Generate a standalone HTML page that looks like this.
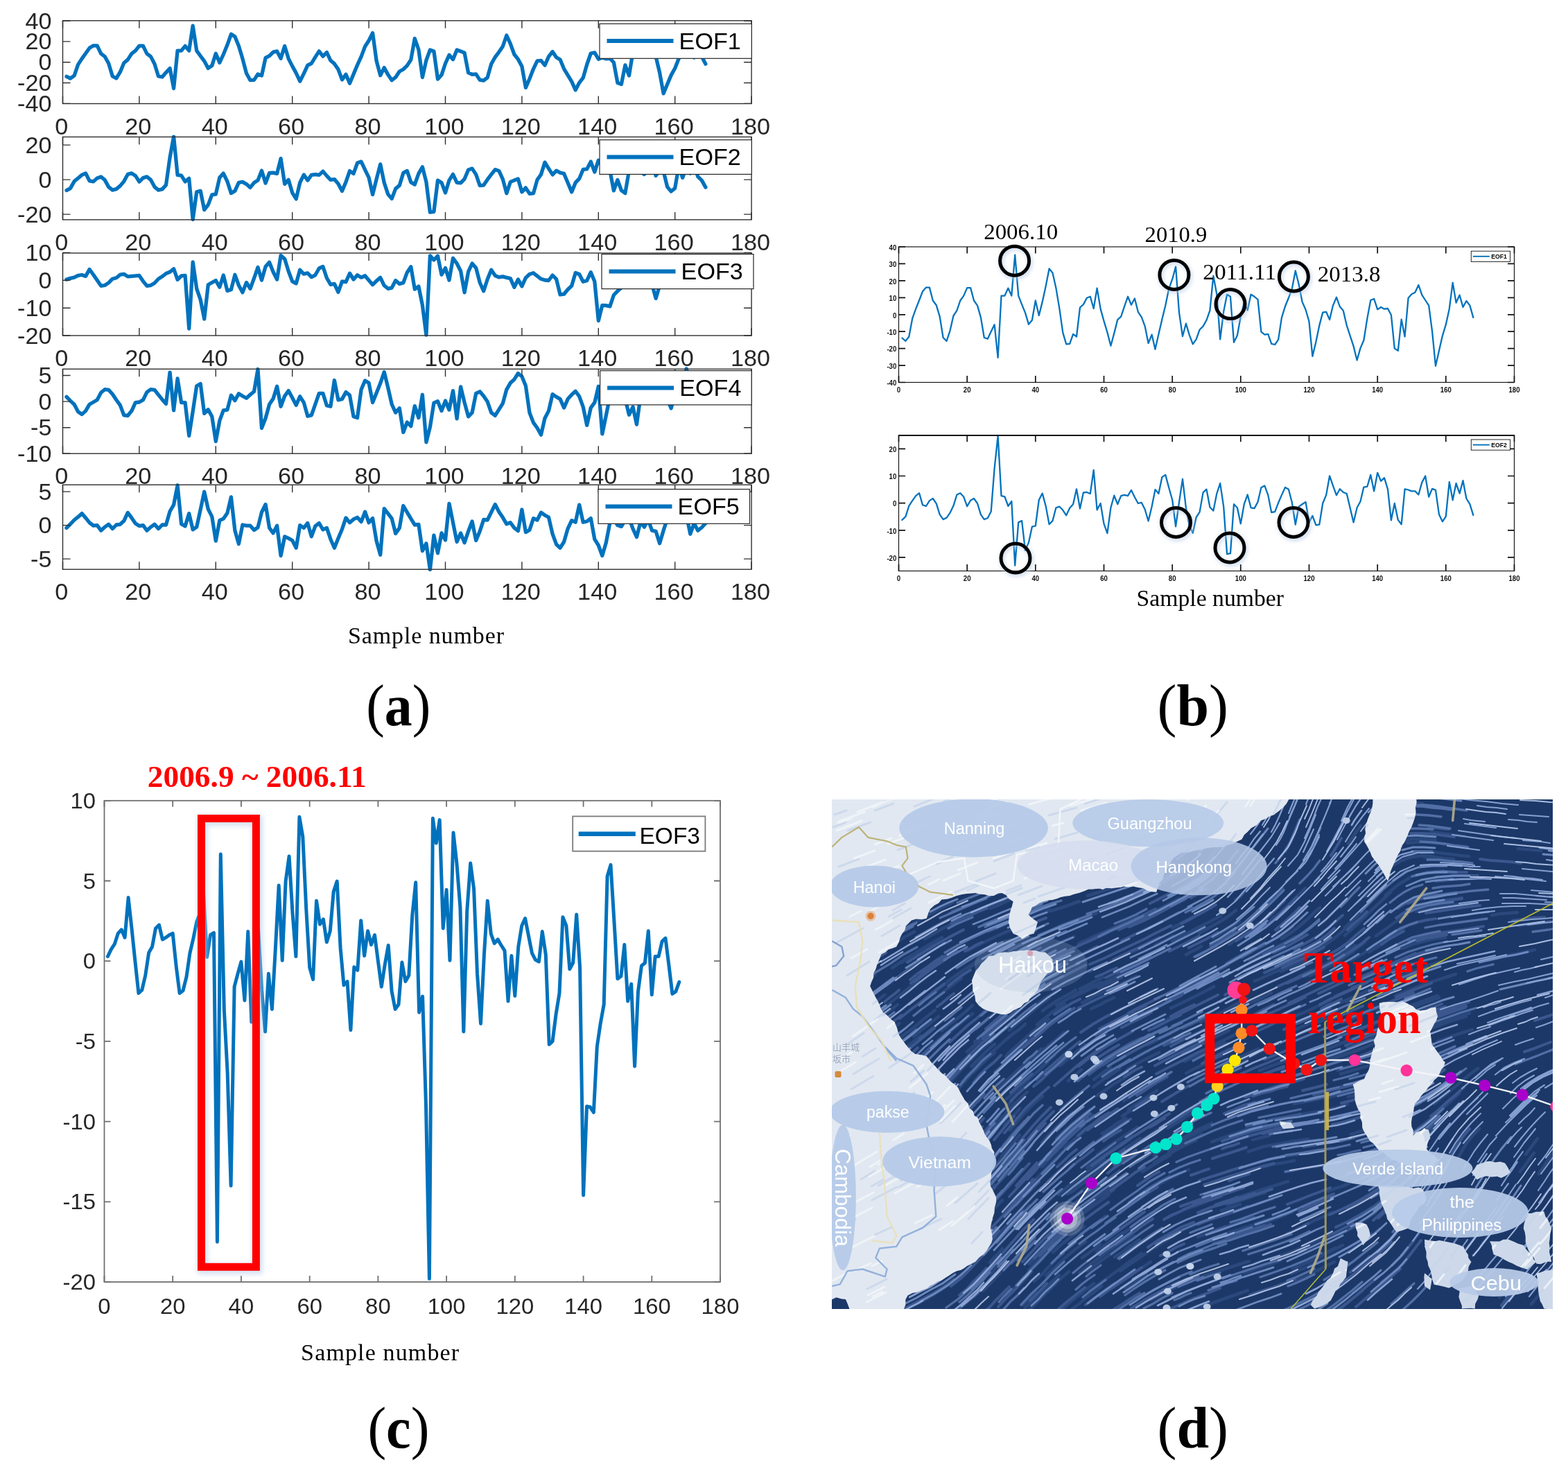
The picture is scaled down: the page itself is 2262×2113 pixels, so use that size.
<!DOCTYPE html><html><head><meta charset="utf-8"><title>EOF time series and typhoon track</title>
<style>html,body{margin:0;padding:0;background:#fff;width:2262px;height:2113px}svg{display:block}</style></head><body>
<svg width="2262" height="2113" viewBox="0 0 2262 2113">
<rect width="2262" height="2113" fill="#fff"/>
<g id="panel-a"><clipPath id="c1"><rect x="90.5" y="26.8" width="993.6" height="125.7"/></clipPath><polyline points="96,110.3 101.5,113 107.1,109.1 112.6,93.1 118.1,84.6 123.6,77 129.1,69.3 134.7,65.8 140.2,65.8 145.7,77.3 151.2,81.5 156.7,91.5 162.3,110 167.8,113 173.3,103.9 178.8,90.7 184.3,86.1 189.9,77.3 195.4,73.1 200.9,66.1 206.4,66.1 211.9,77.3 217.5,81.6 223,92.2 228.5,110 234,111 239.5,104.6 245.1,98.5 250.6,127.6 256.1,73.1 261.6,73.1 267.1,66.4 272.7,73.1 278.2,37.2 283.7,73.1 289.2,80.7 294.7,88.1 300.3,98.4 305.8,94.6 311.3,77.3 316.8,90.4 322.3,78.5 327.9,64.8 333.4,49.3 338.9,52.8 344.4,66.3 349.9,84.6 355.5,105.7 361,115.7 366.5,115.4 372,106.9 377.5,109.1 383.1,83.4 388.6,80.7 394.1,75.1 399.6,73.9 405.1,84.3 410.7,66.4 416.2,84.6 421.7,95.4 427.2,105.4 432.7,117.2 438.3,106.1 443.8,94.2 449.3,91.5 454.8,82.4 460.3,73.9 465.9,81.2 471.4,75.5 476.9,87.3 482.4,91.9 487.9,100 493.5,114.9 499,107.3 504.5,120.3 510,106.9 515.5,93.9 521.1,81.6 526.6,67 532.1,58.5 537.6,47.5 543.1,87.8 548.7,108.8 554.2,97.6 559.7,107.6 565.2,115.7 570.7,111.5 576.3,103 581.8,100 587.3,94.6 592.8,86.1 598.3,55.5 603.9,71.6 609.4,111.5 614.9,87 620.4,71.9 625.9,73.9 631.5,114.2 637,108.1 642.5,91.5 648,79.3 653.5,85.8 659.1,71.9 664.6,73.9 670.1,76.3 675.6,104.9 681.1,107.3 686.7,106.9 692.2,115.4 697.7,116.1 703.2,111.8 708.7,92.2 714.3,82.4 719.8,75.1 725.3,67 730.8,51 736.3,63.1 741.9,78.5 747.4,85.4 752.9,95.8 758.4,126.4 763.9,113.7 769.5,99.3 775,87.8 780.5,87.3 786,94.2 791.5,81.6 797.1,74.5 802.6,82.7 808.1,86.1 813.6,99.3 819.1,108.4 824.7,117.6 830.2,129.8 835.7,119.3 841.2,112.2 846.7,93 852.3,77 857.8,75.8 863.3,85.2 868.8,83.1 874.3,84.8 879.9,84.3 885.4,90 890.9,119.5 896.4,121.5 901.9,93.9 907.5,109.1 913,75.1 918.5,71.6 924,70.1 929.5,63.6 935.1,72.4 940.6,77 946.1,81.6 951.6,104.6 957.1,134.9 962.7,121.5 968.2,108.4 973.7,98.5 979.2,84.6 984.7,61.5 990.3,79.3 995.8,72.5 1001.3,83.1 1006.8,77.6 1012.3,81.6 1017.9,92.2" fill="none" stroke="#0072BD" stroke-width="5.3" stroke-linejoin="round" stroke-linecap="round" clip-path="url(#c1)"/><path d="M90.5 149.5v-11 M90.5 29.8v11 M200.9 149.5v-11 M200.9 29.8v11 M311.3 149.5v-11 M311.3 29.8v11 M421.7 149.5v-11 M421.7 29.8v11 M532.1 149.5v-11 M532.1 29.8v11 M642.5 149.5v-11 M642.5 29.8v11 M752.9 149.5v-11 M752.9 29.8v11 M863.3 149.5v-11 M863.3 29.8v11 M973.7 149.5v-11 M973.7 29.8v11 M1084.1 149.5v-11 M1084.1 29.8v11 M90.5 149.4h11 M1084.1 149.4h-11 M90.5 119.5h11 M1084.1 119.5h-11 M90.5 89.7h11 M1084.1 89.7h-11 M90.5 59.9h11 M1084.1 59.9h-11 M90.5 30h11 M1084.1 30h-11 " stroke="#303030" stroke-width="1.4" fill="none"/><rect x="90.5" y="29.8" width="993.6" height="119.7" fill="none" stroke="#303030" stroke-width="1.4"/><text transform="translate(88.9 193.7) scale(1.045 1)" font-family="'Liberation Sans', Arial, sans-serif" font-size="32.8" text-anchor="middle" fill="#262626" font-weight="normal" >0</text><text transform="translate(199.3 193.7) scale(1.045 1)" font-family="'Liberation Sans', Arial, sans-serif" font-size="32.8" text-anchor="middle" fill="#262626" font-weight="normal" >20</text><text transform="translate(309.7 193.7) scale(1.045 1)" font-family="'Liberation Sans', Arial, sans-serif" font-size="32.8" text-anchor="middle" fill="#262626" font-weight="normal" >40</text><text transform="translate(420.1 193.7) scale(1.045 1)" font-family="'Liberation Sans', Arial, sans-serif" font-size="32.8" text-anchor="middle" fill="#262626" font-weight="normal" >60</text><text transform="translate(530.5 193.7) scale(1.045 1)" font-family="'Liberation Sans', Arial, sans-serif" font-size="32.8" text-anchor="middle" fill="#262626" font-weight="normal" >80</text><text transform="translate(640.9 193.7) scale(1.045 1)" font-family="'Liberation Sans', Arial, sans-serif" font-size="32.8" text-anchor="middle" fill="#262626" font-weight="normal" >100</text><text transform="translate(751.3 193.7) scale(1.045 1)" font-family="'Liberation Sans', Arial, sans-serif" font-size="32.8" text-anchor="middle" fill="#262626" font-weight="normal" >120</text><text transform="translate(861.7 193.7) scale(1.045 1)" font-family="'Liberation Sans', Arial, sans-serif" font-size="32.8" text-anchor="middle" fill="#262626" font-weight="normal" >140</text><text transform="translate(972.1 193.7) scale(1.045 1)" font-family="'Liberation Sans', Arial, sans-serif" font-size="32.8" text-anchor="middle" fill="#262626" font-weight="normal" >160</text><text transform="translate(1082.5 193.7) scale(1.045 1)" font-family="'Liberation Sans', Arial, sans-serif" font-size="32.8" text-anchor="middle" fill="#262626" font-weight="normal" >180</text><text transform="translate(74.5 160.9) scale(1.045 1)" font-family="'Liberation Sans', Arial, sans-serif" font-size="32.8" text-anchor="end" fill="#262626" font-weight="normal" >-40</text><text transform="translate(74.5 131.1) scale(1.045 1)" font-family="'Liberation Sans', Arial, sans-serif" font-size="32.8" text-anchor="end" fill="#262626" font-weight="normal" >-20</text><text transform="translate(74.5 101.2) scale(1.045 1)" font-family="'Liberation Sans', Arial, sans-serif" font-size="32.8" text-anchor="end" fill="#262626" font-weight="normal" >0</text><text transform="translate(74.5 71.4) scale(1.045 1)" font-family="'Liberation Sans', Arial, sans-serif" font-size="32.8" text-anchor="end" fill="#262626" font-weight="normal" >20</text><text transform="translate(74.5 41.5) scale(1.045 1)" font-family="'Liberation Sans', Arial, sans-serif" font-size="32.8" text-anchor="end" fill="#262626" font-weight="normal" >40</text><rect x="865" y="34.3" width="219.3" height="50" fill="#fff" stroke="#262626" stroke-width="1.2"/><line x1="875.5" y1="59.1" x2="971.5" y2="59.1" stroke="#0072BD" stroke-width="6"/><text transform="translate(979.6 70.7) scale(1.02 1)" font-family="'Liberation Sans', Arial, sans-serif" font-size="33.5" text-anchor="start" fill="#000" font-weight="normal" >EOF1</text><clipPath id="c2"><rect x="90.5" y="194.5" width="993.6" height="125.4"/></clipPath><polyline points="96,274.6 101.5,271.6 107.1,261.6 112.6,256.9 118.1,252.4 123.6,249.9 129.1,260.9 134.7,261.9 140.2,256.9 145.7,254.9 151.2,259.6 156.7,269.6 162.3,274.1 167.8,272.6 173.3,268.1 178.8,261.6 184.3,251.4 189.9,249.9 195.4,253.4 200.9,262.1 206.4,256.6 211.9,254.9 217.5,259.4 223,269.6 228.5,274.1 234,272.9 239.5,266.9 245.1,227.1 250.6,197.1 256.1,252.4 261.6,253.1 267.1,261.9 272.7,257.4 278.2,316.6 283.7,276.9 289.2,275.4 294.7,302.6 300.3,295.4 305.8,280.9 311.3,280.1 316.8,256.1 322.3,250.1 327.9,261.6 333.4,278.6 338.9,275.4 344.4,263.4 349.9,262.4 355.5,265.6 361,270.4 366.5,263.6 372,260.1 377.5,246.1 383.1,264.1 388.6,249.4 394.1,249.1 399.6,250.4 405.1,228.6 410.7,265.4 416.2,259.4 421.7,278.1 427.2,286.9 432.7,263.4 438.3,252.1 443.8,260.1 449.3,252.4 454.8,251.6 460.3,252.4 465.9,247.1 471.4,253.6 476.9,259.4 482.4,258.6 487.9,264.9 493.5,275.6 499,262.4 504.5,246.6 510,250.4 515.5,235.1 521.1,233.1 526.6,244.9 532.1,256.1 537.6,280.6 543.1,258.4 548.7,236.9 554.2,263.4 559.7,280.1 565.2,286.6 570.7,272.1 576.3,267.4 581.8,249.4 587.3,246.4 592.8,262.9 598.3,266.1 603.9,250.4 609.4,240.9 614.9,262.4 620.4,306.1 625.9,305.4 631.5,260.1 637,263.4 642.5,278.1 648,260.1 653.5,251.4 659.1,263.4 664.6,263.9 670.1,258.1 675.6,244.9 681.1,243.1 686.7,251.6 692.2,267.6 697.7,267.1 703.2,258.9 708.7,251.6 714.3,244.6 719.8,246.4 725.3,258.4 730.8,278.9 736.3,262.4 741.9,260.1 747.4,258.1 752.9,276.9 758.4,270.9 763.9,279.4 769.5,278.9 775,259.4 780.5,251.6 786,234.1 791.5,243.1 797.1,251.9 802.6,246.1 808.1,249.1 813.6,250.4 819.1,263.6 824.7,276.9 830.2,263.4 835.7,257.6 841.2,244.4 846.7,243.9 852.3,233.1 857.8,248.1 863.3,231.1 868.8,238.9 874.3,235.9 879.9,246.4 885.4,274.9 890.9,259.4 896.4,274.6 901.9,278.6 907.5,246.1 913,246.9 918.5,248.1 924,248.1 929.5,251.4 935.1,240.1 940.6,234.1 946.1,253.4 951.6,245.9 957.1,247.1 962.7,269.6 968.2,276.1 973.7,271.4 979.2,239.6 984.7,256.4 990.3,240.9 995.8,250.1 1001.3,238.4 1006.8,254.9 1012.3,260.1 1017.9,270.1" fill="none" stroke="#0072BD" stroke-width="5.3" stroke-linejoin="round" stroke-linecap="round" clip-path="url(#c2)"/><path d="M90.5 316.9v-11 M90.5 197.5v11 M200.9 316.9v-11 M200.9 197.5v11 M311.3 316.9v-11 M311.3 197.5v11 M421.7 316.9v-11 M421.7 197.5v11 M532.1 316.9v-11 M532.1 197.5v11 M642.5 316.9v-11 M642.5 197.5v11 M752.9 316.9v-11 M752.9 197.5v11 M863.3 316.9v-11 M863.3 197.5v11 M973.7 316.9v-11 M973.7 197.5v11 M1084.1 316.9v-11 M1084.1 197.5v11 M90.5 309.1h11 M1084.1 309.1h-11 M90.5 259.1h11 M1084.1 259.1h-11 M90.5 209.1h11 M1084.1 209.1h-11 " stroke="#303030" stroke-width="1.4" fill="none"/><rect x="90.5" y="197.5" width="993.6" height="119.4" fill="none" stroke="#303030" stroke-width="1.4"/><text transform="translate(88.9 361.1) scale(1.045 1)" font-family="'Liberation Sans', Arial, sans-serif" font-size="32.8" text-anchor="middle" fill="#262626" font-weight="normal" >0</text><text transform="translate(199.3 361.1) scale(1.045 1)" font-family="'Liberation Sans', Arial, sans-serif" font-size="32.8" text-anchor="middle" fill="#262626" font-weight="normal" >20</text><text transform="translate(309.7 361.1) scale(1.045 1)" font-family="'Liberation Sans', Arial, sans-serif" font-size="32.8" text-anchor="middle" fill="#262626" font-weight="normal" >40</text><text transform="translate(420.1 361.1) scale(1.045 1)" font-family="'Liberation Sans', Arial, sans-serif" font-size="32.8" text-anchor="middle" fill="#262626" font-weight="normal" >60</text><text transform="translate(530.5 361.1) scale(1.045 1)" font-family="'Liberation Sans', Arial, sans-serif" font-size="32.8" text-anchor="middle" fill="#262626" font-weight="normal" >80</text><text transform="translate(640.9 361.1) scale(1.045 1)" font-family="'Liberation Sans', Arial, sans-serif" font-size="32.8" text-anchor="middle" fill="#262626" font-weight="normal" >100</text><text transform="translate(751.3 361.1) scale(1.045 1)" font-family="'Liberation Sans', Arial, sans-serif" font-size="32.8" text-anchor="middle" fill="#262626" font-weight="normal" >120</text><text transform="translate(861.7 361.1) scale(1.045 1)" font-family="'Liberation Sans', Arial, sans-serif" font-size="32.8" text-anchor="middle" fill="#262626" font-weight="normal" >140</text><text transform="translate(972.1 361.1) scale(1.045 1)" font-family="'Liberation Sans', Arial, sans-serif" font-size="32.8" text-anchor="middle" fill="#262626" font-weight="normal" >160</text><text transform="translate(1082.5 361.1) scale(1.045 1)" font-family="'Liberation Sans', Arial, sans-serif" font-size="32.8" text-anchor="middle" fill="#262626" font-weight="normal" >180</text><text transform="translate(74.5 320.6) scale(1.045 1)" font-family="'Liberation Sans', Arial, sans-serif" font-size="32.8" text-anchor="end" fill="#262626" font-weight="normal" >-20</text><text transform="translate(74.5 270.6) scale(1.045 1)" font-family="'Liberation Sans', Arial, sans-serif" font-size="32.8" text-anchor="end" fill="#262626" font-weight="normal" >0</text><text transform="translate(74.5 220.6) scale(1.045 1)" font-family="'Liberation Sans', Arial, sans-serif" font-size="32.8" text-anchor="end" fill="#262626" font-weight="normal" >20</text><rect x="865" y="201.7" width="219.3" height="49.7" fill="#fff" stroke="#262626" stroke-width="1.2"/><line x1="875.5" y1="226.5" x2="971.5" y2="226.5" stroke="#0072BD" stroke-width="6"/><text transform="translate(979.6 238.1) scale(1.02 1)" font-family="'Liberation Sans', Arial, sans-serif" font-size="33.5" text-anchor="start" fill="#000" font-weight="normal" >EOF2</text><clipPath id="c3"><rect x="90.5" y="362" width="993.6" height="125"/></clipPath><polyline points="96,403.1 101.5,401.4 107.1,400.1 112.6,397.4 118.1,396.5 123.6,398.4 129.1,388.5 134.7,396.2 140.2,404.3 145.7,412.3 151.2,411.5 156.7,407.9 162.3,402.2 167.8,400.7 173.3,396.2 178.8,395.3 184.3,398.9 189.9,398.4 195.4,397.8 200.9,397.4 206.4,405.6 211.9,412.3 217.5,411.6 223,408.2 228.5,402.3 234,398.8 239.5,394.5 245.1,392.3 250.6,387.7 256.1,403.3 261.6,397.8 267.1,397.3 272.7,474 278.2,377.8 283.7,416.3 289.2,432.2 294.7,460.1 300.3,410.7 305.8,407.5 311.3,404.5 316.8,414.1 322.3,397 327.9,419.4 333.4,417.8 338.9,396.3 344.4,411.5 349.9,421.8 355.5,407.4 361,416.3 366.5,401.4 372,385.5 377.5,404.1 383.1,384.5 388.6,378.2 394.1,392.3 399.6,403.1 405.1,368.5 410.7,373.4 416.2,391.3 421.7,405.9 427.2,408.8 432.7,389.3 438.3,395.2 443.8,393.9 449.3,399.6 454.8,396.8 460.3,387 465.9,384.5 471.4,401 476.9,410.3 482.4,409.4 487.9,421.4 493.5,405.8 499,406.6 504.5,394.2 510,403 515.5,396.8 521.1,400.2 526.6,397.8 532.1,404.3 537.6,410.7 543.1,405.1 548.7,400.4 554.2,411.8 559.7,416.3 565.2,415.1 570.7,404.6 576.3,409.4 581.8,407.9 587.3,392.9 592.8,384.8 598.3,417.1 603.9,413.1 609.4,440.2 614.9,483.2 620.4,368.8 625.9,375 631.5,369.2 637,396.2 642.5,386.6 648,404.1 653.5,372.4 659.1,380 664.6,391 670.1,421.8 675.6,391.9 681.1,380 686.7,386.4 692.2,407.5 697.7,419.8 703.2,402.7 708.7,389.3 714.3,397.5 719.8,399.9 725.3,398.9 730.8,400.4 736.3,401.7 741.9,414.3 747.4,403 752.9,412.9 758.4,400.7 763.9,395.5 769.5,393.7 775,398.1 780.5,402.3 786,404 791.5,404.5 797.1,397 802.6,402.7 808.1,425 813.6,424.2 819.1,417.5 824.7,412.3 830.2,393.4 835.7,395.5 841.2,406.3 846.7,404.7 852.3,392.7 857.8,405.9 863.3,462.5 868.8,440.4 874.3,440.6 879.9,441.9 885.4,425.5 890.9,419.8 896.4,415.1 901.9,383.2 907.5,380.4 913,394.5 918.5,408.7 924,408 929.5,400.2 935.1,414.3 940.6,410 946.1,430.4 951.6,411.9 957.1,405.5 962.7,404.8 968.2,396.8 973.7,412.7 979.2,403.1 984.7,403.1 990.3,399.4 995.8,398.6 1001.3,405.5 1006.8,412.4 1012.3,411.9 1017.9,409.5" fill="none" stroke="#0072BD" stroke-width="5.3" stroke-linejoin="round" stroke-linecap="round" clip-path="url(#c3)"/><path d="M90.5 484v-11 M90.5 365v11 M200.9 484v-11 M200.9 365v11 M311.3 484v-11 M311.3 365v11 M421.7 484v-11 M421.7 365v11 M532.1 484v-11 M532.1 365v11 M642.5 484v-11 M642.5 365v11 M752.9 484v-11 M752.9 365v11 M863.3 484v-11 M863.3 365v11 M973.7 484v-11 M973.7 365v11 M1084.1 484v-11 M1084.1 365v11 M90.5 484h11 M1084.1 484h-11 M90.5 444.2h11 M1084.1 444.2h-11 M90.5 404.3h11 M1084.1 404.3h-11 M90.5 364.4h11 M1084.1 364.4h-11 " stroke="#303030" stroke-width="1.4" fill="none"/><rect x="90.5" y="365" width="993.6" height="119" fill="none" stroke="#303030" stroke-width="1.4"/><text transform="translate(88.9 528.2) scale(1.045 1)" font-family="'Liberation Sans', Arial, sans-serif" font-size="32.8" text-anchor="middle" fill="#262626" font-weight="normal" >0</text><text transform="translate(199.3 528.2) scale(1.045 1)" font-family="'Liberation Sans', Arial, sans-serif" font-size="32.8" text-anchor="middle" fill="#262626" font-weight="normal" >20</text><text transform="translate(309.7 528.2) scale(1.045 1)" font-family="'Liberation Sans', Arial, sans-serif" font-size="32.8" text-anchor="middle" fill="#262626" font-weight="normal" >40</text><text transform="translate(420.1 528.2) scale(1.045 1)" font-family="'Liberation Sans', Arial, sans-serif" font-size="32.8" text-anchor="middle" fill="#262626" font-weight="normal" >60</text><text transform="translate(530.5 528.2) scale(1.045 1)" font-family="'Liberation Sans', Arial, sans-serif" font-size="32.8" text-anchor="middle" fill="#262626" font-weight="normal" >80</text><text transform="translate(640.9 528.2) scale(1.045 1)" font-family="'Liberation Sans', Arial, sans-serif" font-size="32.8" text-anchor="middle" fill="#262626" font-weight="normal" >100</text><text transform="translate(751.3 528.2) scale(1.045 1)" font-family="'Liberation Sans', Arial, sans-serif" font-size="32.8" text-anchor="middle" fill="#262626" font-weight="normal" >120</text><text transform="translate(861.7 528.2) scale(1.045 1)" font-family="'Liberation Sans', Arial, sans-serif" font-size="32.8" text-anchor="middle" fill="#262626" font-weight="normal" >140</text><text transform="translate(972.1 528.2) scale(1.045 1)" font-family="'Liberation Sans', Arial, sans-serif" font-size="32.8" text-anchor="middle" fill="#262626" font-weight="normal" >160</text><text transform="translate(1082.5 528.2) scale(1.045 1)" font-family="'Liberation Sans', Arial, sans-serif" font-size="32.8" text-anchor="middle" fill="#262626" font-weight="normal" >180</text><text transform="translate(74.5 495.5) scale(1.045 1)" font-family="'Liberation Sans', Arial, sans-serif" font-size="32.8" text-anchor="end" fill="#262626" font-weight="normal" >-20</text><text transform="translate(74.5 455.7) scale(1.045 1)" font-family="'Liberation Sans', Arial, sans-serif" font-size="32.8" text-anchor="end" fill="#262626" font-weight="normal" >-10</text><text transform="translate(74.5 415.8) scale(1.045 1)" font-family="'Liberation Sans', Arial, sans-serif" font-size="32.8" text-anchor="end" fill="#262626" font-weight="normal" >0</text><text transform="translate(74.5 375.9) scale(1.045 1)" font-family="'Liberation Sans', Arial, sans-serif" font-size="32.8" text-anchor="end" fill="#262626" font-weight="normal" >10</text><rect x="868" y="366.6" width="219" height="50" fill="#fff" stroke="#262626" stroke-width="1.2"/><line x1="878.5" y1="391.4" x2="974.5" y2="391.4" stroke="#0072BD" stroke-width="6"/><text transform="translate(982.6 403) scale(1.02 1)" font-family="'Liberation Sans', Arial, sans-serif" font-size="33.5" text-anchor="start" fill="#000" font-weight="normal" >EOF3</text><clipPath id="c4"><rect x="90.5" y="529.3" width="993.6" height="127.9"/></clipPath><polyline points="96,572.4 101.5,578.1 107.1,583.2 112.6,593.8 118.1,597.6 123.6,592.6 129.1,583.2 134.7,580 140.2,576.8 145.7,566.2 151.2,561.7 156.7,562.3 162.3,568.6 167.8,576.8 173.3,584.4 178.8,598.9 184.3,599.5 189.9,592.6 195.4,580.6 200.9,580 206.4,576.8 211.9,565.6 217.5,561.7 223,562.3 228.5,569.3 234,576.2 239.5,582.5 245.1,537.1 250.6,591.9 256.1,546 261.6,580.6 267.1,580.6 272.7,628.5 278.2,593.4 283.7,556.7 289.2,553.5 294.7,596.4 300.3,590.7 305.8,600.8 311.3,636.6 316.8,606.9 322.3,591.9 327.9,591.1 333.4,570.1 338.9,577.6 344.4,567.8 349.9,571.2 355.5,574.3 361,569.3 366.5,564.8 372,532.5 377.5,617.5 383.1,603.2 388.6,583.2 394.1,575 399.6,557.3 405.1,586.2 410.7,571.2 416.2,563.6 421.7,573.7 427.2,584.4 432.7,571.8 438.3,580.6 443.8,600.2 449.3,598.9 454.8,583.2 460.3,567.4 465.9,567.4 471.4,585 476.9,586.2 482.4,548.5 487.9,576.8 493.5,575.6 499,565.6 504.5,570.1 510,600.8 515.5,602.6 521.1,561.8 526.6,549 532.1,552.3 537.6,580.6 543.1,566.8 548.7,552.8 554.2,536.5 559.7,558.8 565.2,583.2 570.7,595.1 576.3,588.8 581.8,623.5 587.3,609 592.8,614.6 598.3,585.6 603.9,602.6 609.4,569.3 614.9,637.8 620.4,615.9 625.9,581.2 631.5,578.7 637,592.6 642.5,578.1 648,591.1 653.5,563.6 659.1,603.9 664.6,558 670.1,580.6 675.6,600.8 681.1,595.1 686.7,567.4 692.2,564.8 697.7,571.2 703.2,579.3 708.7,595.1 714.3,599.4 719.8,590.7 725.3,581.9 730.8,561.8 736.3,552.3 741.9,547.2 747.4,538.5 752.9,543 758.4,556.5 763.9,595.1 769.5,609.6 775,617.2 780.5,627.2 786,603.2 791.5,592.6 797.1,568.6 802.6,572.4 808.1,575.6 813.6,588.1 819.1,575.6 824.7,569.3 830.2,564.2 835.7,571.8 841.2,586.9 846.7,613.4 852.3,588.1 857.8,580.6 863.3,557.3 868.8,625.9 874.3,599.4 879.9,571.6 885.4,560.3 890.9,552.8 896.4,560.3 901.9,575.3 907.5,598.3 913,586.9 918.5,612.2 924,571.6 929.5,560.3 935.1,556.5 940.6,564.1 946.1,556.5 951.6,560.3 957.1,567.8 962.7,575.3 968.2,588.9 973.7,567.8 979.2,560.3 984.7,552.8 990.3,531.7 995.8,556.5 1001.3,567.8 1006.8,560.3 1012.3,567.8 1017.9,573.1" fill="none" stroke="#0072BD" stroke-width="5.3" stroke-linejoin="round" stroke-linecap="round" clip-path="url(#c4)"/><path d="M90.5 654.2v-11 M90.5 532.3v11 M200.9 654.2v-11 M200.9 532.3v11 M311.3 654.2v-11 M311.3 532.3v11 M421.7 654.2v-11 M421.7 532.3v11 M532.1 654.2v-11 M532.1 532.3v11 M642.5 654.2v-11 M642.5 532.3v11 M752.9 654.2v-11 M752.9 532.3v11 M863.3 654.2v-11 M863.3 532.3v11 M973.7 654.2v-11 M973.7 532.3v11 M1084.1 654.2v-11 M1084.1 532.3v11 M90.5 654.3h11 M1084.1 654.3h-11 M90.5 616.7h11 M1084.1 616.7h-11 M90.5 579.1h11 M1084.1 579.1h-11 M90.5 541.5h11 M1084.1 541.5h-11 " stroke="#303030" stroke-width="1.4" fill="none"/><rect x="90.5" y="532.3" width="993.6" height="121.9" fill="none" stroke="#303030" stroke-width="1.4"/><text transform="translate(88.9 698.4) scale(1.045 1)" font-family="'Liberation Sans', Arial, sans-serif" font-size="32.8" text-anchor="middle" fill="#262626" font-weight="normal" >0</text><text transform="translate(199.3 698.4) scale(1.045 1)" font-family="'Liberation Sans', Arial, sans-serif" font-size="32.8" text-anchor="middle" fill="#262626" font-weight="normal" >20</text><text transform="translate(309.7 698.4) scale(1.045 1)" font-family="'Liberation Sans', Arial, sans-serif" font-size="32.8" text-anchor="middle" fill="#262626" font-weight="normal" >40</text><text transform="translate(420.1 698.4) scale(1.045 1)" font-family="'Liberation Sans', Arial, sans-serif" font-size="32.8" text-anchor="middle" fill="#262626" font-weight="normal" >60</text><text transform="translate(530.5 698.4) scale(1.045 1)" font-family="'Liberation Sans', Arial, sans-serif" font-size="32.8" text-anchor="middle" fill="#262626" font-weight="normal" >80</text><text transform="translate(640.9 698.4) scale(1.045 1)" font-family="'Liberation Sans', Arial, sans-serif" font-size="32.8" text-anchor="middle" fill="#262626" font-weight="normal" >100</text><text transform="translate(751.3 698.4) scale(1.045 1)" font-family="'Liberation Sans', Arial, sans-serif" font-size="32.8" text-anchor="middle" fill="#262626" font-weight="normal" >120</text><text transform="translate(861.7 698.4) scale(1.045 1)" font-family="'Liberation Sans', Arial, sans-serif" font-size="32.8" text-anchor="middle" fill="#262626" font-weight="normal" >140</text><text transform="translate(972.1 698.4) scale(1.045 1)" font-family="'Liberation Sans', Arial, sans-serif" font-size="32.8" text-anchor="middle" fill="#262626" font-weight="normal" >160</text><text transform="translate(1082.5 698.4) scale(1.045 1)" font-family="'Liberation Sans', Arial, sans-serif" font-size="32.8" text-anchor="middle" fill="#262626" font-weight="normal" >180</text><text transform="translate(74.5 665.8) scale(1.045 1)" font-family="'Liberation Sans', Arial, sans-serif" font-size="32.8" text-anchor="end" fill="#262626" font-weight="normal" >-10</text><text transform="translate(74.5 628.2) scale(1.045 1)" font-family="'Liberation Sans', Arial, sans-serif" font-size="32.8" text-anchor="end" fill="#262626" font-weight="normal" >-5</text><text transform="translate(74.5 590.6) scale(1.045 1)" font-family="'Liberation Sans', Arial, sans-serif" font-size="32.8" text-anchor="end" fill="#262626" font-weight="normal" >0</text><text transform="translate(74.5 553) scale(1.045 1)" font-family="'Liberation Sans', Arial, sans-serif" font-size="32.8" text-anchor="end" fill="#262626" font-weight="normal" >5</text><rect x="865.6" y="534.6" width="218.6" height="49.3" fill="#fff" stroke="#262626" stroke-width="1.2"/><line x1="876.1" y1="559.4" x2="972.1" y2="559.4" stroke="#0072BD" stroke-width="6"/><text transform="translate(980.2 571) scale(1.02 1)" font-family="'Liberation Sans', Arial, sans-serif" font-size="33.5" text-anchor="start" fill="#000" font-weight="normal" >EOF4</text><clipPath id="c5"><rect x="90.5" y="696.3" width="993.6" height="127.9"/></clipPath><polyline points="96,761.4 101.5,755.8 107.1,750 112.6,745.7 118.1,740.6 123.6,746.9 129.1,753.8 134.7,758.2 140.2,757.6 145.7,765.2 151.2,760.1 156.7,756.3 162.3,762.6 167.8,757 173.3,756.3 178.8,751.3 184.3,739.4 189.9,746.9 195.4,755.1 200.9,758.6 206.4,757.6 211.9,765.2 217.5,760.1 223,756.3 228.5,762.6 234,757 239.5,757 245.1,737.5 250.6,728.1 256.1,699.9 261.6,755.8 267.1,758.9 272.7,740.6 278.2,763.9 283.7,760.1 289.2,735 294.7,709.3 300.3,734.4 305.8,745.1 311.3,780.2 316.8,750.7 322.3,748.2 327.9,740 333.4,716.9 338.9,765.2 344.4,784.6 349.9,757 355.5,758.2 361,758.2 366.5,764.5 372,760.7 377.5,738.8 383.1,727.5 388.6,761.4 394.1,768.9 399.6,758.2 405.1,801.5 410.7,773.9 416.2,776.4 421.7,779.5 427.2,790.2 432.7,757.6 438.3,761.4 443.8,754.5 449.3,773.9 454.8,758.9 460.3,754.5 465.9,763.9 471.4,761.4 476.9,777.7 482.4,790.2 487.9,776.4 493.5,763.2 499,746.9 504.5,753.8 510,748.9 515.5,746.3 521.1,752.6 526.6,738.2 532.1,753.8 537.6,747.6 543.1,780.2 548.7,800.3 554.2,733.7 559.7,740.7 565.2,747.9 570.7,769.5 576.3,761.4 581.8,729.5 587.3,738.8 592.8,748.2 598.3,757 603.9,756.3 609.4,794.5 614.9,783.8 620.4,821.6 625.9,772.1 631.5,797.8 637,768.9 642.5,778.9 648,726.3 653.5,753.8 659.1,781.5 664.6,768.9 670.1,782.7 675.6,766.3 681.1,752 686.7,779.5 692.2,766.3 697.7,749.5 703.2,750 708.7,738.8 714.3,727.5 719.8,738.2 725.3,746.3 730.8,755.8 736.3,753.8 741.9,761.4 747.4,765.7 752.9,735 758.4,767.6 763.9,764.5 769.5,747.6 775,750 780.5,739.2 786,743.1 791.5,746 797.1,770.2 802.6,785.2 808.1,790.2 813.6,781.5 819.1,762.6 824.7,750.7 830.2,753.2 835.7,728.1 841.2,753.2 846.7,752 852.3,747.6 857.8,777.7 863.3,786.5 868.8,801.5 874.3,782.7 879.9,753.8 885.4,747.9 890.9,757.6 896.4,759.4 901.9,749.8 907.5,747.9 913,762.5 918.5,774.6 924,752.8 929.5,760.1 935.1,749.8 940.6,765.2 946.1,766.3 951.6,783.8 957.1,765.2 962.7,747.9 968.2,743.1 973.7,738.2 979.2,743.1 984.7,747.9 990.3,743.1 995.8,770.2 1001.3,754.7 1006.8,765.2 1012.3,760.7 1017.9,754.7" fill="none" stroke="#0072BD" stroke-width="5.3" stroke-linejoin="round" stroke-linecap="round" clip-path="url(#c5)"/><path d="M90.5 821.2v-11 M90.5 699.3v11 M200.9 821.2v-11 M200.9 699.3v11 M311.3 821.2v-11 M311.3 699.3v11 M421.7 821.2v-11 M421.7 699.3v11 M532.1 821.2v-11 M532.1 699.3v11 M642.5 821.2v-11 M642.5 699.3v11 M752.9 821.2v-11 M752.9 699.3v11 M863.3 821.2v-11 M863.3 699.3v11 M973.7 821.2v-11 M973.7 699.3v11 M1084.1 821.2v-11 M1084.1 699.3v11 M90.5 806.1h11 M1084.1 806.1h-11 M90.5 757.6h11 M1084.1 757.6h-11 M90.5 709.1h11 M1084.1 709.1h-11 " stroke="#303030" stroke-width="1.4" fill="none"/><rect x="90.5" y="699.3" width="993.6" height="121.9" fill="none" stroke="#303030" stroke-width="1.4"/><text transform="translate(88.9 865.4) scale(1.045 1)" font-family="'Liberation Sans', Arial, sans-serif" font-size="32.8" text-anchor="middle" fill="#262626" font-weight="normal" >0</text><text transform="translate(199.3 865.4) scale(1.045 1)" font-family="'Liberation Sans', Arial, sans-serif" font-size="32.8" text-anchor="middle" fill="#262626" font-weight="normal" >20</text><text transform="translate(309.7 865.4) scale(1.045 1)" font-family="'Liberation Sans', Arial, sans-serif" font-size="32.8" text-anchor="middle" fill="#262626" font-weight="normal" >40</text><text transform="translate(420.1 865.4) scale(1.045 1)" font-family="'Liberation Sans', Arial, sans-serif" font-size="32.8" text-anchor="middle" fill="#262626" font-weight="normal" >60</text><text transform="translate(530.5 865.4) scale(1.045 1)" font-family="'Liberation Sans', Arial, sans-serif" font-size="32.8" text-anchor="middle" fill="#262626" font-weight="normal" >80</text><text transform="translate(640.9 865.4) scale(1.045 1)" font-family="'Liberation Sans', Arial, sans-serif" font-size="32.8" text-anchor="middle" fill="#262626" font-weight="normal" >100</text><text transform="translate(751.3 865.4) scale(1.045 1)" font-family="'Liberation Sans', Arial, sans-serif" font-size="32.8" text-anchor="middle" fill="#262626" font-weight="normal" >120</text><text transform="translate(861.7 865.4) scale(1.045 1)" font-family="'Liberation Sans', Arial, sans-serif" font-size="32.8" text-anchor="middle" fill="#262626" font-weight="normal" >140</text><text transform="translate(972.1 865.4) scale(1.045 1)" font-family="'Liberation Sans', Arial, sans-serif" font-size="32.8" text-anchor="middle" fill="#262626" font-weight="normal" >160</text><text transform="translate(1082.5 865.4) scale(1.045 1)" font-family="'Liberation Sans', Arial, sans-serif" font-size="32.8" text-anchor="middle" fill="#262626" font-weight="normal" >180</text><text transform="translate(74.5 817.6) scale(1.045 1)" font-family="'Liberation Sans', Arial, sans-serif" font-size="32.8" text-anchor="end" fill="#262626" font-weight="normal" >-5</text><text transform="translate(74.5 769.1) scale(1.045 1)" font-family="'Liberation Sans', Arial, sans-serif" font-size="32.8" text-anchor="end" fill="#262626" font-weight="normal" >0</text><text transform="translate(74.5 720.6) scale(1.045 1)" font-family="'Liberation Sans', Arial, sans-serif" font-size="32.8" text-anchor="end" fill="#262626" font-weight="normal" >5</text><rect x="863" y="705.6" width="218.5" height="49.7" fill="#fff" stroke="#262626" stroke-width="1.2"/><line x1="873.5" y1="730.4" x2="969.5" y2="730.4" stroke="#0072BD" stroke-width="6"/><text transform="translate(977.6 742) scale(1.02 1)" font-family="'Liberation Sans', Arial, sans-serif" font-size="33.5" text-anchor="start" fill="#000" font-weight="normal" >EOF5</text><text x="614.5" y="927.8" font-family="'Liberation Serif', 'Times New Roman', serif" font-size="34" text-anchor="middle" fill="#000" font-weight="normal" textLength="225" lengthAdjust="spacing">Sample number</text></g>
<g id="panel-b"><clipPath id="c6"><rect x="1296.5" y="355" width="888" height="197.5"/></clipPath><polyline points="1301.4,487.5 1306.4,491.9 1311.3,485.5 1316.2,459.4 1321.2,445.4 1326.1,433 1331,420.3 1336,414.6 1340.9,414.6 1345.8,433.5 1350.8,440.3 1355.7,456.7 1360.6,487 1365.6,491.9 1370.5,477 1375.4,455.5 1380.4,447.9 1385.3,433.5 1390.2,426.6 1395.2,415.1 1400.1,415.1 1405,433.5 1410,440.6 1414.9,457.9 1419.8,487 1424.8,488.7 1429.7,478.2 1434.6,468.2 1439.6,515.8 1444.5,426.6 1449.4,426.6 1454.4,415.6 1459.3,426.6 1464.2,367.7 1469.2,426.6 1474.1,439.1 1479,451.1 1484,467.9 1488.9,461.8 1493.8,433.5 1498.8,455 1503.7,435.4 1508.6,412.9 1513.6,387.5 1518.5,393.4 1523.4,415.4 1528.4,445.4 1533.3,479.9 1538.2,496.3 1543.2,495.8 1548.1,481.9 1553,485.5 1558,443.5 1562.9,439.1 1567.8,429.8 1572.8,427.8 1577.7,445 1582.6,415.6 1587.6,445.4 1592.5,463 1597.4,479.4 1602.4,498.7 1607.3,480.6 1612.2,461.1 1617.2,456.7 1622.1,441.8 1627,427.8 1632,439.8 1636.9,430.5 1641.8,449.8 1646.8,457.4 1651.7,470.6 1656.6,495 1661.6,482.6 1666.5,503.8 1671.4,481.9 1676.4,460.6 1681.3,440.6 1686.2,416.6 1691.2,402.7 1696.1,384.6 1701,450.6 1706,485 1710.9,466.7 1715.8,483.1 1720.8,496.3 1725.7,489.4 1730.6,475.5 1735.6,470.6 1740.5,461.8 1745.4,447.9 1750.4,397.8 1755.3,424.2 1760.2,489.4 1765.2,449.4 1770.1,424.7 1775,427.8 1780,493.8 1784.9,483.8 1789.8,456.7 1794.8,436.6 1799.7,447.4 1804.6,424.7 1809.6,427.8 1814.5,431.8 1819.4,478.7 1824.4,482.6 1829.3,481.9 1834.2,495.8 1839.2,497 1844.1,489.9 1849,457.9 1854,441.8 1858.9,429.8 1863.8,416.6 1868.8,390.5 1873.7,410.3 1878.6,435.4 1883.6,446.7 1888.5,463.8 1893.4,513.9 1898.4,493.1 1903.3,469.4 1908.2,450.6 1913.2,449.8 1918.1,461.1 1923,440.6 1928,428.8 1932.9,442.3 1937.8,447.9 1942.8,469.4 1947.7,484.3 1952.6,499.4 1957.6,519.5 1962.5,502.1 1967.4,490.7 1972.4,459.1 1977.3,433 1982.2,431 1987.2,446.4 1992.1,443 1997,445.7 2002,445 2006.9,454.2 2011.8,502.6 2016.8,505.8 2021.7,460.6 2026.6,485.5 2031.6,429.8 2036.5,424.2 2041.4,421.7 2046.4,411 2051.3,425.4 2056.2,433 2061.2,440.6 2066.1,478.2 2071,527.8 2076,505.8 2080.9,484.3 2085.8,468.2 2090.8,445.4 2095.7,407.6 2100.6,436.6 2105.6,425.6 2110.5,443 2115.4,434 2120.4,440.6 2125.3,457.9" fill="none" stroke="#0072BD" stroke-width="2.3" stroke-linejoin="round" stroke-linecap="round" clip-path="url(#c6)"/><path d="M1296.5 551.5v-9.5 M1296.5 356v9.5 M1395.2 551.5v-9.5 M1395.2 356v9.5 M1493.8 551.5v-9.5 M1493.8 356v9.5 M1592.5 551.5v-9.5 M1592.5 356v9.5 M1691.2 551.5v-9.5 M1691.2 356v9.5 M1789.8 551.5v-9.5 M1789.8 356v9.5 M1888.5 551.5v-9.5 M1888.5 356v9.5 M1987.2 551.5v-9.5 M1987.2 356v9.5 M2085.8 551.5v-9.5 M2085.8 356v9.5 M2184.5 551.5v-9.5 M2184.5 356v9.5 M1296.5 551.5h9.5 M2184.5 551.5h-9.5 M1296.5 527.1h9.5 M2184.5 527.1h-9.5 M1296.5 502.6h9.5 M2184.5 502.6h-9.5 M1296.5 478.2h9.5 M2184.5 478.2h-9.5 M1296.5 453.8h9.5 M2184.5 453.8h-9.5 M1296.5 429.3h9.5 M2184.5 429.3h-9.5 M1296.5 404.9h9.5 M2184.5 404.9h-9.5 M1296.5 380.4h9.5 M2184.5 380.4h-9.5 M1296.5 356h9.5 M2184.5 356h-9.5 " stroke="#111" stroke-width="1.7" fill="none"/><rect x="1296.5" y="356" width="888" height="195.5" fill="none" stroke="#111" stroke-width="1.15"/><text transform="translate(1296.5 566.1) scale(0.96 1)" font-family="'Liberation Sans', Arial, sans-serif" font-size="10" text-anchor="middle" fill="#111" font-weight="bold" >0</text><text transform="translate(1395.2 566.1) scale(0.96 1)" font-family="'Liberation Sans', Arial, sans-serif" font-size="10" text-anchor="middle" fill="#111" font-weight="bold" >20</text><text transform="translate(1493.8 566.1) scale(0.96 1)" font-family="'Liberation Sans', Arial, sans-serif" font-size="10" text-anchor="middle" fill="#111" font-weight="bold" >40</text><text transform="translate(1592.5 566.1) scale(0.96 1)" font-family="'Liberation Sans', Arial, sans-serif" font-size="10" text-anchor="middle" fill="#111" font-weight="bold" >60</text><text transform="translate(1691.2 566.1) scale(0.96 1)" font-family="'Liberation Sans', Arial, sans-serif" font-size="10" text-anchor="middle" fill="#111" font-weight="bold" >80</text><text transform="translate(1789.8 566.1) scale(0.96 1)" font-family="'Liberation Sans', Arial, sans-serif" font-size="10" text-anchor="middle" fill="#111" font-weight="bold" >100</text><text transform="translate(1888.5 566.1) scale(0.96 1)" font-family="'Liberation Sans', Arial, sans-serif" font-size="10" text-anchor="middle" fill="#111" font-weight="bold" >120</text><text transform="translate(1987.2 566.1) scale(0.96 1)" font-family="'Liberation Sans', Arial, sans-serif" font-size="10" text-anchor="middle" fill="#111" font-weight="bold" >140</text><text transform="translate(2085.8 566.1) scale(0.96 1)" font-family="'Liberation Sans', Arial, sans-serif" font-size="10" text-anchor="middle" fill="#111" font-weight="bold" >160</text><text transform="translate(2184.5 566.1) scale(0.96 1)" font-family="'Liberation Sans', Arial, sans-serif" font-size="10" text-anchor="middle" fill="#111" font-weight="bold" >180</text><text transform="translate(1293.3 556.3) scale(0.96 1)" font-family="'Liberation Sans', Arial, sans-serif" font-size="10" text-anchor="end" fill="#111" font-weight="bold" >-40</text><text transform="translate(1293.3 531.9) scale(0.96 1)" font-family="'Liberation Sans', Arial, sans-serif" font-size="10" text-anchor="end" fill="#111" font-weight="bold" >-30</text><text transform="translate(1293.3 507.4) scale(0.96 1)" font-family="'Liberation Sans', Arial, sans-serif" font-size="10" text-anchor="end" fill="#111" font-weight="bold" >-20</text><text transform="translate(1293.3 483) scale(0.96 1)" font-family="'Liberation Sans', Arial, sans-serif" font-size="10" text-anchor="end" fill="#111" font-weight="bold" >-10</text><text transform="translate(1293.3 458.6) scale(0.96 1)" font-family="'Liberation Sans', Arial, sans-serif" font-size="10" text-anchor="end" fill="#111" font-weight="bold" >0</text><text transform="translate(1293.3 434.1) scale(0.96 1)" font-family="'Liberation Sans', Arial, sans-serif" font-size="10" text-anchor="end" fill="#111" font-weight="bold" >10</text><text transform="translate(1293.3 409.7) scale(0.96 1)" font-family="'Liberation Sans', Arial, sans-serif" font-size="10" text-anchor="end" fill="#111" font-weight="bold" >20</text><text transform="translate(1293.3 385.2) scale(0.96 1)" font-family="'Liberation Sans', Arial, sans-serif" font-size="10" text-anchor="end" fill="#111" font-weight="bold" >30</text><text transform="translate(1293.3 360.8) scale(0.96 1)" font-family="'Liberation Sans', Arial, sans-serif" font-size="10" text-anchor="end" fill="#111" font-weight="bold" >40</text><rect x="2122.3" y="362.2" width="56.3" height="15.2" fill="#fff" stroke="#111" stroke-width="0.9"/><line x1="2124.8" y1="369.8" x2="2148.8" y2="369.8" stroke="#0072BD" stroke-width="1.9"/><text x="2151.3" y="373" font-family="'Liberation Sans', Arial, sans-serif" font-size="8.6" text-anchor="start" fill="#000" font-weight="bold" >EOF1</text><clipPath id="c7"><rect x="1296.5" y="626.8" width="888" height="197.7"/></clipPath><polyline points="1301.4,749.9 1306.4,745.2 1311.3,729.6 1316.2,722.1 1321.2,715.1 1326.1,711.2 1331,728.4 1336,730 1340.9,722.1 1345.8,719 1350.8,726.4 1355.7,742.1 1360.6,749.1 1365.6,746.8 1370.5,739.7 1375.4,729.6 1380.4,713.5 1385.3,711.2 1390.2,716.6 1395.2,730.3 1400.1,721.7 1405,719 1410,726 1414.9,742.1 1419.8,749.1 1424.8,747.2 1429.7,737.8 1434.6,675.6 1439.6,628.6 1444.5,715.1 1449.4,716.3 1454.4,730 1459.3,722.9 1464.2,815.7 1469.2,753.4 1474.1,751.1 1479,793.8 1484,782.4 1488.9,759.7 1493.8,758.5 1498.8,721 1503.7,711.6 1508.6,729.6 1513.6,756.2 1518.5,751.1 1523.4,732.3 1528.4,730.7 1533.3,735.8 1538.2,743.3 1543.2,732.7 1548.1,727.2 1553,705.3 1558,733.5 1562.9,710.4 1567.8,710 1572.8,712 1577.7,677.9 1582.6,735.4 1587.6,726 1592.5,755.4 1597.4,769.1 1602.4,732.3 1607.3,714.7 1612.2,727.2 1617.2,715.1 1622.1,713.9 1627,715.1 1632,706.9 1636.9,717 1641.8,726 1646.8,724.9 1651.7,734.7 1656.6,751.5 1661.6,730.7 1666.5,706.1 1671.4,712 1676.4,688.1 1681.3,684.9 1686.2,703.3 1691.2,721 1696.1,759.3 1701,724.5 1706,690.8 1710.9,732.3 1715.8,758.5 1720.8,768.7 1725.7,746 1730.6,738.6 1735.6,710.4 1740.5,705.7 1745.4,731.5 1750.4,736.6 1755.3,712 1760.2,697.1 1765.2,730.7 1770.1,799.2 1775,798.1 1780,727.2 1784.9,732.3 1789.8,755.4 1794.8,727.2 1799.7,713.5 1804.6,732.3 1809.6,733.1 1814.5,724.1 1819.4,703.3 1824.4,700.6 1829.3,713.9 1834.2,739 1839.2,738.2 1844.1,725.3 1849,713.9 1854,702.9 1858.9,705.7 1863.8,724.5 1868.8,756.6 1873.7,730.7 1878.6,727.2 1883.6,724.1 1888.5,753.4 1893.4,744 1898.4,757.4 1903.3,756.6 1908.2,726 1913.2,713.9 1918.1,686.5 1923,700.6 1928,714.3 1932.9,705.3 1937.8,710 1942.8,712 1947.7,732.7 1952.6,753.4 1957.6,732.3 1962.5,723.3 1967.4,702.6 1972.4,701.8 1977.3,684.9 1982.2,708.4 1987.2,681.8 1992.1,693.9 1997,689.2 2002,705.7 2006.9,750.3 2011.8,726 2016.8,749.9 2021.7,756.2 2026.6,705.3 2031.6,706.5 2036.5,708.4 2041.4,708.4 2046.4,713.5 2051.3,695.9 2056.2,686.5 2061.2,716.6 2066.1,704.9 2071,706.9 2076,742.1 2080.9,752.3 2085.8,744.8 2090.8,695.1 2095.7,721.3 2100.6,697.1 2105.6,711.6 2110.5,693.2 2115.4,719 2120.4,727.2 2125.3,742.9" fill="none" stroke="#0072BD" stroke-width="2.3" stroke-linejoin="round" stroke-linecap="round" clip-path="url(#c7)"/><path d="M1296.5 823.5v-9.5 M1296.5 627.8v9.5 M1395.2 823.5v-9.5 M1395.2 627.8v9.5 M1493.8 823.5v-9.5 M1493.8 627.8v9.5 M1592.5 823.5v-9.5 M1592.5 627.8v9.5 M1691.2 823.5v-9.5 M1691.2 627.8v9.5 M1789.8 823.5v-9.5 M1789.8 627.8v9.5 M1888.5 823.5v-9.5 M1888.5 627.8v9.5 M1987.2 823.5v-9.5 M1987.2 627.8v9.5 M2085.8 823.5v-9.5 M2085.8 627.8v9.5 M2184.5 823.5v-9.5 M2184.5 627.8v9.5 M1296.5 803.9h9.5 M2184.5 803.9h-9.5 M1296.5 764.8h9.5 M2184.5 764.8h-9.5 M1296.5 725.6h9.5 M2184.5 725.6h-9.5 M1296.5 686.5h9.5 M2184.5 686.5h-9.5 M1296.5 647.4h9.5 M2184.5 647.4h-9.5 " stroke="#111" stroke-width="1.7" fill="none"/><rect x="1296.5" y="627.8" width="888" height="195.7" fill="none" stroke="#111" stroke-width="1.15"/><text transform="translate(1296.5 838.1) scale(0.96 1)" font-family="'Liberation Sans', Arial, sans-serif" font-size="10" text-anchor="middle" fill="#111" font-weight="bold" >0</text><text transform="translate(1395.2 838.1) scale(0.96 1)" font-family="'Liberation Sans', Arial, sans-serif" font-size="10" text-anchor="middle" fill="#111" font-weight="bold" >20</text><text transform="translate(1493.8 838.1) scale(0.96 1)" font-family="'Liberation Sans', Arial, sans-serif" font-size="10" text-anchor="middle" fill="#111" font-weight="bold" >40</text><text transform="translate(1592.5 838.1) scale(0.96 1)" font-family="'Liberation Sans', Arial, sans-serif" font-size="10" text-anchor="middle" fill="#111" font-weight="bold" >60</text><text transform="translate(1691.2 838.1) scale(0.96 1)" font-family="'Liberation Sans', Arial, sans-serif" font-size="10" text-anchor="middle" fill="#111" font-weight="bold" >80</text><text transform="translate(1789.8 838.1) scale(0.96 1)" font-family="'Liberation Sans', Arial, sans-serif" font-size="10" text-anchor="middle" fill="#111" font-weight="bold" >100</text><text transform="translate(1888.5 838.1) scale(0.96 1)" font-family="'Liberation Sans', Arial, sans-serif" font-size="10" text-anchor="middle" fill="#111" font-weight="bold" >120</text><text transform="translate(1987.2 838.1) scale(0.96 1)" font-family="'Liberation Sans', Arial, sans-serif" font-size="10" text-anchor="middle" fill="#111" font-weight="bold" >140</text><text transform="translate(2085.8 838.1) scale(0.96 1)" font-family="'Liberation Sans', Arial, sans-serif" font-size="10" text-anchor="middle" fill="#111" font-weight="bold" >160</text><text transform="translate(2184.5 838.1) scale(0.96 1)" font-family="'Liberation Sans', Arial, sans-serif" font-size="10" text-anchor="middle" fill="#111" font-weight="bold" >180</text><text transform="translate(1293.3 808.7) scale(0.96 1)" font-family="'Liberation Sans', Arial, sans-serif" font-size="10" text-anchor="end" fill="#111" font-weight="bold" >-20</text><text transform="translate(1293.3 769.6) scale(0.96 1)" font-family="'Liberation Sans', Arial, sans-serif" font-size="10" text-anchor="end" fill="#111" font-weight="bold" >-10</text><text transform="translate(1293.3 730.4) scale(0.96 1)" font-family="'Liberation Sans', Arial, sans-serif" font-size="10" text-anchor="end" fill="#111" font-weight="bold" >0</text><text transform="translate(1293.3 691.3) scale(0.96 1)" font-family="'Liberation Sans', Arial, sans-serif" font-size="10" text-anchor="end" fill="#111" font-weight="bold" >10</text><text transform="translate(1293.3 652.2) scale(0.96 1)" font-family="'Liberation Sans', Arial, sans-serif" font-size="10" text-anchor="end" fill="#111" font-weight="bold" >20</text><line x1="1296" y1="628.1" x2="2185" y2="628.1" stroke="#111" stroke-width="2"/><rect x="2122.3" y="634" width="56.3" height="15.2" fill="#fff" stroke="#111" stroke-width="0.9"/><line x1="2124.8" y1="641.6" x2="2148.8" y2="641.6" stroke="#0072BD" stroke-width="1.9"/><text x="2151.3" y="644.8" font-family="'Liberation Sans', Arial, sans-serif" font-size="8.6" text-anchor="start" fill="#000" font-weight="bold" >EOF2</text><filter id="glowc" x="-30%" y="-30%" width="160%" height="160%"><feGaussianBlur stdDeviation="2.5"/></filter><circle cx="1463.6" cy="376.2" r="21" fill="none" stroke="#b9cce8" stroke-width="8" opacity="0.55" transform="translate(1.5 2.5)" filter="url(#glowc)"/><circle cx="1463.6" cy="376.2" r="21" fill="none" stroke="#000" stroke-width="5"/><circle cx="1693.9" cy="396.4" r="21" fill="none" stroke="#b9cce8" stroke-width="8" opacity="0.55" transform="translate(1.5 2.5)" filter="url(#glowc)"/><circle cx="1693.9" cy="396.4" r="21" fill="none" stroke="#000" stroke-width="5"/><circle cx="1775" cy="438.6" r="21" fill="none" stroke="#b9cce8" stroke-width="8" opacity="0.55" transform="translate(1.5 2.5)" filter="url(#glowc)"/><circle cx="1775" cy="438.6" r="21" fill="none" stroke="#000" stroke-width="5"/><circle cx="1866.4" cy="399" r="21" fill="none" stroke="#b9cce8" stroke-width="8" opacity="0.55" transform="translate(1.5 2.5)" filter="url(#glowc)"/><circle cx="1866.4" cy="399" r="21" fill="none" stroke="#000" stroke-width="5"/><circle cx="1465" cy="805" r="21" fill="none" stroke="#b9cce8" stroke-width="8" opacity="0.55" transform="translate(1.5 2.5)" filter="url(#glowc)"/><circle cx="1465" cy="805" r="21" fill="none" stroke="#000" stroke-width="5"/><circle cx="1696.5" cy="753.5" r="21" fill="none" stroke="#b9cce8" stroke-width="8" opacity="0.55" transform="translate(1.5 2.5)" filter="url(#glowc)"/><circle cx="1696.5" cy="753.5" r="21" fill="none" stroke="#000" stroke-width="5"/><circle cx="1774" cy="790" r="21" fill="none" stroke="#b9cce8" stroke-width="8" opacity="0.55" transform="translate(1.5 2.5)" filter="url(#glowc)"/><circle cx="1774" cy="790" r="21" fill="none" stroke="#000" stroke-width="5"/><circle cx="1866" cy="753.5" r="21" fill="none" stroke="#b9cce8" stroke-width="8" opacity="0.55" transform="translate(1.5 2.5)" filter="url(#glowc)"/><circle cx="1866" cy="753.5" r="21" fill="none" stroke="#000" stroke-width="5"/><text x="1419.2" y="344.8" font-family="'Liberation Serif', 'Times New Roman', serif" font-size="32" text-anchor="start" fill="#000" font-weight="normal" textLength="107" lengthAdjust="spacingAndGlyphs">2006.10</text><text x="1651.6" y="349.1" font-family="'Liberation Serif', 'Times New Roman', serif" font-size="32" text-anchor="start" fill="#000" font-weight="normal" textLength="89.6" lengthAdjust="spacingAndGlyphs">2010.9</text><text x="1735.2" y="402.9" font-family="'Liberation Serif', 'Times New Roman', serif" font-size="32" text-anchor="start" fill="#000" font-weight="normal" textLength="106" lengthAdjust="spacingAndGlyphs">2011.11</text><text x="1900.8" y="406.2" font-family="'Liberation Serif', 'Times New Roman', serif" font-size="32" text-anchor="start" fill="#000" font-weight="normal" textLength="90.6" lengthAdjust="spacingAndGlyphs">2013.8</text><text x="1745.8" y="873.6" font-family="'Liberation Serif', 'Times New Roman', serif" font-size="33.5" text-anchor="middle" fill="#000" font-weight="normal" textLength="212.5" lengthAdjust="spacingAndGlyphs">Sample number</text></g>
<g id="panel-c"><clipPath id="c8"><rect x="150.5" y="1150.8" width="888.5" height="702.2"/></clipPath><polyline points="155.4,1379.5 160.4,1369.1 165.3,1361.7 170.2,1346.4 175.2,1340.8 180.1,1352.2 185.1,1294.6 190,1339 194.9,1386.2 199.9,1432.5 204.8,1427.9 209.7,1407 214.7,1373.9 219.6,1365.4 224.5,1339 229.5,1334.1 234.4,1355 239.3,1352.2 244.3,1348.5 249.2,1346.2 254.2,1393.8 259.1,1432.5 264,1428.8 269,1408.9 273.9,1374.9 278.8,1354 283.8,1329.5 288.7,1316.8 293.6,1289.7 298.6,1380.4 303.5,1348.5 308.5,1345.5 313.4,1791.2 318.3,1232.1 323.3,1455.6 328.2,1548.2 333.1,1710.2 338.1,1423.2 343,1404.7 347.9,1387.1 352.9,1442.9 357.8,1343.6 362.8,1474.1 367.7,1464.9 372.6,1339.9 377.6,1427.9 382.5,1488 387.4,1404.2 392.4,1455.6 397.3,1369.1 402.2,1277 407.2,1385.3 412.1,1271 417.1,1234.9 422,1316.8 426.9,1379.5 431.9,1178.2 436.8,1206.6 441.7,1310.5 446.7,1395.5 451.6,1412.6 456.5,1299.2 461.5,1333.2 466.4,1325.8 471.3,1358.9 476.3,1342.7 481.2,1286 486.2,1271 491.1,1367.2 496,1420.9 501,1415.6 505.9,1485.7 510.8,1394.8 515.8,1399.4 520.7,1327.7 525.6,1378.6 530.6,1342.7 535.5,1362.6 540.5,1348.5 545.4,1386.2 550.3,1423.2 555.3,1390.8 560.2,1363.5 565.1,1429.7 570.1,1455.6 575,1448.7 579.9,1388.1 584.9,1415.6 589.8,1407 594.8,1320 599.7,1272.8 604.6,1460.2 609.6,1437.1 614.5,1594.5 619.4,1844.4 624.4,1180.3 629.3,1216.1 634.2,1182.6 639.2,1339 644.1,1283.2 649,1385.3 654,1201.1 658.9,1245 663.9,1308.7 668.8,1488 673.7,1314.5 678.7,1245 683.6,1282.1 688.5,1404.7 693.5,1476.4 698.4,1376.9 703.3,1299.2 708.3,1346.9 713.2,1360.7 718.2,1355 723.1,1363.5 728,1371.2 733,1444 737.9,1378.6 742.8,1436.4 747.8,1365.4 752.7,1335.3 757.6,1324.6 762.6,1350.3 767.5,1374.9 772.4,1384.3 777.4,1387.1 782.3,1343.6 787.3,1376.9 792.2,1506.5 797.1,1501.9 802.1,1462.6 807,1432.5 811.9,1322.8 816.9,1335.3 821.8,1397.8 826.7,1388.5 831.7,1319.1 836.6,1395.5 841.6,1724 846.5,1595.8 851.4,1596.8 856.4,1604.4 861.3,1509.5 866.2,1476.4 871.2,1448.7 876.1,1263.6 881,1247.4 886,1329.5 890.9,1411.7 895.9,1408 900.8,1362.6 905.7,1444 910.7,1419.3 915.6,1538 920.5,1430.2 925.5,1392.9 930.4,1389 935.3,1342.7 940.3,1434.8 945.2,1379.5 950.1,1379.5 955.1,1357.7 960,1353.1 965,1392.9 969.9,1433.4 974.8,1430.2 979.8,1416.3" fill="none" stroke="#0072BD" stroke-width="5.0" stroke-linejoin="round" stroke-linecap="round" clip-path="url(#c8)"/><path d="M150.5 1849v-9 M150.5 1154.8v9 M249.2 1849v-9 M249.2 1154.8v9 M347.9 1849v-9 M347.9 1154.8v9 M446.7 1849v-9 M446.7 1154.8v9 M545.4 1849v-9 M545.4 1154.8v9 M644.1 1849v-9 M644.1 1154.8v9 M742.8 1849v-9 M742.8 1154.8v9 M841.6 1849v-9 M841.6 1154.8v9 M940.3 1849v-9 M940.3 1154.8v9 M1039 1849v-9 M1039 1154.8v9 M150.5 1849h9 M1039 1849h-9 M150.5 1733.3h9 M1039 1733.3h-9 M150.5 1617.6h9 M1039 1617.6h-9 M150.5 1501.9h9 M1039 1501.9h-9 M150.5 1386.2h9 M1039 1386.2h-9 M150.5 1270.5h9 M1039 1270.5h-9 M150.5 1154.8h9 M1039 1154.8h-9 " stroke="#707070" stroke-width="1.8" fill="none"/><rect x="150.5" y="1154.8" width="888.5" height="694.2" fill="none" stroke="#707070" stroke-width="1.8"/><text transform="translate(150.5 1895.3) scale(1.06 1)" font-family="'Liberation Sans', Arial, sans-serif" font-size="31" text-anchor="middle" fill="#262626" font-weight="normal" >0</text><text transform="translate(249.2 1895.3) scale(1.06 1)" font-family="'Liberation Sans', Arial, sans-serif" font-size="31" text-anchor="middle" fill="#262626" font-weight="normal" >20</text><text transform="translate(347.9 1895.3) scale(1.06 1)" font-family="'Liberation Sans', Arial, sans-serif" font-size="31" text-anchor="middle" fill="#262626" font-weight="normal" >40</text><text transform="translate(446.7 1895.3) scale(1.06 1)" font-family="'Liberation Sans', Arial, sans-serif" font-size="31" text-anchor="middle" fill="#262626" font-weight="normal" >60</text><text transform="translate(545.4 1895.3) scale(1.06 1)" font-family="'Liberation Sans', Arial, sans-serif" font-size="31" text-anchor="middle" fill="#262626" font-weight="normal" >80</text><text transform="translate(644.1 1895.3) scale(1.06 1)" font-family="'Liberation Sans', Arial, sans-serif" font-size="31" text-anchor="middle" fill="#262626" font-weight="normal" >100</text><text transform="translate(742.8 1895.3) scale(1.06 1)" font-family="'Liberation Sans', Arial, sans-serif" font-size="31" text-anchor="middle" fill="#262626" font-weight="normal" >120</text><text transform="translate(841.6 1895.3) scale(1.06 1)" font-family="'Liberation Sans', Arial, sans-serif" font-size="31" text-anchor="middle" fill="#262626" font-weight="normal" >140</text><text transform="translate(940.3 1895.3) scale(1.06 1)" font-family="'Liberation Sans', Arial, sans-serif" font-size="31" text-anchor="middle" fill="#262626" font-weight="normal" >160</text><text transform="translate(1039 1895.3) scale(1.06 1)" font-family="'Liberation Sans', Arial, sans-serif" font-size="31" text-anchor="middle" fill="#262626" font-weight="normal" >180</text><text transform="translate(138 1860) scale(1.06 1)" font-family="'Liberation Sans', Arial, sans-serif" font-size="31" text-anchor="end" fill="#262626" font-weight="normal" >-20</text><text transform="translate(138 1744.3) scale(1.06 1)" font-family="'Liberation Sans', Arial, sans-serif" font-size="31" text-anchor="end" fill="#262626" font-weight="normal" >-15</text><text transform="translate(138 1628.6) scale(1.06 1)" font-family="'Liberation Sans', Arial, sans-serif" font-size="31" text-anchor="end" fill="#262626" font-weight="normal" >-10</text><text transform="translate(138 1512.9) scale(1.06 1)" font-family="'Liberation Sans', Arial, sans-serif" font-size="31" text-anchor="end" fill="#262626" font-weight="normal" >-5</text><text transform="translate(138 1397.2) scale(1.06 1)" font-family="'Liberation Sans', Arial, sans-serif" font-size="31" text-anchor="end" fill="#262626" font-weight="normal" >0</text><text transform="translate(138 1281.5) scale(1.06 1)" font-family="'Liberation Sans', Arial, sans-serif" font-size="31" text-anchor="end" fill="#262626" font-weight="normal" >5</text><text transform="translate(138 1165.8) scale(1.06 1)" font-family="'Liberation Sans', Arial, sans-serif" font-size="31" text-anchor="end" fill="#262626" font-weight="normal" >10</text><rect x="826.2" y="1177.4" width="191.2" height="50.3" fill="#fff" stroke="#7a7a7a" stroke-width="1.8"/><line x1="834.7" y1="1202.8" x2="916.8" y2="1202.8" stroke="#0072BD" stroke-width="6.4"/><text x="922.5" y="1217" font-family="'Liberation Sans', Arial, sans-serif" font-size="33.5" text-anchor="start" fill="#000" font-weight="normal" >EOF3</text><filter id="glow" x="-20%" y="-5%" width="140%" height="110%"><feGaussianBlur stdDeviation="3.5"/></filter><rect x="290.5" y="1180.5" width="78.9" height="646.8" fill="none" stroke="#b9cce8" stroke-width="15" opacity="0.6" transform="translate(2 3)" filter="url(#glow)"/><rect x="290.5" y="1180.5" width="78.9" height="646.8" fill="none" stroke="#ff0000" stroke-width="11"/><text x="212.8" y="1135.3" font-family="'Liberation Serif', 'Times New Roman', serif" font-size="44.6" text-anchor="start" fill="#ff0000" font-weight="bold" textLength="316" lengthAdjust="spacingAndGlyphs">2006.9 ~ 2006.11</text><text x="548.1" y="1961.9" font-family="'Liberation Serif', 'Times New Roman', serif" font-size="34" text-anchor="middle" fill="#000" font-weight="normal" textLength="228" lengthAdjust="spacing">Sample number</text></g>
<g id="panel-d"><clipPath id="mapclip"><rect x="1200" y="1153" width="1040" height="735"/></clipPath><g clip-path="url(#mapclip)"><rect x="1200" y="1153" width="1040" height="735" fill="#1c3868"/><filter id="soft" x="0" y="0" width="100%" height="100%"><feGaussianBlur stdDeviation="0.7"/></filter><g filter="url(#soft)"><path d="M1255 1211l19 -7l20 -7l19 -7l19 -8M1230 1791l10 -5l11 -5l10 -5M1578 1557l8 -6l8 -6l8 -5M1360 1231l18 -7l18 -8l19 -7l18 -6M1252 1301l15 -7l15 -7l14 -7M1180 1257l12 -4l12 -5l12 -4l11 -5M2104 1669l6 -11l7 -11l8 -10l9 -9M2193 1690l7 -9l6 -9l7 -9M1883 1408l11 -5l10 -5l10 -5M1258 1648l19 -11l19 -11l19 -12l17 -13M1467 1241l13 -4l13 -4l14 -4M1613 1405l10 -4l11 -5l10 -5M1426 1167l12 -4l12 -4l12 -3l12 -4M1981 1523l16 -6l17 -7l16 -6l17 -7M1975 1373l8 -5l7 -4l7 -5M1428 1821l6 -7l6 -6l6 -7M1810 1415l14 -6l13 -6l14 -6M1662 1711l13 -7l14 -7l14 -6M1882 1370l11 -6l12 -7l10 -8l10 -8M1542 1190l22 -6l22 -7l22 -7l22 -8M1429 1838l10 -12l11 -11l10 -12M1449 1623l8 -8l7 -8l7 -8M1216 1398l16 -9l16 -10l15 -9l16 -9M1337 1440l18 -14l18 -15l19 -13l20 -13M1585 1425l11 -5l11 -5l11 -5M1970 1293l10 -9l10 -10l10 -10M1569 1292l13 -4l12 -4l13 -4M1615 1810l10 -7l9 -8l10 -7M1275 1613l13 -8l13 -8l13 -8l12 -9M1350 1820l18 -10l16 -13l14 -14l14 -15M1907 1819l18 -9l18 -9l17 -10l17 -12M1807 1644l8 -2l8 -2l8 -2M1227 1544l12 -7l12 -7l11 -8M2013 1152l23 -5l22 0l23 2l22 2M1678 1703l12 -6l13 -5l12 -5M1648 1690l13 -8l13 -8l14 -8M2190 1224l11 1l11 1l11 1M1487 1218l19 -5l19 -5l19 -5l19 -5M1934 1549l20 -6l21 -6l20 -6l20 -8M1484 1305l14 -5l14 -5l14 -5l14 -5M1561 1446l19 -10l20 -9l20 -9l19 -10M1529 1537l12 -10l13 -11l12 -9M1645 1291l10 -5l10 -4l9 -5M1866 1486l16 -7l16 -7l16 -8l15 -7M2013 1436l21 -8l22 -9l22 -7l22 -7M1405 1660l13 -15l12 -15l13 -15l13 -14M1407 1647l13 -15l13 -15l13 -15l14 -14M1867 1848l15 -6l14 -7l15 -8l14 -7M1689 1454l15 -7l16 -8l16 -8l15 -8M1342 1155l17 -7l17 -7l17 -6l18 -6M1452 1871l6 -6l6 -6l6 -7M1551 1207l20 -5l19 -6l19 -7l19 -7M1738 1503l12 -6l11 -5l12 -6M1452 1172l12 -4l12 -3l12 -3M1527 1337l13 -5l14 -5l14 -5l14 -5M1544 1764l13 -10l14 -10l14 -10l14 -10M1406 1503l11 -9l11 -9l11 -9M1709 1531l14 -7l15 -7l14 -7l14 -7M1730 1346l14 -8l13 -7l13 -8l13 -10M1417 1530l12 -11l13 -11l12 -11l13 -10M1485 1889l14 -14l14 -14l14 -14l15 -13M1442 1287l13 -5l13 -5l13 -5M1891 1401l17 -8l16 -9l16 -10l15 -10M1965 1681l9 -3l9 -4l8 -3M1728 1844l18 -7l19 -6l18 -6l19 -6M2069 1229l13 2l12 1l13 2l12 1M1301 1388l11 -7l10 -6l11 -7l11 -6M1878 1333l9 -8l8 -8l9 -8M1714 1262l14 -9l12 -11l11 -12l11 -13M1649 1646l19 -12l19 -12l18 -12l19 -11M1496 1478l13 -11l13 -10l14 -9M1626 1543l11 -7l11 -6l12 -6l12 -6M1782 1728l19 -6l19 -6l19 -6l19 -6M1433 1424l14 -10l13 -10l14 -9l15 -8M1545 1720l17 -13l16 -12l17 -13l17 -11M1773 1362l11 -7l11 -7l10 -8l10 -8M1665 1479l14 -6l13 -7l14 -7M1906 1398l13 -6l11 -7l12 -7l11 -7M2037 1490l20 -8l21 -7l21 -7l21 -7M1498 1161l23 -6l22 -6l23 -6l22 -7M1519 1806l11 -10l11 -9l12 -9l11 -9M1452 1604l10 -10l10 -10l10 -9M1304 1780l20 -10l20 -10l19 -11l18 -13M1952 1537l13 -4l13 -4l13 -4M2055 1236l14 0l14 2l14 1M1562 1749l11 -8l12 -8l11 -9l11 -8M1434 1423l11 -8l10 -7l11 -8l11 -6M1474 1388l18 -11l19 -9l19 -9l19 -8M1557 1434l20 -10l20 -9l21 -10l20 -9M1306 1310l18 -11l18 -9l19 -9l19 -8M2023 1368l15 -6l15 -4l16 -4l16 -2M1770 1738l14 -5l13 -4l14 -5l14 -4M1558 1426l11 -5l11 -6l11 -5M1711 1548l13 -7l13 -6l13 -7l13 -6M1246 1329l21 -11l21 -12l20 -11l21 -11M1546 1755l18 -13l18 -14l18 -13l18 -13M2022 1213l16 -3l16 0l17 2M1628 1600l14 -9l13 -9l14 -9M1558 1781l13 -9l12 -9l12 -9M1309 1659l17 -12l16 -13l16 -14l14 -15M1722 1889l20 -7l19 -7l20 -7l19 -7M1354 1700l11 -10l12 -10l11 -11M1546 1439l14 -7l15 -7l15 -7M1896 1824l15 -8l14 -7l15 -7M1184 1618l12 -7l13 -8l13 -7M1404 1777l10 -12l11 -11l10 -12l11 -11M2013 1164l13 -3l14 -1l13 1l14 1M1532 1888l12 -10l11 -9l11 -9l12 -9M1732 1474l17 -8l17 -8l16 -9l17 -8M2041 1487l10 -4l10 -4l10 -4M1964 1433l19 -8l19 -8l20 -8l19 -8M1194 1305l12 -5l12 -5l12 -5l11 -5M1848 1811l17 -6l16 -7l15 -7l16 -8M1936 1475l18 -7l17 -8l18 -7l18 -7M1863 1837l11 -5l11 -4l11 -6M2048 1489l17 -6l16 -6l17 -6l17 -5M1985 1350l11 -8l11 -8l11 -8l12 -6M1616 1833l19 -13l19 -13l20 -13l20 -12M1618 1664l15 -11l16 -10l16 -10l16 -11M1349 1641l13 -12l13 -13l12 -13l12 -13M1590 1635l11 -7l11 -8l12 -7M1298 1855l12 -6l13 -6l12 -6M1308 1886l11 -6l11 -6l11 -6M1374 1314l21 -8l20 -8l21 -9l20 -8M1412 1170l11 -3l11 -4l11 -3M1524 1450l16 -9l15 -9l17 -8l16 -7M1456 1486l14 -12l15 -12l14 -12l15 -11M2021 1319l20 -11l22 -6l23 -4l23 -3M1316 1311l13 -7l13 -7l13 -7M1867 1622l23 -3l23 -4l22 -5l23 -6M1255 1147l17 -7l17 -7l17 -7l17 -7M1426 1343l22 -9l21 -9l22 -9l22 -8M1692 1338l10 -5l9 -4l9 -5M2033 1749l10 -14l10 -13l9 -14l8 -14M1568 1684l16 -12l16 -11l17 -12l16 -10M1318 1495l12 -10l12 -9l12 -10M1542 1236l22 -7l22 -7l22 -7l22 -8M1208 1744l9 -4l8 -5l9 -5M1396 1371l17 -9l17 -8l17 -8l18 -7M1630 1530l9 -5l9 -5l9 -4M1940 1349l17 -15l16 -16l16 -15l17 -16M1540 1722l10 -8l10 -8l11 -8M1619 1610l10 -7l10 -6l10 -7M1271 1289l14 -6l13 -7l14 -6l14 -7M1273 1730l13 -7l13 -7l13 -8M1307 1709l15 -10l15 -10l14 -12l14 -12M1308 1283l15 -7l14 -7l15 -7M1352 1659l10 -9l9 -9l9 -10l9 -9M1592 1556l7 -5l8 -5l8 -4M1811 1765l12 -4l12 -4l13 -5M1184 1311l12 -5l12 -5l12 -5M1492 1848l11 -10l10 -11l10 -10l11 -9M1476 1882l6 -6l6 -6l6 -6M1718 1523l16 -7l16 -8l16 -8l16 -8M1650 1461l21 -10l21 -11l21 -10l20 -10M1536 1656l10 -9l9 -8l10 -8M1468 1729l16 -17l16 -17l16 -17l17 -17M1277 1492l7 -5l7 -6l6 -5M1457 1630l11 -13l11 -13l12 -12l13 -11M1660 1875l15 -8l16 -8l16 -8l17 -6M2220 1693l12 -18l12 -17l13 -16l14 -16M1445 1668l9 -11l9 -10l8 -10M1583 1580l12 -8l11 -8l12 -7l12 -8M1382 1219l14 -6l15 -5l14 -5l14 -5M1417 1797l8 -9l8 -8l7 -9M2024 1689l9 -10l9 -10l9 -11M1621 1846l12 -9l14 -8l13 -9M1648 1723l12 -8l12 -7l13 -7l13 -6M1764 1753l18 -6l18 -6l18 -6l18 -6M1807 1679l22 -6l22 -5l22 -3l22 -3M1503 1683l8 -9l9 -9l9 -9l9 -9M1687 1155l10 -8l11 -9l10 -8M1626 1333l19 -9l19 -9l18 -9l19 -10M1809 1687l14 -4l15 -4l14 -2l15 -3M1292 1502l14 -11l15 -11l14 -12l14 -11M1397 1396l9 -5l9 -6l9 -5M1367 1565l15 -17l16 -17l16 -16l17 -14M1409 1711l9 -10l9 -10l9 -10l8 -10M1849 1354l12 -8l11 -8l10 -9M1287 1396l18 -12l18 -11l18 -11l18 -10M1219 1725l13 -7l12 -7l13 -7l13 -8M1961 1579l18 -5l18 -5l19 -5l18 -7M1471 1303l12 -4l12 -5l12 -4l12 -4M1635 1885l16 -10l16 -9l17 -9l16 -8M1473 1232l15 -4l15 -4l15 -5l15 -4M2030 1216l22 -2l21 2l21 3l21 2M1520 1660l13 -14l14 -13l15 -13l15 -12M1685 1756l14 -7l14 -6l15 -5l15 -6M1184 1459l19 -13l20 -13l20 -13l19 -14M1225 1668l13 -8l13 -7l13 -8l12 -7M1452 1585l15 -13l15 -14l15 -13l14 -13M1928 1491l12 -5l12 -5l12 -5M1561 1814l9 -6l9 -7l8 -6M1346 1641l9 -8l8 -8l8 -8M1507 1207l22 -6l22 -6l22 -7l22 -6M2064 1200l16 2l16 2l17 2M1486 1173l16 -4l17 -5l16 -4l17 -5M1686 1661l11 -7l13 -6l12 -6l12 -6M1749 1158l11 -13l10 -12l10 -13M1545 1889l11 -8l11 -9l11 -8l11 -9M1793 1451l9 -4l10 -5l9 -4M1181 1883l10 -5l10 -5l10 -6M1187 1338l11 -5l12 -6l12 -6M1669 1298l20 -10l19 -10l19 -11l17 -13M1901 1617l12 -2l13 -2l12 -4l13 -3M1404 1547l10 -10l10 -10l11 -9M1553 1521l10 -8l10 -8l11 -7l12 -7M1867 1592l16 -3l15 -3l16 -4M1691 1338l14 -7l13 -7l13 -7l13 -7M1356 1803l18 -11l16 -14l15 -15l14 -16M1479 1886l12 -11l12 -12l12 -12l13 -12M1419 1805l6 -7l7 -7l6 -7M2245 1595l11 -8l11 -8l11 -7M1803 1386l16 -9l17 -8l17 -9l16 -9M1907 1397l16 -8l16 -9l15 -10l15 -11M1571 1737l13 -10l13 -9l14 -10l13 -10M1293 1578l13 -9l13 -9l12 -11M1891 1537l18 -6l17 -5l18 -6l17 -6M1914 1513l20 -8l20 -7l20 -8l20 -8M1996 1418l21 -9l21 -8l21 -8l21 -6M1243 1849l20 -10l19 -9l20 -9l20 -9M1949 1636l10 -3l10 -3l10 -2M2152 1320l12 -2l13 -1l12 -1M1579 1424l13 -6l13 -6l13 -6M1194 1866l19 -10l19 -9l19 -10l19 -9M2074 1502l12 -4l13 -5l12 -4l13 -4M1994 1553l11 -3l10 -4l10 -3M1748 1647l19 -7l20 -7l20 -7l20 -5M1572 1862l19 -14l18 -13l19 -14l19 -13M1217 1718l17 -9l17 -10l17 -10l16 -10M1527 1723l16 -14l16 -12l17 -13l17 -12M1917 1528l17 -6l17 -5l17 -6l16 -7M1655 1875l12 -7l13 -7l13 -6l13 -6M1385 1680l11 -12l10 -11l10 -12l10 -12M1505 1193l14 -4l15 -4l15 -4l14 -4M1451 1500l9 -8l10 -7l9 -8M1987 1178l14 -10l16 -7l18 -2l17 0M1582 1805l12 -9l13 -9l13 -9M1337 1873l13 -8l14 -9l13 -9l11 -10M1762 1746l9 -3l9 -3l9 -3M1979 1812l16 -14l15 -15l13 -17l13 -16M1865 1830l19 -8l18 -8l17 -9l18 -9M1501 1540l6 -6l7 -6l7 -6M1588 1680l14 -9l14 -10l14 -9l15 -10M1386 1275l18 -7l18 -7l17 -7l18 -7M1217 1733l18 -10l17 -10l17 -9l17 -10M1269 1538l15 -10l15 -11l14 -11l15 -12M1900 1475l13 -5l13 -6l14 -6l13 -6M1441 1569l15 -14l15 -14l16 -14l15 -14M1424 1307l21 -8l21 -9l21 -8l21 -7M1945 1582l13 -3l13 -4l14 -3l13 -4M1967 1577l14 -4l14 -4l15 -4M2209 1881l9 -11l9 -10l9 -11M1949 1385l18 -10l18 -12l18 -11l18 -11M1604 1791l9 -7l10 -7l9 -6M1773 1538l14 -7l14 -6l14 -7l14 -6M1902 1812l8 -4l8 -4l8 -4M1595 1148l16 -5l15 -6l15 -7M1572 1401l19 -9l19 -9l19 -8l20 -9M1801 1661l21 -7l22 -4l21 -4l22 -3M1321 1781l13 -7l13 -6l12 -7M1294 1345l20 -11l19 -11l20 -11l21 -10M1341 1176l17 -7l18 -7l18 -7l18 -6M1610 1302l19 -8l18 -7l18 -9l18 -9M1691 1357l18 -9l17 -9l18 -9l17 -9M1263 1562l9 -6l10 -6l9 -6M1451 1524l12 -11l12 -10l13 -11l12 -11M1972 1702l20 -11l19 -11l18 -14l16 -15M1537 1267l12 -5l13 -4l13 -4M1193 1542l9 -6l9 -5l9 -6M1341 1446l12 -9l11 -9l12 -9l11 -8M1728 1784l13 -5l13 -5l14 -5M1583 1665l14 -10l15 -10l15 -10l14 -9M1916 1718l10 -4l10 -3l10 -4M1624 1895l12 -8l12 -7l12 -7l12 -7M1314 1857l9 -4l10 -5l9 -5M1358 1487l11 -9l12 -9l11 -9l11 -10M1667 1363l8 -4l9 -4l8 -5M1387 1758l10 -10l9 -9l10 -10M1490 1272l16 -5l16 -5l17 -6l16 -5M2069 1592l16 -13l16 -13l15 -13l16 -12M1280 1366l13 -7l13 -8l13 -7M1358 1597l13 -14l13 -14l12 -14l13 -14M1342 1819l19 -10l18 -12l16 -15l15 -16M1313 1589l11 -9l10 -9l10 -10l9 -10M1881 1768l14 -7l14 -6l13 -6M1549 1287l14 -4l14 -5l14 -4l14 -5M1940 1338l9 -9l10 -9l9 -9M1577 1568l12 -9l12 -8l12 -8M1996 1470l20 -8l20 -8l20 -8l20 -7M1425 1262l19 -8l18 -7l19 -6l19 -5M1485 1823l15 -16l16 -16l17 -15l17 -14M1632 1772l12 -8l11 -8l12 -8M1630 1241l14 -5l14 -6l13 -7M1813 1768l13 -5l13 -5l13 -5l12 -5M1484 1832l11 -12l10 -11l11 -11M1541 1559l6 -6l7 -5l6 -5M1794 1836l13 -4l14 -5l13 -4l13 -5M1486 1224l14 -4l14 -4l14 -4M1207 1497l13 -8l13 -9l13 -9l13 -10M1739 1530l12 -6l11 -5l11 -6M1808 1445l9 -4l9 -5l8 -4M1621 1588l7 -5l8 -6l8 -5M1608 1813l8 -5l7 -5l7 -6M1207 1839l13 -7l13 -6l13 -6M1241 1378l12 -7l11 -7l12 -7l12 -6M1978 1662l15 -5l14 -6l14 -6l14 -8M2043 1315l16 -4l16 -3l17 -2l16 -2M2046 1627l16 -12l14 -12l15 -13l14 -13M1848 1401l11 -5l11 -5l11 -5M1952 1489l12 -5l13 -5l12 -5M1685 1627l13 -8l12 -8l13 -7l13 -7M1952 1509l15 -6l15 -6l15 -6l15 -6M1515 1314l14 -4l14 -5l14 -5M1486 1532l12 -11l12 -11l13 -10l12 -11M1556 1361l21 -10l21 -9l22 -10l21 -10M1711 1377l7 -4l8 -4l7 -4M1964 1601l21 -6l20 -5l21 -7l20 -7M1951 1467l18 -7l18 -7l18 -8l17 -7M1716 1225l11 -11l11 -10l10 -12l10 -11M1269 1250l14 -5l15 -6l14 -5l15 -6M1999 1291l18 -15l20 -12l22 -6l23 -2M1456 1866l12 -13l12 -13l12 -13l13 -13M1890 1407l16 -8l16 -8l15 -9l15 -9M1408 1741l9 -9l9 -9l9 -10M1954 1768l10 -6l11 -7l10 -7M1817 1544l13 -5l13 -5l13 -4M1391 1192l13 -5l12 -4l12 -4M1930 1544l11 -4l11 -3l12 -4M1465 1512l11 -9l11 -10l11 -9M1558 1242l13 -4l14 -5l13 -4M1471 1331l14 -6l15 -6l15 -6M1241 1832l18 -9l18 -8l18 -9l18 -8M1623 1858l10 -7l10 -6l10 -7M1504 1458l11 -8l12 -8l13 -7l12 -7M2044 1476l14 -5l13 -5l14 -5l14 -4M1197 1181l13 -5l13 -5l14 -5l13 -5M2201 1665l6 -8l5 -7l6 -8M1334 1354l13 -7l13 -8l13 -6l14 -6M1760 1783l16 -6l16 -5l16 -5M2035 1661l9 -9l10 -10l9 -10l9 -10M1418 1862l10 -10l10 -11l10 -11l10 -11M2244 1645l15 -18l16 -17l17 -15l18 -14M1198 1490l20 -13l20 -14l19 -13l19 -15M1841 1342l13 -10l11 -11l12 -11M1395 1517l15 -13l15 -12l15 -13l15 -12M1401 1538l11 -11l11 -11l12 -10M2159 1382l13 -3l14 -3l14 -3l14 -3M1942 1445l21 -9l21 -9l21 -8l21 -9M2031 1452l14 -5l15 -6l14 -5M1363 1495l10 -9l10 -8l10 -8l10 -8M1457 1770l9 -11l10 -10l9 -10M2000 1519l12 -5l11 -4l11 -5M1759 1539l14 -7l14 -6l14 -7l14 -6M1503 1648l10 -11l11 -11l11 -11l12 -10M2163 1871l11 -14l12 -13l12 -14l11 -14M1563 1152l12 -4l12 -4l12 -4M1665 1666l20 -13l21 -12l21 -11l21 -10M1324 1880l11 -6l11 -6l11 -7l10 -7M1361 1806l9 -6l8 -6l8 -8M1339 1724l13 -9l13 -10l12 -10M1388 1560l11 -12l11 -12l11 -11M1249 1639l20 -12l20 -12l20 -12l19 -13M1296 1663l8 -5l8 -6l8 -5M1945 1217l6 -9l6 -9l6 -8M2017 1387l15 -6l16 -6l16 -4l16 -4M1472 1509l7 -6l7 -6l6 -6M1394 1744l7 -7l8 -8l7 -7M1832 1330l13 -12l13 -12l13 -13l12 -12M1254 1709l8 -5l8 -5l9 -5M1385 1759l13 -12l12 -13l12 -12l12 -13M1911 1584l20 -5l20 -5l20 -6l20 -5M1247 1892l10 -5l11 -5l10 -5M1812 1345l10 -8l9 -7l8 -8M1245 1513l11 -7l10 -7l11 -8M1869 1465l13 -5l13 -6l13 -6l12 -6M1568 1833l17 -12l18 -13l17 -13l17 -12M1220 1265l17 -7l18 -6l17 -6l17 -7M1934 1446l14 -6l15 -6l14 -6M1392 1268l13 -5l13 -5l13 -6l13 -5M1665 1677l14 -9l15 -8l15 -8l16 -7M1652 1642l13 -9l14 -8l13 -9M1429 1310l13 -5l12 -6l13 -5M1453 1521l14 -13l15 -13l15 -13l16 -12M1685 1185l10 -6l9 -8l9 -7M1267 1459l15 -11l14 -11l15 -12l14 -11M1693 1652l14 -8l13 -7l14 -7l14 -6M1574 1455l11 -5l11 -6l11 -5M1988 1409l12 -5l12 -5l13 -5l12 -4M1293 1287l14 -7l14 -8l15 -7M1437 1785l9 -11l10 -10l10 -11l10 -11M1521 1749l13 -11l13 -10l13 -10l13 -10M2008 1249l14 -8l15 -5l15 -2l16 1M1520 1650l7 -7l7 -7l7 -6M1873 1608l18 -3l18 -3l17 -4l18 -5M1234 1494l16 -11l15 -11l15 -12l15 -11M1750 1353l13 -8l13 -8l12 -8M1486 1456l10 -8l11 -8l10 -6l11 -7M1897 1372l14 -9l13 -9l13 -11l12 -11M1557 1836l18 -14l19 -14l19 -14l18 -13M1590 1154l18 -6l17 -7l17 -7l17 -9M1433 1146l17 -5l18 -5l18 -5l17 -5M1656 1507l11 -6l10 -5l11 -5M1509 1840l14 -13l14 -13l14 -12l15 -11M2207 1810l9 -11l8 -10l9 -10l8 -10M1364 1800l10 -8l10 -9l10 -9M2049 1532l13 -6l12 -5l12 -5l12 -5M1286 1752l11 -6l12 -6l12 -6l11 -6M1424 1291l13 -5l13 -6l13 -5l14 -5M1242 1897l21 -11l20 -10l21 -10l20 -11" stroke="#2a487d" stroke-width="4.6" opacity="0.95" fill="none" stroke-linecap="round"/><path d="M1571 1187l9 -3l9 -3l9 -3M1679 1508l9 -4l10 -5l9 -5M1560 1165l15 -4l14 -5l14 -5M2064 1302l15 -2l15 -2l15 -2M1559 1489l18 -12l19 -11l20 -10l20 -9M1774 1735l16 -5l15 -5l15 -5l15 -5M2071 1265l15 -1l15 -1l15 0l16 0M1201 1561l7 -4l8 -5l7 -4M1353 1181l14 -6l15 -5l14 -6M1993 1362l10 -7l11 -6l11 -6M1601 1526l20 -13l20 -11l21 -11l21 -10M1718 1295l7 -4l8 -5l7 -4M1276 1445l7 -6l7 -5l7 -6M1840 1628l12 -2l11 -1l12 -2M1468 1650l11 -13l12 -14l12 -13l13 -13M1706 1483l11 -5l10 -5l10 -5M1308 1842l20 -9l20 -10l19 -11l18 -13M1289 1773l20 -9l21 -10l20 -11l19 -12M1548 1368l21 -10l21 -10l21 -9l22 -10M1982 1455l14 -6l15 -6l14 -6l14 -5M1629 1337l21 -9l20 -10l20 -11l20 -10M2057 1317l20 -3l19 -3l19 -3l20 -2M2199 1517l12 -4l13 -5l13 -5M2060 1469l13 -4l14 -5l14 -4l14 -5M1840 1341l12 -10l12 -11l11 -11M1445 1192l15 -5l15 -4l16 -4l15 -4M1310 1778l14 -7l15 -7l14 -8l14 -8M1821 1635l9 -2l8 -1l9 -2M1618 1357l21 -10l21 -10l20 -10l21 -11M1306 1596l14 -10l13 -11l12 -12l12 -13M1649 1161l13 -7l13 -8l12 -8l12 -9M2012 1529l14 -5l14 -6l14 -5l14 -6M1204 1145l10 -4l10 -4l10 -4M2085 1680l8 -13l8 -14l9 -13l10 -12M1412 1807l10 -10l10 -11l9 -11M1335 1163l21 -8l21 -8l21 -8l21 -8M1926 1699l16 -4l15 -6l16 -5l15 -7M1521 1463l12 -8l13 -8l12 -6M1706 1745l14 -6l14 -5l14 -4l14 -5M1674 1811l12 -6l11 -6l11 -5M1932 1780l11 -5l11 -6l10 -6M1640 1576l12 -7l11 -7l12 -7l12 -7M1629 1734l14 -10l14 -10l15 -9l15 -8M1628 1461l15 -8l15 -7l14 -7M1495 1557l15 -14l16 -14l16 -14l16 -13M1183 1688l12 -7l12 -8l12 -7M1693 1467l16 -8l16 -8l16 -8l16 -8M1289 1251l18 -7l18 -8l19 -8l18 -7M1391 1666l13 -14l13 -15l12 -14l13 -15M1880 1741l15 -6l14 -7l15 -6M1456 1371l14 -7l14 -7l15 -6M1358 1793l8 -5l8 -6l7 -6M1569 1630l11 -8l11 -8l11 -8l11 -7M1823 1376l20 -10l19 -10l19 -11l17 -14M2044 1357l14 -4l14 -2l15 -3M1672 1209l17 -10l16 -12l15 -12l14 -14M1373 1672l12 -11l11 -12l10 -12l11 -12M1857 1737l16 -6l15 -6l16 -6l15 -6M1379 1771l9 -8l9 -9l8 -9M1857 1418l9 -4l9 -4l9 -4M1448 1536l17 -15l17 -16l18 -15l17 -14M1313 1242l12 -5l12 -5l13 -5l12 -6M1766 1606l15 -6l14 -6l15 -4M1251 1801l9 -4l9 -5l9 -4M1586 1484l17 -9l16 -8l17 -9l17 -8M1796 1582l21 -7l21 -7l22 -6l21 -6M1734 1534l11 -6l12 -6l12 -6l12 -5M1904 1540l12 -4l12 -4l12 -4l13 -4M1381 1281l16 -7l15 -6l16 -6l16 -6M1525 1683l9 -8l9 -9l10 -8M1803 1868l17 -6l16 -5l16 -6l16 -6M1440 1437l10 -8l11 -8l11 -8M1491 1567l12 -10l11 -11l12 -10l12 -11M1611 1192l20 -7l19 -8l18 -9l18 -11M2041 1263l19 -4l19 -1l18 0l19 0M1459 1822l9 -9l8 -10l9 -9l8 -9M1592 1639l13 -8l13 -9l13 -8M1524 1643l11 -11l12 -11l12 -10l13 -10M1715 1367l14 -7l14 -7l14 -8M1556 1454l16 -8l17 -8l17 -8l16 -8M1392 1372l8 -4l8 -5l9 -4M1553 1144l19 -6l19 -6l19 -7l18 -7M1226 1788l8 -4l9 -4l8 -4M1852 1485l17 -8l17 -7l16 -8l17 -8M1862 1554l9 -3l10 -3l9 -3M1500 1811l12 -12l11 -11l13 -10l12 -10M1483 1643l9 -11l9 -10l10 -10l9 -9M1301 1530l8 -6l8 -6l7 -7M1595 1410l15 -7l15 -7l15 -7l14 -7M1555 1559l7 -6l8 -6l8 -6M1526 1889l9 -8l10 -8l10 -8l10 -8M1475 1337l11 -4l12 -5l11 -4M1850 1396l15 -7l16 -7l15 -8l14 -8M1456 1680l13 -15l13 -15l12 -15l14 -15M1440 1885l12 -13l12 -12l12 -13l12 -13M1610 1795l13 -9l13 -9l13 -10l14 -9M1420 1333l13 -5l12 -5l13 -6l13 -5M1466 1710l10 -11l10 -11l10 -11M1226 1527l14 -8l13 -9l13 -9l13 -10M1923 1388l13 -8l14 -9l13 -9l12 -10M1841 1424l13 -6l13 -6l12 -6l13 -6M1728 1766l18 -7l18 -6l18 -6l18 -7M1941 1508l17 -7l17 -7l17 -6l17 -7M1580 1493l14 -8l15 -8l14 -7l15 -8M1521 1566l17 -15l16 -14l18 -14l18 -13M1820 1551l11 -4l10 -4l11 -3M1753 1526l12 -6l11 -6l12 -5M1703 1740l17 -6l17 -6l17 -6l18 -6M1492 1815l12 -12l11 -11l12 -11l13 -11M1615 1209l19 -7l20 -9l18 -9l18 -11M1587 1870l15 -11l15 -10l15 -10l15 -11M1353 1577l14 -15l13 -14l14 -15l14 -14M1649 1225l12 -6l12 -6l11 -7l11 -7M1906 1455l9 -5l10 -4l10 -5M1895 1579l15 -4l16 -4l16 -4l16 -4M1298 1312l14 -8l15 -8l14 -7M1666 1658l12 -7l12 -8l12 -7l12 -7M1226 1814l9 -4l9 -5l9 -4M1684 1445l16 -8l17 -9l17 -8l17 -9M2035 1202l16 0l16 1l16 2l15 2M1372 1855l15 -12l13 -13l13 -14l12 -13M1505 1191l9 -2l8 -2l8 -3M1473 1724l7 -8l7 -8l7 -7M1196 1787l20 -11l21 -10l21 -11l20 -10M1449 1420l9 -7l9 -6l9 -6M2032 1358l18 -6l20 -4l19 -3l19 -3M1610 1656l19 -13l19 -12l20 -13l19 -12M1695 1156l10 -7l9 -8l9 -8M1392 1154l18 -6l18 -6l18 -6l18 -5M1339 1396l13 -9l13 -9l14 -8M1983 1725l9 -6l8 -7l8 -6M2071 1271l20 -2l20 -1l19 -1l20 0M1294 1757l13 -6l13 -6l12 -7M1682 1891l19 -9l20 -9l19 -7l20 -8M1365 1705l9 -8l10 -9l8 -9M1530 1784l11 -10l12 -8l11 -9M1581 1409l10 -4l10 -5l10 -4M1988 1757l13 -12l12 -13l12 -13l11 -14M1231 1800l13 -6l13 -6l13 -6l13 -7M1409 1400l9 -6l9 -5l9 -6M2040 1463l13 -5l14 -5l13 -5M1544 1684l11 -9l11 -8l11 -9M1959 1411l21 -9l20 -9l21 -9l21 -9M2021 1340l12 -6l12 -4l13 -3l13 -2M1644 1289l20 -9l19 -10l18 -10l18 -12M1566 1882l10 -8l11 -8l10 -7l11 -8M1327 1498l11 -9l11 -9l12 -9M1906 1681l9 -1l9 -2l10 -2M1298 1706l10 -6l10 -6l10 -7M1622 1553l8 -5l8 -5l9 -4M1433 1714l14 -15l14 -15l13 -16l14 -16M2182 1328l16 -2l15 -2l15 -1M1947 1529l17 -6l17 -6l17 -6l17 -7M1346 1801l10 -5l9 -6l9 -6M1580 1528l11 -7l11 -7l12 -7M1408 1484l12 -10l12 -10l11 -10M1880 1654l19 -3l18 -3l18 -3l18 -4M1824 1528l12 -5l13 -5l12 -5M1304 1888l19 -10l19 -10l18 -11l17 -12M1767 1435l9 -5l10 -4l10 -5M1277 1422l13 -9l12 -9l12 -9l13 -9M1783 1357l19 -12l18 -14l17 -16l16 -16M1302 1639l14 -9l13 -9l12 -11M1353 1643l10 -10l10 -10l10 -10l10 -10M1429 1739l14 -15l14 -15l14 -16l14 -15M1750 1794l21 -7l21 -7l21 -7l20 -7M1722 1737l18 -6l18 -6l18 -6l18 -6M1790 1549l18 -8l18 -7l19 -8l19 -7M1704 1332l12 -6l13 -7l13 -7l12 -7M1856 1780l11 -5l10 -5l10 -5M1317 1649l16 -12l16 -13l14 -14l14 -14M1575 1279l14 -5l14 -5l14 -5l14 -5M1311 1538l18 -15l17 -16l17 -15l18 -15M1625 1169l21 -9l20 -10l19 -11l18 -14M1648 1356l13 -7l14 -7l14 -7M1950 1425l20 -8l20 -9l20 -8l21 -9M1384 1868l11 -9l9 -10l10 -10l9 -10M1466 1738l11 -12l11 -11l11 -11M1419 1783l14 -15l15 -16l14 -16l14 -15M1466 1441l11 -8l11 -9l12 -7l12 -7M2012 1479l18 -7l19 -7l18 -7l18 -6M2135 1239l15 2l15 1l14 1l15 2M1807 1323l11 -11l11 -10l10 -11l11 -10M1807 1581l12 -4l13 -3l12 -4l13 -3M1874 1747l11 -5l12 -5l12 -6l12 -5M1249 1392l10 -6l9 -6l10 -6M1912 1784l14 -6l13 -7l13 -6M1679 1759l10 -6l10 -4l10 -5M1618 1482l14 -7l15 -7l14 -8M1749 1671l12 -4l13 -4l12 -4l12 -4M1482 1701l11 -12l10 -12l11 -11M1695 1432l19 -10l20 -10l19 -10l19 -11M1812 1553l14 -5l13 -5l13 -5M1782 1299l9 -8l8 -10l7 -9M1374 1759l14 -12l14 -13l13 -14l13 -14M1656 1799l16 -11l16 -9l16 -9l18 -7M1429 1675l12 -15l12 -14l12 -15l13 -14M1994 1576l22 -7l23 -8l21 -9l21 -11M1212 1555l17 -10l17 -11l16 -10l17 -11M1194 1392l11 -6l11 -7l12 -6M1372 1332l13 -6l13 -5l13 -6l13 -5M1413 1721l15 -17l15 -17l15 -17l14 -17M2052 1351l22 -5l22 -3l22 -3l22 -4M1728 1749l20 -8l21 -6l20 -7l21 -7M1603 1482l11 -6l11 -6l12 -5l11 -6M1357 1288l12 -5l12 -5l13 -5M1603 1717l12 -9l11 -8l12 -9l13 -8M2008 1825l16 -16l14 -18l13 -18l13 -18M1588 1348l20 -9l20 -9l19 -9l20 -10M1769 1390l13 -8l13 -7l13 -7M1986 1401l22 -10l21 -9l22 -8l23 -6M1226 1605l11 -6l11 -6l11 -7M1372 1803l10 -8l8 -9l9 -9M1681 1175l7 -5l7 -6l7 -5M1333 1598l8 -8l8 -8l8 -8M1753 1738l11 -4l10 -3l11 -4M1520 1253l17 -6l18 -5l17 -6l18 -6M2047 1542l14 -6l14 -7l14 -6l15 -7M1944 1512l11 -4l11 -4l11 -4M1228 1236l16 -6l15 -5l15 -6l15 -5M1778 1479l15 -8l15 -7l15 -8l15 -7M1632 1887l20 -12l20 -11l20 -11l21 -9M1502 1652l11 -13l11 -12l12 -11l13 -11M1300 1780l20 -9l20 -10l20 -11l18 -12M2190 1335l16 -2l17 -2l16 -2l16 -2M1282 1838l16 -8l17 -8l17 -8l16 -8M1650 1283l15 -7l15 -8l14 -8l15 -9M1919 1897l18 -13l18 -14l17 -15l17 -14M1461 1732l10 -11l10 -10l9 -10M2014 1438l12 -5l13 -5l13 -5l13 -5M1309 1388l19 -12l21 -13l20 -11l21 -11M2064 1610l12 -10l12 -11l12 -10l12 -11M1798 1624l19 -5l20 -5l19 -3l20 -4M1458 1327l13 -5l12 -5l13 -5l12 -5M1458 1576l10 -9l11 -9l10 -9M1287 1744l11 -5l10 -5l10 -5M2016 1310l13 -8l13 -6l15 -4l14 -2M1562 1163l15 -5l15 -5l15 -5l15 -5M2032 1147l13 -1l13 1l13 1M1251 1705l15 -8l15 -9l15 -10l15 -9M1943 1742l19 -10l19 -11l18 -12l17 -14M1920 1234l5 -8l5 -8l5 -9M1419 1721l11 -13l11 -12l11 -12M1529 1643l11 -10l10 -9l11 -10l12 -8M1707 1433l8 -4l8 -4l8 -4M1563 1661l12 -9l12 -9l12 -8l13 -8M1595 1788l14 -10l14 -10l14 -10l14 -10M1331 1253l18 -8l19 -8l19 -8l18 -7M1222 1654l20 -12l19 -11l19 -11l20 -12M1337 1282l16 -8l16 -7l17 -7l16 -7M1647 1464l14 -7l14 -7l14 -7l15 -7M1310 1800l20 -9l19 -9l19 -11l17 -13M1712 1228l17 -15l16 -16l15 -17l14 -18M1503 1798l10 -10l10 -9l10 -9l11 -8M1313 1413l11 -9l12 -8l12 -9l12 -8M1197 1620l16 -9l16 -10l17 -9l16 -10M1458 1588l9 -9l10 -9l10 -9M1608 1520l12 -7l12 -7l11 -6M1763 1657l8 -3l8 -2l8 -3M1247 1504l14 -10l13 -10l14 -10l13 -10M1668 1549l19 -10l20 -10l19 -10l20 -9M2019 1656l12 -7l12 -9l11 -9M1368 1422l10 -8l11 -8l11 -7M1370 1503l13 -12l13 -12l14 -11l13 -12M1486 1876l8 -8l8 -8l8 -9M1954 1526l12 -4l12 -5l13 -4M1623 1396l12 -6l12 -5l12 -6M1937 1850l18 -14l17 -14l18 -15l17 -16M1904 1449l13 -7l14 -6l13 -6l13 -6M1826 1337l12 -10l11 -11l11 -11l11 -11M1260 1354l19 -11l19 -11l19 -11l19 -11M1556 1538l19 -15l19 -13l21 -12l20 -11M1706 1520l10 -5l10 -5l10 -5M1234 1508l9 -7l10 -6l9 -7M1981 1760l10 -9l11 -10l10 -10l9 -10M1575 1540l17 -12l18 -11l18 -11l19 -9M1718 1695l9 -3l8 -3l9 -3M1808 1490l13 -6l13 -6l12 -6M1992 1850l16 -13l16 -14l13 -17l13 -17M1657 1486l12 -5l11 -6l12 -6l11 -5M1572 1391l21 -9l21 -10l21 -10l21 -10M1416 1895l11 -9l9 -10l10 -10l10 -10M1956 1885l16 -14l16 -13l16 -14l16 -14M1689 1509l17 -9l17 -8l17 -8l18 -9M1598 1692l10 -8l10 -7l11 -7l10 -7M1867 1369l19 -10l19 -11l16 -14l16 -14M1658 1626l8 -4l7 -5l7 -4M1352 1452l8 -6l8 -7l8 -6M1700 1285l16 -9l16 -10l14 -11l12 -13M1233 1850l13 -6l13 -7l14 -6l13 -7M1919 1471l12 -5l12 -5l11 -5l12 -5M1478 1510l18 -15l17 -15l18 -14l19 -12M1746 1778l16 -6l16 -5l15 -6l16 -5M1930 1569l22 -6l22 -7l22 -6l22 -7M1918 1752l20 -9l20 -10l19 -11l18 -12M1606 1889l13 -8l12 -8l13 -8M1639 1596l7 -5l7 -4l7 -5M1720 1185l12 -11l11 -12l10 -12l11 -12M1921 1897l12 -9l11 -9l11 -9l11 -9M1369 1552l15 -16l16 -16l16 -15l17 -14M1874 1372l14 -7l13 -7l13 -9l11 -10M1231 1386l14 -8l14 -9l14 -8l14 -8M1826 1464l14 -6l15 -7l14 -6l14 -7M1647 1260l14 -6l13 -7l13 -7l12 -8M1298 1469l16 -13l16 -12l16 -13l16 -12M1926 1437l11 -5l12 -5l12 -5l11 -5M1730 1703l15 -5l16 -5l15 -5l16 -5M1215 1777l12 -6l13 -6l12 -6M1773 1703l10 -4l9 -3l10 -3M1859 1447l17 -8l17 -8l17 -8l18 -8M1434 1696l11 -13l11 -13l11 -13l11 -13M1575 1681l14 -10l14 -10l14 -9l14 -10M1791 1381l19 -11l19 -10l18 -11l18 -13M1422 1484l18 -16l18 -15l19 -15l19 -14M1283 1535l17 -13l16 -13l16 -13l16 -13M1902 1433l15 -7l15 -7l15 -7M1287 1561l12 -8l12 -9l12 -10M1303 1714l14 -9l15 -10l14 -10l13 -11M2030 1656l12 -10l12 -11l11 -11l12 -11M2052 1561l11 -5l11 -7l10 -6M1289 1640l11 -6l11 -7l11 -8M1429 1826l16 -17l15 -17l15 -17l16 -16M1484 1414l10 -6l11 -6l10 -6M1439 1403l15 -10l15 -9l16 -9l16 -8M1275 1695l11 -6l11 -7l11 -7l10 -7M1676 1589l13 -8l13 -8l13 -7M1602 1183l21 -7l20 -9l20 -9l19 -11M1824 1403l18 -8l18 -8l18 -9l18 -8M1571 1550l13 -10l13 -9l14 -8M1409 1149l18 -6l17 -5l18 -5l17 -5M1257 1624l12 -7l11 -7l12 -7M1592 1646l8 -6l8 -5l9 -5M1404 1562l9 -11l10 -10l11 -9l10 -10M1197 1720l12 -7l12 -7l12 -7M1181 1401l11 -6l10 -6l11 -6M1640 1274l14 -7l14 -6l14 -8l13 -7M1486 1438l19 -13l20 -12l21 -11l20 -10M1436 1180l18 -6l19 -5l19 -5l18 -5M1851 1336l11 -10l11 -10l10 -10M2001 1652l19 -8l18 -10l16 -11l16 -13M1711 1147l13 -12l12 -11l11 -12l12 -13M2031 1303l16 -6l18 -5l18 -2l18 -3M1666 1537l19 -10l20 -10l20 -10l19 -9M2064 1464l14 -5l14 -4l13 -5l14 -5M1456 1726l11 -12l12 -13l11 -13l12 -13M1615 1750l13 -10l14 -10l13 -9l15 -9M1430 1372l16 -8l16 -7l16 -8l16 -7M1261 1770l12 -5l13 -6l12 -6l12 -6M1498 1266l22 -7l21 -6l21 -7l22 -7M1435 1251l12 -5l13 -4l13 -4M1434 1644l10 -12l9 -11l10 -11M1837 1374l13 -6l12 -6l12 -7l12 -7M1237 1261l13 -4l12 -5l13 -5M1659 1303l16 -8l17 -8l16 -9l16 -9M2044 1477l17 -6l18 -6l17 -6l18 -6M1769 1786l14 -4l14 -5l13 -5l14 -4M1588 1682l11 -8l12 -8l11 -8M1345 1339l11 -6l11 -6l12 -5M1948 1835l10 -8l9 -7l9 -8M1475 1820l12 -13l11 -12l12 -12l12 -11M1448 1651l7 -8l7 -9l7 -8M2061 1192l10 2l9 1l10 1M2024 1232l11 -2l11 -1l12 0M1640 1580l11 -7l10 -7l12 -7l11 -6M1687 1372l14 -7l14 -7l15 -8M1518 1659l12 -12l13 -12l13 -12l13 -11M1314 1418l16 -13l16 -12l17 -11l17 -11M1931 1495l18 -6l17 -7l17 -7l17 -7M1917 1377l14 -8l13 -9l12 -11l12 -10M1927 1770l19 -9l18 -10l18 -11l17 -13M1700 1183l12 -9l12 -11l11 -11l11 -11M1737 1709l18 -6l18 -6l17 -5l18 -6M1774 1697l16 -5l16 -5l16 -5l16 -4M1555 1638l10 -9l12 -8l11 -9l12 -7M1746 1364l12 -6l12 -7l11 -8M1398 1243l22 -9l22 -8l22 -7l22 -6M1607 1680l11 -7l10 -7l11 -7M1543 1332l10 -4l10 -3l9 -4M1967 1791l8 -6l8 -6l8 -7M1922 1622l14 -3l14 -4l14 -4l14 -3M2214 1472l15 -5l15 -5l15 -5l15 -5M1703 1182l10 -8l9 -9l10 -9l9 -10M1641 1710l10 -7l10 -7l11 -6M1778 1646l18 -6l19 -5l18 -5l19 -3M1194 1256l12 -4l13 -5l12 -5l13 -4M2014 1324l14 -9l16 -6l16 -4l16 -3M1689 1466l11 -6l12 -6l11 -5M1987 1460l15 -7l15 -6l15 -6M1189 1695l19 -11l20 -12l19 -12l20 -11M1879 1573l12 -3l12 -3l11 -3M1511 1401l18 -10l18 -9l18 -8l18 -9M1492 1299l11 -4l11 -3l12 -4M1541 1743l18 -14l19 -13l19 -14l18 -13M1319 1416l11 -8l12 -9l11 -8l12 -8M1510 1673l13 -13l13 -13l14 -13l14 -12M1396 1604l8 -9l8 -8l8 -9M1449 1634l15 -17l15 -18l17 -16l17 -15M1515 1384l21 -10l20 -10l21 -9l21 -10M1643 1189l12 -6l12 -6l12 -7M1370 1666l12 -13l13 -13l12 -13l12 -14M1670 1207l15 -9l15 -10l14 -12l13 -12M1377 1893l17 -14l17 -14l15 -16l15 -16M1418 1498l12 -10l13 -11l12 -10l12 -10M2166 1883l9 -12l10 -11l9 -11l10 -12M1241 1268l17 -6l17 -6l16 -7l17 -6M1257 1812l20 -9l20 -10l19 -9l20 -9M1935 1591l16 -4l15 -5l16 -4M1614 1341l20 -9l19 -10l20 -10l20 -10M1763 1646l20 -7l21 -7l21 -5l21 -5M1616 1527l21 -12l21 -11l21 -10l21 -11M1534 1782l16 -12l16 -12l16 -12l17 -12M1313 1629l13 -9l12 -10l12 -12M1205 1555l19 -12l20 -12l20 -13l18 -13M1189 1372l17 -10l17 -9l17 -9l17 -9M1249 1743l11 -5l11 -6l10 -5M1279 1203l16 -6l16 -6l16 -7l16 -6M1685 1622l16 -10l15 -10l17 -9l16 -8M1591 1536l18 -12l18 -10l19 -11l19 -9M1606 1384l17 -8l17 -8l16 -8l17 -8M1944 1341l9 -9l10 -8l9 -9M1628 1210l15 -6l15 -7l15 -8" stroke="#3b5990" stroke-width="4.0" opacity="0.95" fill="none" stroke-linecap="round"/><path d="M1527 1257l9 -3l10 -3l9 -3M1510 1759l12 -11l13 -10l13 -10l13 -10M1908 1466l15 -7l15 -7l15 -6l16 -6M1501 1743l10 -10l10 -9l11 -9M1793 1804l18 -6l17 -6l18 -6l17 -6M1800 1487l21 -9l21 -10l20 -10l21 -9M1485 1434l7 -5l7 -5l8 -5M1369 1318l13 -6l14 -5l13 -6l14 -5M1461 1146l12 -3l13 -4l12 -3l12 -4M1687 1691l14 -7l15 -6l15 -5M1721 1530l13 -7l12 -6l13 -6l13 -6M2056 1338l22 -4l22 -3l23 -3l22 -3M1270 1789l19 -9l19 -9l20 -9l19 -9M1199 1332l18 -8l17 -8l17 -8l17 -9M1511 1412l12 -6l11 -6l12 -6l11 -5M1411 1348l12 -6l12 -5l13 -5l12 -5M1741 1583l12 -6l13 -6l12 -5M1858 1855l13 -5l13 -6l12 -6M1248 1220l15 -6l14 -5l15 -6l15 -6M1237 1842l20 -9l20 -10l20 -9l20 -10M2067 1281l13 -2l14 -1l13 -1l13 -2M1629 1583l15 -10l15 -9l16 -9l15 -9M1997 1732l9 -9l9 -8l9 -10M1295 1240l9 -4l10 -4l10 -4M1717 1838l14 -6l14 -5l13 -4M1748 1623l20 -8l20 -7l20 -7l21 -6M1801 1809l22 -7l23 -8l22 -8l21 -10M1602 1745l19 -14l19 -13l19 -14l21 -12M1420 1584l9 -10l9 -9l10 -9M1855 1666l23 -3l23 -4l23 -3l23 -5M1332 1165l17 -7l17 -7l17 -7l17 -6M1946 1421l21 -10l21 -9l21 -9l22 -9M1586 1810l11 -8l12 -8l12 -9l11 -8M1716 1620l10 -5l10 -5l11 -5M2186 1535l15 -6l16 -6l15 -6l15 -6M1558 1625l16 -12l17 -12l17 -12l17 -11M1243 1496l12 -9l12 -9l11 -9l12 -9M1757 1794l20 -6l20 -7l20 -6l20 -7M1261 1624l7 -5l8 -4l8 -5M1910 1846l20 -12l20 -13l18 -14l19 -15M1699 1821l17 -8l17 -7l18 -6l18 -6M1542 1794l12 -9l11 -9l12 -9l12 -8M2005 1302l10 -8l12 -8l12 -6l13 -4M1307 1755l20 -10l20 -11l18 -12l18 -14M1225 1772l19 -9l20 -10l19 -9l19 -10M1284 1844l15 -7l16 -8l15 -7l16 -8M1545 1249l20 -7l19 -6l20 -7l20 -6M1283 1671l8 -5l7 -5l7 -4M1440 1209l20 -6l21 -5l20 -6l20 -5M1790 1634l18 -6l18 -4l18 -4l19 -3M1557 1794l13 -10l13 -9l13 -10l13 -9M1792 1459l19 -10l20 -9l19 -9l20 -9M1630 1261l14 -6l14 -6l14 -7l13 -7M1713 1561l15 -8l16 -8l16 -8l16 -8M1286 1825l15 -7l15 -7l15 -7M1517 1822l11 -11l12 -10l12 -10M1245 1355l16 -9l16 -9l16 -9l16 -10M2009 1777l8 -10l7 -10l8 -10M1377 1766l10 -8l9 -9l9 -9l9 -9M1575 1771l8 -6l7 -5l8 -6M1843 1755l17 -6l17 -8l16 -7l17 -7M1659 1207l11 -6l11 -6l10 -7l11 -8M1451 1215l14 -4l14 -4l13 -4M1501 1677l15 -16l15 -16l16 -15l16 -14M1227 1271l13 -5l14 -5l13 -5l14 -5M1472 1349l13 -6l13 -5l14 -6M1505 1719l11 -10l11 -10l12 -10l11 -10M1251 1371l16 -10l17 -9l16 -10l17 -9M1934 1308l9 -9l9 -10l9 -9M2117 1401l12 -4l12 -3l13 -3M1276 1758l14 -7l14 -7l14 -7l14 -8M2007 1881l11 -10l11 -10l11 -10M1276 1164l9 -3l9 -4l9 -4M1700 1816l16 -8l17 -6l17 -7l17 -5M1191 1663l14 -9l13 -8l14 -8l14 -7M1975 1429l12 -5l13 -5l12 -5l12 -5M1836 1654l17 -3l17 -2l17 -3l17 -2M1419 1605l15 -16l16 -16l16 -15l16 -14M1603 1896l12 -8l12 -8l12 -8l12 -7M1990 1162l12 -7l13 -6l14 -3l15 -1M1461 1379l18 -10l20 -9l19 -9l20 -8M2039 1590l20 -10l19 -12l18 -13l19 -14M1225 1774l12 -6l12 -6l13 -6M1729 1216l8 -8l8 -8l7 -9M1398 1239l20 -8l20 -8l20 -6l21 -6M1450 1776l8 -10l9 -9l9 -10M1557 1219l20 -6l21 -7l20 -7l20 -7M1655 1866l16 -9l15 -8l16 -8l17 -7M1582 1537l18 -12l19 -12l20 -10l19 -11M1866 1355l13 -8l12 -9l12 -10M2211 1344l22 -3l22 -4l22 -3l22 -3M2013 1381l18 -8l19 -6l18 -5l20 -4M1854 1690l13 -2l13 -3l13 -2l13 -2M2059 1240l17 0l16 2l16 1l16 2M1440 1827l8 -8l7 -8l7 -8M1315 1294l15 -8l14 -7l15 -7l15 -7M1775 1763l16 -5l16 -6l16 -6l16 -5M1187 1200l18 -7l17 -6l17 -7l17 -6M1502 1406l9 -5l9 -5l9 -5M1431 1165l11 -3l10 -3l11 -3M1651 1232l11 -5l12 -6l10 -6l11 -7M1580 1265l8 -2l8 -3l8 -2M1241 1320l15 -7l14 -8l15 -8l15 -7M1729 1231l12 -13l12 -13l11 -13l12 -14M1326 1450l8 -7l8 -6l8 -6M2000 1370l18 -9l19 -9l20 -5l20 -4M2027 1318l16 -7l17 -5l18 -3l18 -2M1328 1289l10 -5l9 -5l10 -5M1213 1690l13 -8l13 -8l13 -7M1511 1381l9 -4l9 -4l8 -4M1324 1223l12 -4l11 -5l11 -5M1513 1803l8 -8l8 -7l9 -7M1643 1685l8 -6l9 -5l9 -6M1567 1841l7 -6l7 -5l7 -5M1727 1847l11 -4l11 -4l11 -3M1700 1856l12 -5l12 -5l12 -4M2037 1163l14 0l15 2l14 1l15 2M1864 1503l12 -5l12 -5l12 -5l12 -5M1854 1228l7 -11l5 -11l5 -12M1186 1746l16 -9l15 -9l16 -9l16 -8M1916 1383l13 -7l12 -8l11 -9M1455 1694l7 -8l6 -8l7 -8M1668 1795l20 -12l20 -10l21 -9l22 -8M1448 1832l15 -16l14 -17l15 -16l16 -16M1441 1878l6 -7l6 -6l6 -6M1453 1250l11 -4l11 -3l12 -4M2037 1264l16 -4l16 -2l16 -1l16 1M1418 1649l9 -11l9 -11l10 -10l9 -11M1275 1633l13 -8l14 -8l13 -9M1698 1239l15 -11l14 -12l13 -13l12 -14M2037 1228l10 0l9 0l10 0M1245 1415l19 -13l20 -12l19 -13l20 -11M1404 1806l11 -12l11 -12l11 -12M1725 1380l10 -5l10 -6l10 -5M1840 1245l11 -14l10 -16l7 -16l7 -17M1208 1397l8 -5l9 -5l9 -5M1963 1315l16 -16l16 -16l17 -14l19 -13M1334 1671l15 -13l15 -13l14 -14l14 -15M1614 1539l20 -11l19 -11l20 -10l20 -10M2049 1214l18 1l17 2l17 3l17 2M1615 1816l14 -10l15 -11l15 -10l14 -10M1710 1316l14 -7l13 -7l13 -8l12 -9M1368 1339l11 -6l12 -5l12 -5M1924 1558l12 -3l11 -3l12 -4M1464 1444l15 -11l15 -11l16 -10l16 -9M1367 1200l8 -3l8 -3l8 -3M1840 1394l20 -10l21 -9l20 -10l19 -13M1934 1542l15 -4l16 -5l15 -5M1930 1581l19 -5l20 -5l20 -6l19 -5M1509 1532l11 -10l10 -9l11 -9l11 -8M1433 1732l11 -11l10 -12l11 -12l10 -11M2043 1593l12 -6l11 -7l11 -8l10 -8M1384 1878l12 -10l11 -11l11 -11l10 -11M1403 1735l13 -14l14 -14l13 -15l12 -14M1457 1646l11 -14l12 -13l11 -13l13 -12M1964 1648l15 -4l15 -5l15 -5l14 -5M1548 1836l12 -10l13 -10l13 -9l13 -10M1435 1547l12 -11l12 -11l13 -11M1306 1784l17 -8l18 -9l17 -9l16 -11M1465 1324l16 -7l16 -7l17 -6l17 -5M1503 1693l11 -11l11 -11l11 -12l12 -10M1882 1588l19 -4l19 -5l19 -5l19 -5M1318 1465l11 -9l11 -8l11 -9l11 -8M1530 1601l10 -9l10 -9l11 -9l10 -8M1863 1402l10 -5l10 -5l10 -4M1363 1374l19 -11l20 -10l20 -9l20 -8M1611 1239l15 -5l15 -6l14 -6l14 -8M1284 1804l12 -6l12 -6l13 -5l12 -6M2017 1657l17 -10l15 -12l14 -13l14 -13M1913 1483l18 -8l19 -8l19 -7l19 -8M1417 1161l10 -3l9 -3l9 -3M1966 1663l14 -4l14 -5l13 -5l14 -6M1570 1157l13 -4l13 -4l14 -5M1650 1887l14 -7l13 -8l14 -7M1527 1744l8 -6l8 -7l9 -6M1576 1240l19 -6l18 -6l19 -7l18 -7M1250 1374l16 -10l17 -9l17 -10l17 -9M1623 1868l14 -10l14 -9l15 -9l15 -8M1857 1847l13 -5l13 -6l13 -6M1418 1640l6 -7l5 -7l6 -6M1527 1157l18 -5l19 -5l18 -6l18 -6M1716 1567l14 -8l14 -7l14 -7M1293 1508l9 -7l10 -8l10 -8M1481 1409l16 -11l17 -9l17 -9l18 -8M1356 1324l14 -6l14 -6l14 -6l14 -6M1672 1498l17 -8l17 -9l17 -8l17 -8M1560 1684l12 -9l12 -9l13 -9l12 -9M1186 1601l17 -10l17 -10l17 -10l17 -10M1265 1224l19 -7l19 -7l19 -8l18 -7M1562 1871l11 -9l11 -8l11 -8M1723 1380l18 -9l18 -10l18 -11l17 -11M1854 1361l13 -7l13 -9l12 -9l11 -10M1412 1337l16 -7l17 -7l16 -6l16 -7M1702 1145l10 -9l9 -8l10 -9M1996 1209l16 -9l18 -5l18 0l19 1M1365 1886l18 -13l17 -15l15 -15l15 -16M1630 1683l10 -7l10 -6l10 -7M2012 1179l16 -4l17 0l17 1l17 2M1947 1556l19 -5l20 -6l19 -6l20 -7M1672 1866l14 -7l14 -7l14 -6l15 -6M1620 1678l12 -8l12 -8l12 -8l12 -7M1449 1755l9 -10l10 -10l9 -10l10 -10M1774 1389l13 -7l13 -7l13 -8l12 -7M1198 1159l17 -6l16 -6l17 -7l16 -6M1666 1441l16 -7l16 -8l16 -8l16 -8M1380 1396l16 -10l16 -10l17 -9l17 -8M1697 1676l16 -7l17 -6l17 -6l17 -6M1511 1705l16 -15l16 -15l17 -14l18 -14M2047 1190l15 1l15 2l15 2M1998 1353l11 -7l11 -7l12 -5l12 -4M1362 1385l11 -7l11 -6l11 -6M1435 1669l12 -15l12 -14l13 -15l12 -14M1690 1503l9 -4l9 -5l9 -4M1710 1649l20 -9l20 -9l21 -8l21 -7M1318 1709l13 -9l13 -9l12 -10M1428 1503l16 -14l17 -14l16 -14l17 -13M1731 1589l17 -9l18 -9l18 -8l17 -7M1477 1533l6 -6l7 -5l6 -6M1672 1528l20 -10l19 -10l20 -9l19 -10M1732 1723l8 -2l9 -3l9 -3M1832 1636l11 -2l11 -2l10 -1M1613 1815l16 -11l16 -12l16 -11l16 -10M2250 1179l10 1l10 1l10 0M1847 1668l11 -2l12 -2l11 -1M1587 1245l9 -3l9 -3l10 -3M1614 1517l17 -9l17 -9l18 -9l17 -8M1360 1805l10 -7l10 -8l9 -9M1778 1343l18 -13l16 -14l15 -15l16 -15M1598 1538l8 -5l9 -5l8 -5M1875 1274l10 -10l10 -11l9 -12M1983 1613l17 -5l17 -5l17 -5l16 -8M1525 1145l22 -6l23 -7l23 -7l22 -8M1994 1504l19 -8l19 -7l19 -8l19 -7M1764 1844l20 -7l21 -7l21 -7l21 -6M1370 1725l13 -11l12 -11l11 -12l11 -13M1982 1427l19 -8l20 -8l19 -8l20 -7M1862 1584l17 -4l18 -4l17 -4l17 -4M2027 1440l12 -4l12 -5l12 -5M1952 1705l13 -6l13 -5l13 -7M2049 1481l20 -7l20 -7l20 -7l20 -6M1326 1275l13 -7l13 -6l13 -5l13 -6M1595 1764l15 -11l16 -12l16 -11l15 -11M1295 1620l11 -7l10 -7l11 -8M1239 1895l14 -8l15 -7l14 -7l14 -7M1839 1894l17 -6l17 -8l16 -8l16 -9M1335 1272l9 -4l8 -4l9 -4M1250 1827l14 -7l15 -6l14 -7l15 -7M1521 1188l21 -5l21 -6l21 -6l20 -7M1987 1437l17 -7l17 -7l17 -7l17 -6M1655 1166l17 -9l17 -10l15 -12l15 -13M1340 1581l9 -9l9 -10l9 -9l9 -10M1608 1332l15 -6l16 -7l15 -8M2032 1162l21 -1l21 2l21 3l21 3M1933 1646l15 -4l14 -4l15 -4l15 -4M1430 1690l9 -10l9 -10l8 -10l9 -11M1508 1550l12 -10l12 -11l12 -11M1631 1770l15 -11l16 -10l16 -11l17 -9M1617 1402l18 -8l17 -8l18 -9l18 -9M1427 1183l17 -6l17 -4l17 -5l17 -5M1751 1558l13 -6l13 -6l13 -6M1416 1494l12 -10l12 -10l12 -10M1240 1255l17 -6l17 -6l17 -7l17 -6M1603 1809l15 -11l15 -10l15 -11l15 -10M1930 1666l11 -2l11 -3l10 -2M1183 1150l9 -3l8 -4l9 -3M1276 1358l11 -7l12 -7l12 -6l11 -7M2055 1145l14 1l13 1l13 1l14 2M1967 1655l16 -4l15 -5l15 -6M1636 1469l13 -6l14 -7l13 -6l13 -7M1252 1796l14 -6l14 -7l14 -6M1441 1703l9 -11l9 -10l9 -11l9 -11M1664 1730l9 -5l9 -5l10 -5M1410 1498l15 -13l16 -13l15 -13l16 -13M1183 1746l13 -7l13 -8l13 -7l13 -7M1784 1345l18 -14l17 -15l17 -16l16 -16M1743 1861l14 -5l13 -5l14 -4M1473 1882l15 -16l16 -15l15 -16l16 -15M1731 1281l16 -11l14 -14l13 -15l12 -15M1454 1424l14 -11l14 -10l15 -9l16 -8M1717 1778l10 -4l11 -4l10 -4M1335 1652l11 -9l11 -9l10 -10l9 -10M1535 1272l10 -3l10 -3l11 -4M1475 1446l14 -11l14 -10l15 -9l15 -8M1245 1818l20 -10l20 -9l20 -9l20 -10M1468 1818l8 -9l9 -10l9 -9M1942 1827l11 -8l11 -9l10 -8M2016 1896l11 -10l11 -10l10 -10l10 -11M1302 1733l17 -9l16 -9l15 -11l15 -11M1366 1522l15 -14l14 -14l16 -13l15 -13M1470 1247l14 -5l14 -4l15 -4M1574 1267l18 -5l18 -6l18 -7l18 -6M1535 1242l15 -4l15 -5l15 -5l15 -5M1326 1824l21 -10l21 -12l18 -14l17 -17M1491 1206l21 -6l21 -5l21 -6l21 -6M1420 1179l21 -6l22 -7l21 -6l22 -6M1568 1318l21 -7l21 -8l21 -8l21 -9M2009 1403l16 -7l15 -6l16 -5l16 -4M1438 1792l14 -16l14 -16l15 -15l15 -15M1363 1472l8 -6l8 -7l8 -6M1396 1269l21 -9l22 -8l21 -8l22 -7M1440 1896l9 -9l9 -10l10 -9l9 -10M1673 1490l11 -5l10 -5l11 -5M1562 1553l10 -8l10 -7l10 -7M1415 1465l17 -14l18 -15l17 -14l19 -13M2095 1348l14 -2l14 -2l14 -2M1860 1553l22 -6l21 -7l22 -7l21 -6M1730 1200l14 -15l14 -16l14 -17l12 -17M1590 1553l13 -9l14 -8l13 -8M1425 1403l11 -7l11 -7l12 -7l11 -6M2010 1648l20 -9l19 -12l17 -13l16 -15M1880 1408l15 -7l15 -7l15 -8l14 -9M1691 1480l15 -7l14 -7l14 -7M1608 1151l14 -6l15 -5l14 -7l13 -7M1555 1743l18 -13l17 -13l18 -13l17 -12M1500 1382l8 -3l7 -4l8 -4M1957 1529l15 -5l16 -5l15 -6M1466 1854l16 -17l16 -16l16 -17l16 -16M1343 1683l9 -8l9 -8l9 -8M1338 1844l15 -9l16 -9l14 -11l12 -12M1818 1842l23 -8l22 -8l22 -9l21 -10M1951 1499l20 -8l20 -8l20 -8l20 -8M1726 1798l20 -8l20 -7l20 -6l20 -7M1318 1548l13 -12l13 -12l13 -13l13 -12M1585 1351l16 -8l16 -7l16 -7l16 -8M2000 1583l11 -3l11 -3l11 -4M1493 1494l12 -11l12 -10l13 -9l14 -9M1250 1787l10 -4l9 -5l10 -4M1190 1578l12 -7l13 -7l12 -8l13 -7M1381 1302l12 -5l13 -5l12 -5l12 -5M1420 1745l9 -9l8 -9l9 -10M1910 1495l13 -6l12 -5l13 -5l12 -5M1795 1400l21 -10l21 -10l22 -10l20 -10M1908 1893l15 -10l14 -11l14 -11l14 -12M1385 1565l10 -12l11 -11l11 -12l12 -10M2054 1296l23 -5l23 -3l23 -3l24 -2M1421 1337l20 -8l21 -9l20 -8l21 -8M1991 1623l14 -4l14 -4l13 -5M1240 1370l12 -7l12 -6l12 -7l12 -7M1303 1665l11 -8l12 -9l11 -8M1498 1349l19 -8l19 -8l19 -7l19 -7M2030 1538l17 -7l17 -7l17 -7l18 -8M1812 1157l8 -14l8 -15l8 -14l8 -15M1886 1234l7 -13l6 -14l6 -13M1568 1618l13 -9l14 -10l13 -9M1273 1647l11 -7l11 -7l11 -7M1711 1815l13 -5l13 -5l13 -4l13 -5M1552 1860l9 -8l9 -7l9 -6M1402 1859l11 -11l11 -11l10 -12l11 -11M1501 1171l15 -4l16 -5l15 -4l15 -4M1689 1307l11 -6l12 -6l12 -6l11 -7M1694 1875l8 -3l8 -4l8 -3M1267 1755l7 -4l8 -3l8 -4M1740 1577l11 -6l11 -5l11 -6M1816 1612l15 -3l15 -3l15 -3l15 -3M1469 1434l17 -13l17 -12l19 -10l18 -9M1267 1291l21 -10l20 -9l21 -10l21 -10M1865 1893l21 -10l20 -12l19 -12l18 -14" stroke="#5472a9" stroke-width="3.3" opacity="0.95" fill="none" stroke-linecap="round"/><path d="M1488 1883l10 -9l9 -10l10 -9l10 -10M1343 1512l13 -12l13 -12l14 -11l14 -12M1841 1654l22 -4l21 -3l22 -3l22 -4M1693 1636l9 -5l9 -6l9 -4M1691 1278l15 -8l13 -8l13 -10M1476 1726l11 -12l11 -11l12 -12l11 -11M1848 1530l22 -9l22 -8l22 -8l21 -9M1429 1585l14 -14l14 -13l14 -13l15 -13M1850 1657l8 -1l9 -2l8 -1M1968 1333l11 -10l10 -10l11 -9M1709 1432l16 -8l16 -9l16 -8l16 -9M1446 1225l15 -4l14 -4l15 -4l15 -4M1998 1488l9 -3l9 -4l8 -3M1191 1371l20 -11l21 -11l20 -11l20 -11M1830 1390l11 -5l12 -5l11 -5l11 -6M1463 1206l15 -3l14 -4l15 -4l14 -4M1658 1320l16 -8l15 -8l15 -8l15 -8M1578 1797l12 -9l12 -8l11 -8M1726 1174l7 -8l7 -7l7 -8M1565 1720l11 -7l10 -7l10 -8M2017 1446l8 -3l8 -3l8 -3M2018 1683l15 -14l15 -15l14 -16l14 -15M1429 1172l18 -5l19 -6l18 -5l19 -5M2057 1272l13 -2l13 -1l13 -1M1553 1390l19 -9l19 -9l19 -9l19 -9M1596 1169l19 -7l18 -7l19 -8l17 -10M1633 1487l12 -6l12 -6l12 -6l12 -6M1599 1303l19 -7l19 -7l18 -8l17 -9M1808 1622l8 -2l10 -2l9 -2M1840 1616l16 -3l17 -2l16 -3l17 -3M1439 1697l6 -7l7 -8l6 -7M1876 1760l14 -6l15 -7l14 -6M1795 1474l11 -5l10 -5l11 -5M1786 1364l20 -13l19 -13l18 -15l17 -16M1983 1846l13 -10l12 -11l12 -12l11 -14M1678 1299l17 -9l17 -9l17 -10l16 -11M1455 1569l17 -15l17 -16l17 -15l18 -15M2148 1775l12 -16l11 -16l12 -17l11 -16M1435 1251l8 -3l8 -3l9 -3M1302 1882l20 -10l19 -11l19 -10l18 -13M1414 1574l8 -9l9 -9l9 -8M1437 1396l20 -12l21 -12l21 -10l21 -10M1720 1159l17 -16l16 -17l15 -18l14 -18M1970 1260l12 -12l13 -11l13 -10M1975 1717l17 -11l17 -12l15 -13l14 -14M1598 1562l13 -8l14 -9l13 -8M2064 1530l20 -9l20 -9l20 -8l21 -8M1836 1752l8 -3l8 -3l8 -4M1720 1315l10 -6l10 -5l10 -6M1311 1530l12 -9l10 -10l12 -10M1321 1352l16 -9l16 -9l16 -8l17 -8M1790 1684l13 -4l14 -4l13 -4l14 -3M1299 1741l20 -11l19 -10l19 -13l17 -14M1620 1295l11 -4l11 -5l10 -5M1361 1646l10 -10l10 -10l10 -11l10 -10M1216 1566l19 -11l19 -11l18 -11l18 -12M1857 1622l15 -2l15 -2l15 -3M1784 1889l16 -6l16 -6l16 -5l16 -6M1532 1214l11 -4l12 -3l11 -3M1774 1639l15 -5l15 -5l16 -4M1638 1278l11 -5l11 -5l10 -5M1395 1574l8 -9l9 -10l9 -9M1861 1791l12 -5l13 -6l12 -6l12 -5M1223 1656l17 -10l17 -10l17 -10l17 -10M1274 1712l9 -5l8 -5l8 -5M1526 1350l14 -6l14 -6l14 -6M1780 1748l17 -6l18 -6l17 -6l17 -6M1624 1640l18 -12l19 -12l18 -12l19 -11M2038 1589l19 -9l18 -11l16 -12l17 -12M1749 1857l22 -7l22 -8l22 -7l22 -7M1913 1679l20 -3l19 -5l20 -5l18 -7M1470 1672l12 -13l11 -14l12 -13l12 -13M1569 1880l17 -13l17 -12l17 -12l17 -12M1776 1481l20 -10l20 -9l19 -10l20 -9M1809 1578l12 -4l13 -3l12 -4l13 -3M1630 1882l17 -11l18 -11l18 -9l18 -9M1746 1361l13 -7l12 -8l12 -8M1464 1327l15 -6l14 -6l15 -6l15 -5M1920 1728l21 -9l21 -9l20 -10l20 -12M1874 1806l17 -7l17 -8l17 -8l17 -8M1472 1304l10 -4l10 -4l10 -3M1383 1447l10 -8l10 -8l10 -8M1464 1566l17 -16l18 -15l17 -16l18 -15M1404 1333l20 -8l21 -9l20 -8l21 -8M1737 1487l15 -7l15 -8l15 -7l15 -8M1532 1725l17 -14l17 -13l18 -13l17 -13M1986 1331l7 -6l6 -6l7 -6M1868 1589l17 -3l16 -4l16 -3l16 -5M1332 1228l22 -9l21 -9l22 -8l21 -9M1213 1769l19 -10l19 -9l19 -10l19 -9M1388 1308l11 -4l12 -5l12 -5l11 -5M1879 1532l13 -5l14 -5l14 -5l13 -4M1454 1322l14 -6l14 -6l14 -6l15 -5M1259 1703l12 -8l12 -7l13 -8l12 -8M2036 1150l18 0l18 1l18 2l18 2M1429 1698l12 -13l11 -14l12 -13l11 -14M1278 1614l12 -7l13 -8l12 -8M1438 1338l14 -6l15 -6l14 -6l14 -6M1255 1435l11 -8l12 -9l11 -8M1417 1383l17 -9l16 -8l17 -9l17 -7M1281 1870l13 -6l14 -7l13 -7M1826 1361l17 -9l15 -11l14 -12l14 -13M2129 1713l12 -19l12 -19l13 -18l14 -17M1329 1851l16 -8l16 -9l15 -10l13 -12M1857 1819l20 -9l20 -9l20 -9l20 -10M1612 1410l15 -7l15 -7l15 -7M1643 1368l16 -8l16 -8l16 -8l16 -8M1424 1186l18 -5l18 -6l19 -5l18 -5M1221 1185l8 -3l8 -3l9 -3M1747 1657l14 -5l13 -4l13 -5l13 -4M1518 1427l20 -11l19 -9l20 -10l20 -9M1269 1845l10 -5l11 -5l11 -5M1217 1494l15 -11l16 -11l15 -11l15 -11M1400 1526l15 -14l16 -14l16 -13l16 -14M1279 1503l13 -9l13 -10l12 -10M1242 1526l9 -6l9 -6l9 -6M1916 1893l11 -8l12 -9l11 -9M1703 1289l13 -7l13 -7l12 -9l11 -10M1954 1406l11 -6l12 -5l11 -5l12 -6M1749 1351l16 -9l16 -10l14 -12l14 -12M1727 1426l11 -6l12 -6l12 -6l12 -6M1988 1697l11 -7l12 -8l11 -9M1425 1397l17 -10l18 -10l18 -10l18 -9M1702 1422l13 -7l13 -7l13 -7l13 -7M1597 1429l12 -5l11 -5l12 -6l12 -5M1795 1386l14 -7l14 -8l14 -7M1685 1292l16 -8l15 -8l15 -10l14 -11M1197 1815l18 -9l19 -10l19 -9l18 -8M1562 1301l18 -6l18 -6l18 -6l18 -6M1771 1597l10 -4l11 -4l10 -4M1874 1424l9 -4l9 -5l8 -4M1943 1693l16 -5l17 -7l16 -6l15 -8M1524 1631l10 -9l9 -9l10 -9l10 -8M1678 1777l17 -10l17 -8l18 -7l18 -6M1424 1334l10 -4l10 -4l10 -4M1313 1783l17 -8l17 -8l16 -9l15 -11M1297 1611l12 -8l12 -8l11 -9M1621 1864l18 -12l17 -12l18 -10l19 -10M1582 1514l9 -5l9 -6l9 -5M1445 1579l11 -11l11 -10l11 -10M1847 1504l14 -6l14 -7l15 -6l14 -6M1445 1533l12 -11l12 -11l12 -11M2000 1374l13 -6l14 -6l14 -6M1454 1338l14 -6l14 -5l14 -6l14 -5M1312 1624l18 -13l17 -15l16 -16l15 -17M1691 1871l21 -9l21 -8l21 -8l21 -7M2057 1371l16 -4l16 -3l15 -2l16 -3M1420 1176l9 -3l9 -2l8 -3M1287 1867l18 -9l18 -9l18 -9l17 -9M1698 1806l18 -7l17 -7l18 -7l18 -6M2010 1270l17 -12l19 -7l21 -2l20 0M2226 1232l11 1l11 1l11 1M2014 1533l21 -8l21 -9l20 -8l21 -8M2075 1325l18 -3l19 -2l18 -3l18 -2M1527 1475l11 -7l10 -7l11 -6M1540 1658l6 -6l6 -6l7 -5M1558 1667l17 -14l17 -12l18 -12l18 -12M1774 1417l19 -10l20 -10l20 -9l19 -9M1944 1765l21 -11l20 -13l18 -15l17 -16M2053 1512l14 -6l14 -5l13 -5M1811 1766l15 -5l14 -5l15 -6l15 -6M1665 1836l16 -9l18 -9l17 -8l18 -7M2052 1146l11 1l11 1l10 1M2005 1748l16 -17l15 -18l14 -19l13 -20M1737 1722l12 -4l13 -4l13 -4l13 -5M1932 1813l18 -10l18 -12l17 -13l15 -14M1513 1236l18 -5l18 -5l18 -6l18 -6M1865 1624l21 -3l21 -3l21 -4l20 -6M1281 1570l8 -5l9 -6l8 -6M1701 1884l12 -6l12 -5l13 -4M1761 1850l10 -3l9 -4l10 -3M1512 1786l11 -10l11 -10l12 -10l12 -9M1483 1751l12 -12l12 -12l12 -12l12 -11M1529 1150l17 -5l17 -5l17 -5l17 -6M1389 1623l11 -12l11 -12l11 -12l11 -11M1384 1243l15 -6l15 -6l16 -6M1643 1383l14 -7l13 -6l13 -7M1797 1352l11 -8l10 -8l10 -8M2055 1296l16 -2l15 -3l15 -2M1428 1622l7 -8l7 -8l7 -7M1723 1550l12 -6l12 -6l12 -6l12 -5M1453 1765l14 -15l13 -14l14 -15l15 -14M1293 1765l21 -10l21 -10l20 -11l18 -14M1919 1400l14 -8l14 -8l13 -8M1631 1381l20 -9l19 -9l19 -10l20 -10M1295 1595l17 -11l15 -12l15 -14l13 -14M1533 1212l11 -3l10 -3l10 -3M1919 1612l22 -5l21 -5l21 -6l21 -6M1559 1514l19 -14l20 -13l21 -11l21 -11M2043 1457l13 -5l14 -5l13 -5l14 -4M1987 1806l11 -10l10 -10l9 -11M1335 1590l17 -16l15 -17l16 -18l16 -17M1267 1285l20 -8l21 -9l20 -10l21 -9M1406 1785l8 -8l8 -9l9 -9M1221 1495l17 -11l16 -11l15 -12l16 -12M2077 1820l9 -12l9 -12l9 -13l9 -12M1801 1594l10 -3l10 -3l11 -3M1957 1646l14 -4l15 -4l14 -4l14 -5M1849 1546l13 -4l13 -4l13 -4l12 -5M1300 1550l18 -14l18 -15l17 -16l17 -16M1435 1377l9 -5l10 -5l9 -5M1735 1727l15 -5l14 -4l15 -5M1329 1707l18 -12l16 -13l15 -14l14 -16M1499 1680l6 -6l5 -7l6 -6M1495 1188l18 -4l18 -5l18 -5l18 -6M1522 1838l17 -15l18 -15l18 -14l19 -14M1788 1685l16 -5l16 -5l16 -4l17 -3M1512 1244l12 -4l12 -3l12 -4l12 -4M1252 1610l17 -10l16 -9l17 -10l15 -11M1972 1370l10 -7l11 -7l10 -7l11 -7M1714 1308l19 -10l18 -10l16 -14l14 -16M1528 1341l12 -4l11 -5l12 -4l12 -5M1489 1425l14 -10l14 -8l15 -8M1231 1648l20 -11l19 -12l20 -11l19 -12M1606 1775l10 -8l11 -8l11 -8l11 -7M1701 1182l12 -9l11 -11l11 -11l11 -11M2134 1388l18 -4l17 -4l18 -3l17 -4M1307 1396l16 -10l16 -11l16 -10l17 -9M1988 1682l11 -5l10 -6l10 -6M1844 1442l14 -7l14 -6l15 -7l14 -7M1740 1781l21 -7l20 -7l21 -7l21 -7M1815 1450l12 -5l12 -6l12 -6l12 -5M1560 1523l11 -8l11 -8l12 -7l12 -7M2023 1226l15 -4l16 0l16 1M1498 1284l18 -6l18 -6l18 -6l18 -6M1645 1438l8 -4l8 -4l9 -4M1786 1610l20 -7l20 -5l20 -5l20 -4M1911 1546l8 -2l9 -3l8 -2M1377 1687l13 -13l13 -14l12 -14l12 -14M1617 1858l12 -8l12 -8l13 -7l12 -8M1324 1179l9 -4l10 -4l9 -4M2164 1427l22 -5l22 -5l22 -5l23 -5M1460 1446l10 -8l10 -8l11 -8l11 -7M1518 1283l21 -7l21 -7l21 -7l21 -7M1195 1724l13 -8l13 -7l12 -7l13 -8M1452 1682l11 -13l11 -13l11 -12l11 -13M1328 1877l20 -11l19 -12l18 -14l16 -15M1410 1696l8 -10l9 -9l8 -10l8 -10M1329 1729l18 -11l16 -12l15 -13l15 -14M1648 1485l10 -5l10 -5l11 -5M1939 1565l14 -3l13 -4l14 -4M1578 1157l15 -5l15 -5l15 -5l14 -6M1474 1803l14 -16l16 -16l15 -15l17 -14M1785 1399l16 -9l17 -9l18 -8l17 -8M1234 1453l15 -11l15 -10l15 -11l14 -11M1672 1845l14 -8l15 -8l15 -6l16 -6M1657 1339l16 -8l15 -8l16 -8l15 -8M1600 1207l18 -6l17 -6l17 -8l17 -8M1887 1828l20 -9l20 -10l20 -11l19 -11M1434 1803l15 -16l16 -17l15 -17l16 -16M1745 1404l17 -9l16 -9l17 -10l17 -9M1645 1724l15 -10l16 -10l17 -8l17 -7M1914 1524l18 -6l17 -6l18 -7l17 -6M1601 1433l12 -5l12 -6l12 -6M1589 1203l17 -6l16 -6l16 -6l15 -7M1684 1365l13 -7l14 -7l14 -7l13 -7M1479 1569l8 -7l9 -8l8 -8M1475 1361l20 -9l20 -9l20 -8l20 -8M1272 1203l15 -6l15 -6l16 -6l15 -6M1980 1387l13 -7l13 -6l13 -6M1327 1778l21 -10l20 -12l18 -14l17 -16M1537 1761l8 -6l8 -6l8 -6M1331 1506l11 -9l11 -10l12 -9l11 -9M1802 1350l8 -5l8 -6l8 -7M1480 1540l15 -14l15 -13l15 -13l16 -13M1890 1445l10 -4l10 -5l9 -4M1361 1182l8 -4l8 -3l8 -3M1290 1608l13 -8l13 -8l12 -10l11 -10M1681 1442l19 -9l20 -10l19 -10l19 -10M1250 1298l17 -7l18 -8l17 -8l18 -8M2029 1278l22 -9l23 -4l23 -2l23 0M1771 1268l15 -18l14 -18l15 -19l14 -18M1276 1776l11 -5l12 -6l12 -5M1291 1596l13 -8l13 -9l12 -10l11 -11M1195 1519l19 -12l18 -12l18 -12l18 -13M1304 1501l13 -10l13 -11l13 -10M1424 1618l6 -6l6 -7l5 -6M1526 1231l17 -5l18 -5l18 -6l18 -6M1518 1651l14 -15l15 -14l16 -13l16 -13M1389 1633l11 -12l12 -13l12 -13l12 -13M1419 1810l14 -15l14 -16l13 -15l14 -15M1723 1262l11 -8l9 -9l9 -9M1760 1445l10 -6l11 -5l10 -5M1342 1315l13 -7l13 -6l13 -5M2049 1730l8 -11l8 -12l7 -12M1391 1714l13 -12l12 -14l12 -13l12 -14M1198 1607l13 -7l12 -8l12 -7M1887 1897l10 -5l9 -6l9 -6M2002 1589l17 -5l17 -6l17 -7l15 -9M1502 1373l11 -6l12 -5l11 -5l12 -5M1422 1648l11 -13l10 -13l11 -12M1590 1323l20 -8l20 -8l19 -9l20 -9M2043 1262l15 -3l14 -1l15 0M1198 1289l19 -8l20 -7l19 -8l20 -7M1439 1823l10 -11l10 -11l10 -11l10 -11M1194 1667l20 -12l20 -12l20 -11l21 -12M1207 1664l18 -10l18 -11l18 -10l17 -10M1276 1539l13 -8l12 -10l12 -9M1797 1622l9 -2l9 -2l9 -2M1478 1824l16 -17l16 -17l17 -16l18 -14M1385 1359l17 -8l17 -8l17 -7l17 -7M1978 1863l13 -11l14 -12l13 -11l11 -13M1370 1261l10 -4l10 -4l9 -4M1951 1866l10 -8l11 -9l10 -8l10 -9M1459 1807l14 -14l13 -15l14 -14l14 -14M2006 1316l16 -12l18 -10l20 -5l20 -4M1982 1747l17 -13l16 -15l14 -16l14 -17M2030 1411l12 -5l12 -4l12 -4l12 -4M1213 1148l11 -5l11 -4l11 -4M1949 1769l12 -6l11 -7l10 -7l10 -8M2014 1210l14 -4l15 -1l14 1l14 1M1373 1328l19 -9l19 -7l19 -8l19 -8M1978 1728l17 -12l16 -13l14 -14l14 -15M2029 1312l13 -6l14 -3l13 -3l14 -2" stroke="#708cc2" stroke-width="2.9" opacity="0.95" fill="none" stroke-linecap="round"/><path d="M1266 1482l18 -13l17 -13l17 -14l17 -13M1807 1339l9 -7l9 -8l8 -8M1294 1761l13 -6l14 -7l13 -7l13 -7M1973 1336l7 -7l8 -7l8 -7M1340 1690l7 -6l7 -6l7 -7M2049 1248l15 -1l15 0l15 1l15 1M1733 1494l10 -5l10 -5l10 -5M1518 1777l15 -12l15 -12l16 -12l15 -11M1277 1324l15 -8l14 -9l14 -7l14 -8M1235 1188l21 -7l21 -8l20 -8l21 -8M1312 1871l15 -8l15 -7l14 -9M1590 1236l18 -6l18 -6l18 -7l17 -8M1224 1568l8 -5l8 -5l8 -4M1387 1884l18 -15l16 -16l16 -17l15 -17M1521 1171l12 -3l12 -4l11 -3M1340 1608l11 -10l10 -11l11 -12l10 -11M1441 1256l16 -6l16 -6l17 -5l17 -5M1782 1408l12 -7l13 -6l12 -6l13 -6M1393 1602l12 -13l12 -12l12 -13l13 -12M1367 1377l8 -5l8 -5l9 -4M1530 1808l10 -9l11 -9l11 -8M1343 1826l11 -6l11 -7l9 -7M1270 1618l13 -8l12 -7l12 -7l12 -9M2065 1394l23 -7l22 -5l23 -5l23 -5M1473 1786l12 -14l13 -13l13 -13l14 -12M1417 1172l16 -5l16 -5l16 -4M1465 1454l11 -9l12 -9l12 -9M1538 1270l15 -5l15 -5l15 -5M1473 1299l17 -7l18 -6l18 -6l17 -6M1657 1532l17 -8l16 -9l17 -8l17 -8M1797 1538l10 -5l10 -4l9 -4M1311 1449l13 -10l13 -10l13 -10l13 -10M1338 1575l8 -8l8 -9l9 -9M1191 1179l14 -6l14 -5l14 -5l14 -6M1848 1895l15 -6l14 -7l14 -7l13 -7M1294 1219l14 -6l15 -6l14 -5l14 -6M1469 1773l9 -10l10 -10l10 -10l10 -10M1315 1684l11 -8l10 -8l11 -8l10 -9M1272 1667l17 -10l16 -10l16 -11l15 -11M1634 1845l16 -10l16 -10l16 -10l17 -9M1650 1287l8 -4l7 -3l8 -4M1271 1387l20 -12l20 -12l20 -11l20 -12M1694 1632l14 -9l15 -8l14 -7M1373 1815l8 -7l8 -8l8 -8M1303 1891l9 -5l10 -5l9 -5M1287 1557l9 -6l9 -6l8 -7M1902 1335l11 -9l10 -10l10 -10l10 -10M1689 1263l11 -7l11 -7l11 -8l10 -9M1431 1407l7 -5l7 -5l8 -4M1571 1256l18 -6l19 -6l18 -6l18 -7M1412 1573l14 -16l16 -14l16 -15l16 -14M1405 1810l13 -15l13 -14l14 -15l13 -15M1716 1228l11 -10l10 -11l10 -11l10 -11M1744 1757l12 -4l12 -4l11 -4M1673 1627l18 -12l18 -12l19 -11l20 -10M1942 1366l14 -11l14 -11l13 -12l13 -12M1989 1429l14 -5l14 -6l14 -5l13 -6M1727 1460l14 -7l13 -6l14 -7M1496 1302l11 -4l11 -3l11 -4M1491 1406l13 -8l13 -7l13 -7l14 -6M2027 1505l18 -7l19 -7l19 -7l19 -6M1984 1623l17 -4l16 -5l16 -6l16 -7M1185 1512l9 -6l9 -6l9 -6M1470 1866l10 -10l9 -10l10 -9M1224 1767l15 -7l15 -8l15 -7M1342 1650l11 -10l11 -10l10 -11l11 -11M1835 1351l14 -10l13 -11l12 -11l12 -12M1657 1562l8 -5l8 -4l8 -5M1950 1190l4 -7l5 -7l5 -7M1507 1176l16 -4l16 -4l16 -5M1875 1665l12 -1l11 -2l12 -2M1354 1530l14 -15l15 -14l15 -13l15 -13M1605 1149l8 -3l8 -4l9 -3M1764 1409l17 -9l17 -9l17 -8l17 -8M1213 1657l12 -7l12 -7l11 -7l12 -7M1352 1544l11 -12l11 -11l11 -11l12 -10M1898 1353l10 -8l10 -8l9 -9M1685 1800l16 -9l16 -7l17 -7l16 -6M1707 1892l12 -5l12 -5l13 -5M1340 1246l15 -6l15 -7l15 -6l15 -6M1468 1854l6 -7l7 -7l6 -7M1960 1401l11 -6l12 -5l11 -5M1459 1262l19 -7l19 -6l18 -5l19 -6M1275 1180l11 -4l12 -4l11 -5M2067 1534l12 -5l13 -6l12 -6l12 -5M1376 1830l15 -13l13 -14l13 -14l14 -15M1768 1447l10 -5l10 -5l9 -5M1569 1819l12 -9l13 -10l13 -9l12 -9M1823 1397l21 -9l20 -10l21 -9l20 -11M1350 1791l12 -8l12 -8l12 -10M1793 1828l14 -4l13 -5l13 -4l13 -4M1320 1624l12 -9l10 -9l10 -10M1216 1504l17 -12l18 -12l17 -13l16 -12M1547 1847l9 -7l9 -7l9 -7M1750 1788l10 -3l10 -3l10 -4M1428 1493l18 -15l18 -15l17 -15l19 -14M1773 1718l11 -4l12 -3l11 -4M1352 1691l10 -8l9 -9l9 -8l8 -10M1639 1268l10 -4l10 -5l10 -5M1902 1604l12 -2l13 -3l13 -4M1808 1428l19 -9l18 -8l18 -8l19 -9M1587 1315l19 -7l18 -7l18 -8l18 -8M1361 1529l9 -10l9 -9l9 -8l10 -9M1309 1264l14 -7l13 -6l14 -6M1651 1744l19 -13l19 -11l21 -9l21 -7M1390 1865l15 -13l13 -14l13 -14l13 -15M1716 1163l14 -13l14 -14l13 -14l12 -15M1493 1794l12 -13l13 -12l14 -12l14 -11M1674 1577l13 -8l14 -8l14 -8l15 -7M1478 1226l14 -4l14 -4l13 -3l14 -4M1476 1258l13 -4l13 -4l13 -4l13 -4M1277 1290l10 -5l11 -5l10 -5M1873 1754l9 -4l10 -4l9 -4M2014 1617l21 -7l20 -10l18 -13l18 -14M1577 1220l18 -6l17 -6l18 -6l17 -7M1632 1775l19 -14l19 -13l20 -12l21 -9M2036 1595l16 -8l14 -8l14 -10l13 -10M1355 1778l13 -9l12 -9l12 -11l11 -11M1333 1762l12 -6l12 -6l11 -8M2047 1316l21 -5l21 -3l21 -3l22 -3M1284 1722l16 -9l15 -8l14 -10l14 -10M1207 1783l11 -6l12 -5l11 -6l12 -6M1623 1408l11 -5l11 -5l11 -6M1606 1866l19 -13l19 -13l20 -12l20 -12M1486 1494l7 -6l8 -6l7 -6M1683 1436l18 -9l18 -10l18 -9l18 -9M1253 1754l13 -7l13 -6l13 -7l13 -6M1643 1195l12 -6l12 -6l12 -6M1551 1740l14 -11l15 -11l15 -11l15 -11M1730 1503l17 -9l17 -8l17 -8l17 -9M1612 1747l13 -9l13 -10l13 -9M1288 1676l17 -11l17 -11l16 -13l15 -13M1547 1259l14 -4l14 -5l13 -4l14 -5M1544 1385l17 -8l17 -8l18 -8l17 -8M1748 1725l15 -5l15 -5l15 -5l14 -5M1459 1481l17 -14l17 -14l18 -14l19 -12M1618 1565l10 -7l12 -7l11 -6M1206 1548l10 -6l10 -6l10 -6M1209 1540l11 -7l11 -7l11 -7M1967 1672l9 -3l9 -3l8 -4M1900 1619l15 -2l14 -3l14 -4M1309 1153l20 -8l19 -8l20 -7l19 -8M1243 1371l13 -7l13 -7l12 -8l13 -7M1364 1404l17 -12l18 -12l19 -10l19 -10M1694 1497l13 -7l13 -6l13 -6M1285 1581l14 -8l13 -10l12 -10M1445 1197l9 -3l9 -2l8 -2M1682 1534l13 -7l12 -6l13 -6l13 -7M1878 1521l13 -5l14 -5l13 -5l13 -5M1871 1752l13 -5l13 -6l13 -6l13 -6M1676 1178l15 -10l14 -10l13 -12l13 -12M1466 1773l13 -14l14 -15l14 -13l14 -14M1452 1453l8 -6l8 -7l8 -6M1419 1649l14 -17l15 -17l15 -17l16 -16M1635 1602l18 -11l18 -12l18 -11l19 -11M1580 1625l16 -11l16 -11l17 -11l17 -10M1776 1460l8 -4l9 -4l8 -4M1800 1405l12 -5l11 -6l12 -5M1496 1659l15 -17l15 -16l15 -15l17 -14M1376 1709l11 -10l10 -11l10 -11l10 -11M1401 1191l11 -4l12 -3l11 -4M1967 1346l6 -6l7 -5l6 -6M1446 1748l9 -10l10 -11l10 -10l10 -11M1375 1891l12 -10l11 -10l11 -10l10 -11M1474 1282l20 -7l20 -7l20 -6l20 -7M1444 1661l6 -7l6 -7l5 -7M1391 1739l14 -14l14 -14l13 -14l13 -15M1194 1514l19 -12l19 -13l19 -13l19 -14M1254 1638l14 -8l13 -8l14 -8l13 -8M1921 1616l14 -3l14 -4l14 -3M2125 1811l8 -9l7 -10l8 -10M1900 1651l11 -2l10 -1l10 -2M2011 1427l12 -5l12 -5l12 -5l12 -4M1986 1461l19 -8l20 -8l20 -8l20 -7M1670 1883l20 -10l21 -10l22 -9l22 -8M1190 1614l14 -9l14 -8l14 -8l15 -8M1427 1372l19 -10l20 -9l20 -9l20 -9M1808 1483l17 -8l17 -8l16 -8l17 -8M1270 1634l13 -8l12 -7l13 -8l12 -8M1260 1738l14 -7l13 -7l13 -7M1639 1886l20 -12l20 -11l20 -10l21 -10M1390 1712l9 -9l8 -9l8 -9M1768 1608l13 -5l14 -5l14 -5l14 -4M1729 1468l10 -5l10 -5l9 -5M1271 1392l11 -7l10 -6l10 -6M1325 1593l14 -12l12 -13l12 -13l13 -13M1595 1565l10 -7l11 -6l11 -7M1848 1337l10 -9l11 -9l10 -10l10 -10M2011 1505l12 -4l11 -5l12 -5l12 -4M1550 1560l12 -10l13 -10l14 -10M2199 1571l13 -10l14 -8l14 -6l15 -7M1652 1166l8 -4l7 -4l7 -5M1212 1752l18 -9l17 -8l17 -9l17 -10M1711 1499l16 -8l16 -8l16 -8l16 -8M1224 1799l20 -10l21 -10l21 -10l21 -10M1993 1656l22 -8l21 -11l19 -13l17 -15M1631 1473l13 -7l13 -6l13 -6M1831 1726l20 -7l21 -7l20 -6l21 -5M1430 1162l12 -4l12 -3l13 -4M1952 1833l18 -15l18 -14l17 -16l14 -17M1790 1371l10 -6l9 -5l10 -6M1743 1558l14 -7l15 -7l14 -7l14 -7M1844 1818l13 -5l14 -5l13 -6M1607 1402l18 -9l18 -8l19 -9l18 -9M1585 1308l12 -4l13 -4l12 -5l12 -5M1822 1810l13 -5l14 -5l13 -5l13 -6M1965 1389l12 -7l13 -7l12 -6l13 -7M1373 1821l10 -9l10 -10l10 -10l9 -10M1968 1629l11 -3l11 -3l11 -3M1299 1439l13 -10l12 -10l13 -10l13 -9M1628 1755l13 -9l13 -9l13 -9l13 -8M1608 1672l17 -12l18 -12l18 -12l18 -11M1916 1625l13 -2l12 -3l13 -4M1647 1741l12 -8l12 -8l13 -7M1973 1875l11 -10l12 -10l12 -10M1546 1527l11 -10l12 -8l12 -9l13 -7M1708 1159l13 -11l11 -11l12 -12l11 -12M1317 1561l14 -12l13 -13l13 -14l13 -13M1557 1507l17 -12l17 -11l18 -9l18 -10M1640 1347l13 -6l12 -6l12 -6M1877 1653l18 -3l18 -3l18 -3l18 -3M1707 1365l12 -6l13 -7l12 -6l12 -7M1465 1303l14 -5l14 -6l14 -5l15 -5M1343 1298l10 -5l11 -5l10 -4M1202 1672l11 -6l11 -7l12 -7l11 -6M1220 1247l15 -5l15 -6l16 -5M1191 1554l9 -5l9 -5l8 -5M1192 1475l12 -8l13 -8l11 -9M1646 1149l12 -6l12 -7l12 -7M1601 1711l9 -6l8 -6l9 -6M1838 1635l13 -2l13 -2l13 -2M1394 1201l10 -4l10 -3l10 -3M1385 1542l16 -16l16 -16l18 -14l17 -15M1760 1809l14 -4l13 -5l14 -4M2060 1588l13 -8l12 -9l12 -10M1401 1316l16 -7l15 -6l16 -6l15 -7M2218 1435l12 -3l11 -3l11 -2M1580 1611l19 -13l20 -13l20 -13l20 -13M1884 1866l14 -7l15 -9l13 -9l14 -9M1761 1594l13 -6l14 -5l13 -5l13 -5M1231 1622l19 -11l19 -11l19 -11l19 -11M1361 1455l8 -6l9 -7l8 -7M2000 1625l8 -3l8 -2l8 -3M1324 1384l13 -8l13 -8l13 -8M1197 1692l7 -5l8 -4l8 -5M1963 1427l18 -8l18 -7l17 -8l18 -7M1652 1663l11 -7l11 -6l11 -7l11 -7M1859 1479l18 -8l19 -8l18 -9l18 -8M1224 1313l13 -6l13 -6l13 -5l13 -6M1548 1606l10 -9l10 -8l11 -8M1299 1621l12 -8l12 -8l11 -9l11 -10" stroke="#90a9d8" stroke-width="2.6" opacity="0.95" fill="none" stroke-linecap="round"/><path d="M1463 1769l6 -7l6 -6l6 -7M2014 1392l19 -8l19 -7l20 -5l20 -4M1921 1865l18 -13l18 -14l17 -15l18 -14M1691 1854l20 -9l20 -8l21 -7l20 -7M1946 1641l21 -5l21 -6l21 -6l21 -7M1415 1862l10 -11l10 -10l10 -11l10 -11M1349 1480l18 -15l18 -14l18 -15l18 -14M1946 1807l13 -9l13 -9l13 -10M1464 1529l10 -9l9 -8l10 -9l10 -8M1980 1821l11 -9l11 -10l10 -11M1723 1318l16 -8l15 -9l14 -11l12 -13M1786 1413l19 -10l20 -9l19 -9l19 -9M1232 1762l15 -8l16 -8l16 -7l15 -8M1864 1769l12 -6l12 -5l13 -6l12 -6M1859 1497l12 -5l13 -6l12 -5M1612 1523l13 -7l13 -7l14 -7l13 -7M1195 1435l19 -12l19 -12l19 -13l19 -12M1787 1341l11 -9l10 -9l10 -9l10 -10M1249 1595l9 -6l10 -6l10 -5M1601 1481l20 -10l21 -11l21 -10l20 -10M1588 1710l18 -12l17 -13l18 -12l18 -11M1507 1632l11 -12l12 -12l13 -11l12 -11M1651 1698l11 -7l12 -7l12 -6M1185 1721l13 -7l12 -8l13 -8l13 -7M1440 1274l12 -5l12 -4l12 -4M1932 1751l14 -7l14 -7l14 -8l13 -8M1397 1716l11 -11l11 -11l10 -11M1428 1468l7 -6l6 -5l7 -6M1948 1444l13 -5l12 -5l13 -5l12 -5M1594 1434l11 -5l10 -5l11 -5M1401 1219l19 -7l19 -6l19 -6l19 -6M1833 1818l14 -5l14 -5l14 -6l14 -6M1462 1411l15 -9l14 -9l16 -9l15 -7M1516 1616l11 -11l11 -10l12 -10l12 -10M1396 1898l10 -9l10 -10l10 -9M1618 1814l17 -13l17 -12l18 -12l18 -11M1291 1156l14 -5l14 -6l14 -6M1191 1719l19 -11l19 -11l19 -11l19 -11M1765 1521l11 -5l10 -5l11 -6M1335 1271l17 -8l16 -8l18 -7l17 -7M1280 1802l15 -7l15 -7l15 -7l15 -7M1313 1358l14 -8l14 -8l14 -8l14 -7M1897 1415l14 -7l13 -6l14 -8M1466 1808l11 -12l11 -12l11 -11M1613 1670l18 -12l17 -11l18 -11l17 -12M1641 1261l14 -7l14 -7l14 -7l14 -8M1532 1225l19 -6l19 -6l19 -6l19 -6M1611 1573l10 -7l11 -7l11 -6M1194 1793l7 -3l7 -4l8 -4M1803 1524l13 -7l14 -6l14 -6M1657 1742l10 -7l11 -6l11 -6M1211 1490l16 -10l15 -11l16 -12l15 -11M1567 1438l12 -5l11 -6l12 -5l11 -6M2060 1585l11 -8l12 -8l11 -8M1910 1356l8 -6l8 -7l7 -7M1980 1443l14 -5l13 -6l14 -5M1878 1797l15 -7l15 -7l14 -7M1437 1588l12 -12l12 -11l12 -11M1603 1463l19 -10l19 -9l19 -9l19 -9M2003 1550l17 -6l16 -6l16 -7l16 -7M1954 1527l20 -6l20 -8l20 -8l20 -7M1976 1826l11 -9l12 -10l10 -11l10 -12M1934 1149l7 -15l8 -13l9 -14l11 -12M1292 1414l12 -9l12 -8l12 -9l13 -8M1628 1447l13 -7l13 -6l14 -7M1883 1476l11 -5l12 -6l11 -5l12 -5M1318 1662l18 -14l18 -15l16 -16l16 -16M1366 1664l13 -13l13 -14l13 -14l12 -14M1997 1596l21 -6l21 -7l20 -10l19 -11M1193 1870l14 -8l14 -7l14 -7l14 -7M1788 1874l19 -6l20 -7l19 -6l19 -8M1861 1399l15 -6l14 -7l14 -7l14 -8M1486 1439l10 -7l10 -6l10 -7M1483 1365l11 -6l12 -5l12 -5l11 -5M1914 1498l12 -5l13 -5l12 -5l12 -5M1966 1804l8 -6l8 -6l7 -7M1738 1711l20 -6l20 -7l20 -6l20 -7M1655 1806l11 -8l12 -8l13 -6l12 -7M1979 1423l8 -4l9 -3l8 -4M1696 1515l15 -8l15 -7l15 -7l15 -8M1723 1386l20 -11l20 -11l20 -12l19 -13M1818 1331l12 -11l12 -11l11 -12l12 -12M1514 1222l14 -4l13 -4l14 -4l14 -4M1743 1520l12 -6l12 -6l12 -6l13 -6M2005 1542l14 -5l15 -6l14 -6M1771 1611l16 -7l16 -5l17 -5l17 -5M1626 1429l12 -6l12 -6l12 -6M1787 1529l15 -7l15 -7l16 -7l15 -6M1858 1560l15 -4l15 -4l15 -4l14 -5M1750 1489l12 -6l11 -5l12 -6l11 -6M1861 1688l19 -3l18 -3l18 -3l19 -4M1820 1850l13 -4l13 -5l13 -4l13 -6M1500 1718l13 -12l12 -13l13 -12l14 -11M1578 1399l13 -6l13 -6l13 -6l13 -6M1544 1706l8 -6l7 -6l7 -5M1537 1288l15 -5l15 -5l15 -5M1248 1592l12 -7l12 -7l12 -7M1530 1275l18 -6l19 -6l18 -6l18 -6M1766 1461l19 -9l19 -10l19 -9l19 -9M2008 1692l11 -9l10 -10l10 -10l9 -10M1802 1799l21 -7l20 -7l21 -8l20 -9M1714 1190l12 -12l12 -11l11 -13l10 -12M1371 1442l15 -11l15 -12l15 -11l15 -11M1973 1572l15 -4l15 -4l15 -5l14 -5M1284 1724l8 -5l8 -4l8 -5M1196 1831l15 -8l14 -7l14 -7l15 -7M1699 1178l16 -14l16 -14l14 -15l14 -16M1324 1335l18 -10l17 -10l19 -8l18 -8M1440 1325l19 -8l19 -8l19 -8l20 -6M1797 1369l11 -7l12 -7l11 -8M1305 1577l10 -8l10 -8l10 -9M1988 1592l19 -5l19 -6l18 -7l18 -9M1998 1891l9 -8l10 -8l9 -9l10 -9M1587 1601l19 -12l18 -12l19 -12l19 -12" stroke="#b6c8e8" stroke-width="2.1" opacity="0.9" fill="none" stroke-linecap="round"/><path d="M2116 1607l10 -10l10 -10l10 -10M2202 1418l13 -3l13 -2l14 -3M2079 1247l14 0l14 1l14 2l14 0M2220 1222l9 1l9 1l9 1M1929 1211l9 -17l9 -16l9 -16l10 -15M2111 1649l9 -11l9 -10l10 -10M2216 1482l12 -4l13 -5l12 -4M2246 1483l12 -5l12 -4l13 -4M2033 1701l8 -10l8 -11l7 -11M2164 1289l22 0l22 2l22 2l21 1M2204 1863l9 -11l9 -11l9 -10M2079 1833l9 -12l9 -12l9 -12M1843 1307l9 -8l8 -8l8 -8M1906 1283l9 -10l9 -9l9 -9M2215 1292l22 2l23 1l23 1l22 -1M2131 1162l14 2l14 1l15 2M1974 1271l14 -14l15 -13l17 -11l18 -5M2223 1693l14 -19l13 -18l14 -19l16 -17M2233 1411l15 -3l14 -3l15 -3M2090 1345l14 -2l14 -2l15 -2M2124 1562l11 -9l10 -9l12 -8M2128 1555l11 -10l13 -9l13 -8M2158 1638l14 -15l15 -15l14 -14l16 -14M1733 1256l18 -17l15 -18l15 -18l15 -19M1736 1159l16 -18l15 -18l15 -18l14 -19M2185 1654l10 -13l11 -13l11 -12l12 -12M1941 1292l8 -8l7 -7l7 -7M1947 1177l8 -13l8 -12l9 -12l10 -11M2079 1540l19 -11l21 -10l20 -10l21 -9M2089 1520l12 -5l11 -5l12 -5M2243 1624l10 -10l9 -9l11 -9l10 -8M2229 1569l13 -8l13 -7l13 -6l13 -7M1916 1267l16 -17l16 -18l15 -17l15 -18M1802 1229l7 -9l6 -8l7 -9M2045 1859l11 -12l10 -13l9 -13M1834 1200l6 -11l6 -13l5 -12M1804 1203l10 -13l9 -14l8 -14l7 -15M2167 1303l20 0l19 0l20 1l19 1M2125 1695l6 -10l7 -11l7 -10M2034 1716l11 -15l10 -15l10 -15l10 -15M2219 1680l11 -14l10 -15l11 -14l12 -13M2078 1456l21 -7l21 -6l21 -7l20 -7M2038 1790l8 -11l7 -10l8 -11M1775 1182l10 -13l9 -12l8 -13l9 -13M2229 1439l12 -4l13 -3l12 -3l13 -3M2136 1781l13 -18l13 -18l13 -19l12 -18M2115 1506l9 -4l10 -4l10 -4M1983 1259l6 -6l7 -6l7 -5M1906 1257l8 -9l7 -9l7 -9M2209 1284l23 2l23 2l23 1l22 1M1821 1190l12 -20l10 -21l10 -21l11 -21M1974 1172l16 -17l19 -13l22 -7l24 -2M2088 1220l15 2l15 2l16 2M1941 1214l8 -13l8 -12l9 -12l9 -11M2182 1562l11 -8l12 -7l12 -6M2105 1303l15 -2l14 -2l14 -1M1755 1320l14 -9l13 -11l11 -13l11 -12M2188 1579l14 -13l16 -10l16 -9l17 -7M2119 1492l10 -4l11 -4l10 -3M2179 1610l10 -10l11 -10l10 -9l11 -9M2078 1244l17 1l16 1l16 2M2196 1253l21 2l21 2l21 2l21 2M2157 1550l13 -10l14 -7l15 -6M1918 1159l4 -8l4 -9l5 -9M2168 1599l7 -7l7 -7l8 -7M2194 1570l12 -9l13 -8l14 -7l14 -6M2133 1466l19 -7l19 -6l19 -6l19 -5M2146 1475l16 -6l16 -5l15 -5l16 -6M2084 1399l22 -7l23 -5l22 -5l22 -5M1798 1286l10 -11l10 -13l10 -12l10 -12M2111 1181l11 2l10 1l10 1M1884 1160l6 -15l6 -15l7 -14M1896 1272l11 -12l11 -12l10 -13l10 -13M2236 1716l12 -18l13 -18l13 -17l13 -17M2036 1695l14 -19l14 -19l13 -19l15 -18M2191 1621l8 -8l8 -7l7 -8M1960 1292l11 -11l12 -12l12 -11M1984 1255l10 -10l12 -9l12 -7M2126 1851l12 -15l12 -15l13 -15l12 -15M1972 1301l15 -15l16 -15l17 -14l20 -9M2238 1305l16 1l16 0l16 -1M2178 1609l12 -12l12 -12l12 -11l14 -9M2174 1694l8 -11l7 -11l8 -11M1880 1229l5 -11l5 -11l5 -11M2176 1330l17 -2l17 -2l17 -1l18 -2M2091 1663l9 -15l11 -15l12 -14l13 -13M2176 1182l14 1l13 2l14 1M2234 1227l16 2l17 1l16 1M2233 1850l8 -10l8 -9l8 -10l9 -10M2204 1334l23 -3l22 -2l23 -3l23 -2M2193 1805l13 -16l13 -16l13 -16l12 -17M2102 1809l5 -7l5 -7l5 -7M2229 1301l19 1l18 0l18 0l19 0M2175 1649l6 -8l7 -8l7 -7M2172 1870l12 -14l13 -15l12 -15l13 -15M1882 1209l7 -15l6 -15l6 -16l7 -15M2219 1717l9 -13l9 -14l10 -13l9 -13M2162 1421l22 -5l21 -4l21 -5l22 -5M2167 1887l8 -10l9 -10l8 -10l9 -10M2217 1796l12 -16l13 -16l12 -16l12 -16M2098 1151l23 3l23 2l23 3l23 2M1824 1176l11 -19l9 -20l10 -20l10 -20M2084 1789l13 -18l13 -19l13 -19l12 -20M1875 1253l9 -10l7 -12l6 -12l6 -12M1771 1294l13 -14l13 -14l12 -15l12 -15M2124 1313l19 -3l19 -2l20 -1l19 0M1733 1175l11 -11l10 -12l10 -11l9 -12M2148 1479l16 -6l15 -5l16 -6l16 -5M1783 1245l9 -12l9 -11l8 -12l9 -11M2083 1634l13 -15l14 -15l15 -15l14 -14M2111 1686l8 -13l8 -13l9 -12l10 -12M2049 1709l8 -12l7 -12l8 -12M1912 1292l12 -12l12 -13l13 -12l12 -13M2185 1402l11 -3l11 -2l12 -3M1784 1211l14 -19l14 -19l12 -20l11 -20M2223 1749l6 -8l6 -9l6 -9M1818 1311l13 -14l14 -13l13 -14l14 -14M2156 1471l12 -4l12 -4l12 -4l12 -4M2231 1240l13 2l12 1l12 1M1952 1307l11 -10l10 -11l11 -11l11 -10M2197 1212l13 1l13 1l13 2M2184 1669l8 -11l7 -10l8 -10l8 -10M1841 1327l16 -15l15 -15l16 -16l15 -15M2067 1717l8 -14l8 -13l8 -14M1923 1279l16 -15l16 -16l15 -16l16 -16M2157 1264l19 2l18 1l18 2l18 2M2221 1223l15 2l15 1l15 2M1914 1228l10 -18l10 -19l9 -19l10 -19M2140 1453l8 -3l9 -2l8 -3M1879 1151l8 -18l8 -18l9 -18l10 -17M2170 1263l13 1l14 2l14 1l14 2M2105 1420l21 -7l22 -7l22 -5l22 -5M1760 1176l8 -11l9 -10l8 -11l8 -11M2168 1295l16 0l15 1l16 1l16 1M2206 1870l14 -18l15 -17l14 -17l15 -18M2223 1384l13 -3l13 -3l13 -3M2132 1676l9 -13l8 -12l10 -11M1935 1184l9 -20l10 -18l12 -18l14 -16M2220 1735l11 -15l11 -15l10 -15l11 -15M2068 1628l9 -10l9 -9l10 -9l9 -9M1858 1249l14 -16l10 -19l8 -19l8 -20M1948 1327l13 -13l13 -12l13 -13l13 -13M2234 1892l11 -13l11 -13l11 -14l12 -13M1859 1173l7 -17l8 -17l7 -18l8 -17M1988 1242l11 -9l11 -7l12 -5M2192 1175l14 1l14 1l14 1M2046 1720l13 -19l12 -20l12 -19l13 -20M2104 1198l21 3l21 3l21 3l21 2M1855 1272l15 -15l13 -17l12 -17l8 -19M1945 1314l11 -11l11 -11l11 -11l11 -10M2086 1780l8 -11l8 -11l8 -11M2125 1866l15 -18l15 -18l15 -18l14 -18M2039 1679l7 -8l7 -9l6 -8M1860 1179l8 -18l7 -19l8 -18l9 -18M2220 1846l9 -10l9 -11l9 -11l9 -10M2091 1269l15 -1l15 0l15 -1l15 1M2076 1643l13 -16l14 -15l14 -15l15 -14M2221 1783l14 -18l14 -18l13 -18l14 -19M2186 1507l8 -3l9 -3l9 -3M1856 1190l6 -14l6 -14l6 -14l6 -15M2172 1619l12 -11l11 -11l12 -11l12 -11M1841 1219l6 -9l5 -10l4 -10M2094 1323l16 -3l15 -2l15 -2l16 -2M2179 1577l10 -10l12 -9l12 -7M2083 1359l15 -2l15 -3l15 -2l15 -2M1934 1236l7 -9l8 -10l7 -10M2159 1731l6 -8l5 -8l6 -8M1919 1221l6 -9l5 -10l5 -10M2073 1704l8 -14l9 -14l8 -14l9 -14M2178 1465l14 -5l14 -4l14 -5l14 -4M1986 1265l18 -16l19 -13l22 -6l23 0M1880 1241l12 -20l10 -22l9 -21l9 -22M1943 1280l12 -12l11 -11l12 -12l12 -11M2109 1570l14 -12l14 -12l14 -11l17 -9M2113 1188l15 2l15 2l15 2M1926 1253l11 -12l10 -12l10 -12M2102 1819l14 -19l14 -19l14 -19l14 -20M1784 1326l13 -11l12 -11l11 -12l12 -12M2182 1821l11 -13l10 -12l11 -13l10 -13M2047 1766l10 -15l11 -14l9 -15l10 -16M2102 1390l14 -3l14 -3l14 -3l13 -3M2166 1710l7 -11l8 -11l8 -12M2095 1204l15 2l14 2l15 2l15 2M1792 1261l14 -18l14 -18l14 -18l12 -20" stroke="#8aa4d6" stroke-width="2.1" opacity="0.95" fill="none" stroke-linecap="round"/><path d="M2104 1353l13 -2l12 -1l13 -2l12 -2M2116 1745l7 -11l7 -11l7 -11l7 -12M1740 1157l9 -9l8 -10l8 -9M2126 1502l13 -5l13 -5l13 -5M2049 1722l5 -8l5 -7l5 -8M2091 1610l10 -10l9 -9l10 -9l10 -10M2174 1788l13 -16l12 -17l12 -16l12 -17M2070 1621l6 -6l6 -6l6 -6M2170 1217l22 2l21 2l22 2l22 2M1804 1296l13 -14l12 -15l13 -14l12 -15M2105 1515l20 -8l21 -9l21 -8l21 -7M2215 1312l11 0l11 0l10 0M2126 1811l11 -14l11 -14l10 -14l10 -14M1919 1146l9 -19l10 -19l11 -17l13 -16M1897 1323l11 -11l11 -11l11 -10l11 -11M2085 1843l12 -16l12 -16l12 -16l12 -16M2114 1747l7 -10l6 -11l7 -11M2187 1243l14 1l15 2l14 1l15 1M2113 1253l15 1l16 1l15 1l15 1M2120 1187l17 2l17 2l17 2l18 2M1764 1214l12 -15l12 -15l11 -15l10 -16M1882 1181l6 -13l5 -13l6 -13l6 -13M1744 1143l15 -17l15 -17l14 -18l13 -19M1982 1170l9 -8l10 -6l11 -4M2223 1749l11 -15l11 -15l10 -15l11 -15M1963 1199l9 -12l11 -12l12 -10M1780 1182l11 -15l10 -15l10 -16l9 -15M1973 1293l9 -9l10 -10l10 -9l10 -8M1892 1300l9 -9l9 -9l9 -9l9 -9M2058 1739l7 -12l8 -11l7 -12M2190 1477l10 -3l9 -4l9 -3M1935 1275l9 -8l8 -9l8 -8M2159 1566l9 -8l10 -8l10 -6M1899 1146l6 -15l7 -15l8 -15M1965 1165l14 -19l17 -15l20 -11l23 -6M1791 1311l15 -15l14 -15l14 -16l14 -15M2193 1154l22 1l21 2l22 1l21 1M2121 1265l20 0l19 1l20 1l19 2M2193 1865l12 -14l12 -14l12 -14l12 -15M2244 1563l12 -6l12 -6l13 -6M2124 1521l14 -7l14 -6l14 -6M2249 1747l10 -15l11 -14l11 -14l11 -15M2131 1483l13 -4l14 -5l13 -5l14 -4M2095 1421l16 -5l16 -5l15 -4l16 -4M1884 1193l9 -21l9 -22l9 -21l10 -21M1896 1278l11 -12l10 -12l11 -12M2243 1188l16 1l16 1l16 1M2115 1167l14 2l14 2l15 1l14 2M2242 1609l17 -16l18 -14l20 -13l20 -11M1884 1143l3 -8l4 -8l3 -8M2247 1248l20 2l20 1l20 1l20 1M2186 1730l10 -13l9 -14l9 -13M1764 1176l11 -14l10 -14l11 -14l9 -15M1787 1176l11 -15l10 -15l9 -15l9 -16M2126 1733l8 -12l7 -12l8 -12l8 -12M2123 1709l6 -11l7 -12l7 -11l8 -11M2157 1455l19 -6l20 -6l19 -5l20 -5M2079 1669l12 -20l13 -19l15 -17l17 -16M2056 1798l8 -11l8 -11l8 -11M2177 1877l10 -13l10 -12l11 -12l10 -12M2189 1707l9 -12l8 -12l9 -12M2147 1341l20 -3l20 -3l20 -3l21 -3M2048 1655l15 -17l15 -17l16 -17l17 -16M2151 1205l18 2l18 2l18 2l18 2M1908 1240l8 -13l8 -13l7 -14l7 -13M2131 1454l13 -4l13 -5l13 -3l13 -4M2167 1544l9 -5l9 -5l10 -4M2230 1670l13 -17l13 -18l15 -16l16 -15M2220 1288l20 1l20 2l20 0l20 1M2247 1546l11 -5l12 -5l11 -5M2192 1365l22 -4l22 -5l22 -4l22 -4M2214 1395l22 -5l22 -5l22 -5l22 -4M1844 1239l14 -17l10 -20l8 -20l9 -20M2224 1815l14 -17l13 -16l14 -17l13 -17M1823 1193l7 -11l5 -11l6 -12M1822 1241l10 -13l10 -14l8 -15l7 -15M2215 1744l8 -10l7 -11l7 -10l8 -10" stroke="#b1c5e8" stroke-width="1.9" opacity="0.95" fill="none" stroke-linecap="round"/></g><clipPath id="landclip"><polygon points="1188,1141 1193.1,1141.9 1200.7,1140.3 1206,1140.8 1212.5,1141.7 1217,1139.7 1225,1140.8 1230.8,1139.6 1236,1141.5 1241.5,1142.1 1249.2,1139.7 1253,1141 1261.4,1140.6 1265.5,1140.7 1271,1140.2 1278.1,1140.9 1283.6,1140.2 1289.6,1140.7 1295.8,1139.6 1303.2,1141 1308.7,1140 1315.7,1141.7 1319.4,1140.4 1327,1141.3 1333.6,1140.6 1339.3,1141.2 1344,1141 1351.5,1141.7 1356.5,1141 1361.3,1140.1 1369.3,1140.5 1373.7,1140.9 1381.1,1141.2 1386.3,1140.5 1392.7,1141.4 1398.7,1140.4 1404.7,1139.5 1409.5,1141.2 1418,1140.9 1422.5,1139.8 1428.8,1141.9 1435.5,1140.7 1441.7,1139.9 1446.8,1141.8 1453,1140.5 1458.2,1140.7 1466.1,1139.3 1471.6,1141.4 1477.9,1141.2 1483.7,1140.6 1489.1,1140.4 1493.8,1141.5 1501.2,1139.8 1507,1140.5 1512.6,1140.1 1519.1,1140.8 1525.3,1140.4 1529.8,1139.8 1536.3,1140.7 1544.1,1141.2 1549.9,1141.3 1554.5,1141.3 1561.6,1139.4 1565.9,1139.2 1573.9,1139.8 1578.2,1140.7 1584.8,1139.3 1590.4,1140.5 1596.4,1139.8 1603.9,1140.3 1608.9,1140.3 1614.1,1140.1 1621.2,1139.5 1626.4,1141.4 1633.4,1139.6 1639.7,1141.2 1644.2,1139.1 1650.5,1140.9 1656.6,1140.8 1664,1140.4 1668.8,1141.5 1676.3,1140.3 1680.8,1140.7 1687.3,1140.5 1693.1,1140.6 1698.5,1139.7 1706.8,1141.2 1711.1,1141.2 1717.2,1141.4 1724.3,1140 1729.1,1138.9 1736.7,1139 1742.6,1141.4 1747.9,1139.3 1754.7,1141.4 1760.3,1140.2 1765.5,1139.7 1771.1,1140.6 1777.7,1139.3 1782.8,1140.5 1789.4,1140.1 1795.5,1141.1 1803,1138.8 1807.2,1139.6 1815.2,1140.8 1819.6,1139.3 1826.5,1140.9 1833.1,1139.6 1839,1140.5 1844,1141.3 1849.4,1140.6 1855,1139.2 1862.1,1140 1861.8,1145.6 1859.4,1152.8 1856,1158.9 1851.2,1164.4 1845.3,1169.5 1837.7,1175.3 1830.9,1177.5 1825.9,1181 1818.7,1183.5 1813,1189.9 1805.1,1194.3 1799.6,1199.9 1795,1204 1791.5,1210.6 1783.6,1214.3 1778.7,1216.9 1770.7,1219.1 1764.3,1221.5 1758.3,1221.9 1750.9,1222.1 1742.9,1222.9 1737.2,1224.2 1731.4,1225.7 1724.7,1226.8 1716.2,1229 1710,1229.6 1706.1,1229.6 1700.2,1232.4 1692.5,1237.8 1689.6,1242.8 1684.7,1251 1681.1,1255.4 1678.9,1262.2 1677.5,1268.1 1672.5,1273.6 1670.1,1281.2 1668.1,1286.7 1660.5,1286.1 1654.7,1284.6 1649.6,1281.3 1641.3,1280.1 1635.5,1278.5 1627.9,1279.5 1621.2,1278.3 1617.2,1279.6 1609.6,1280.6 1602.9,1281.2 1595.9,1280.4 1590.9,1283 1584.5,1281.1 1576.1,1282.6 1570.3,1282.6 1564.7,1285.1 1557.2,1287.8 1549.3,1289.8 1543.1,1292.1 1536.3,1292.8 1529.4,1294.3 1525.4,1296.1 1518.2,1297.9 1512.6,1298.6 1505.1,1300.3 1499.2,1302.5 1493.7,1306.6 1488.8,1308.4 1487.1,1313.3 1483.4,1319.3 1489.7,1324.8 1496.9,1330.1 1494.4,1338.5 1491.5,1346.4 1485.4,1347.9 1480,1350.8 1475.2,1354.6 1468.6,1349.4 1461.6,1346.4 1457.1,1338.6 1454.8,1330.1 1455.7,1322.8 1457.6,1313.8 1459.6,1308 1461.6,1300.3 1455.3,1296.2 1451.5,1291 1445.3,1288 1440.2,1288.5 1433.4,1292 1426.3,1292.1 1420.8,1290.3 1412.6,1289.4 1407.3,1288 1401.6,1288.5 1394.7,1289.1 1388,1289.9 1380.1,1292.1 1372.4,1295 1366.4,1296.8 1358.4,1297.5 1353.9,1302.7 1348,1305.8 1342.1,1311.1 1339.2,1317 1336.7,1324.7 1330,1326 1321.5,1325.4 1314.9,1327.4 1306.8,1335.6 1305.3,1341.8 1301.5,1346.5 1298.7,1351.9 1296.8,1358.5 1293.2,1365.5 1287.5,1367.7 1281.7,1369.6 1277.3,1373.4 1271.5,1376.3 1269,1382.4 1265.7,1389.9 1263.3,1398 1260.3,1403.5 1260.1,1410 1257,1416.7 1255.2,1422.5 1257.2,1426.6 1260.7,1433.4 1263.3,1438.8 1266.4,1444.1 1269.3,1450.3 1270.8,1455.1 1274.2,1460.5 1279.6,1464.3 1284.8,1469.7 1290.5,1474.1 1294.3,1483.3 1295.9,1490.4 1299,1496.2 1302,1500.2 1306.8,1506.7 1311.4,1512.2 1315,1516.4 1320.4,1520.3 1329.5,1521.4 1336.7,1523.6 1341.3,1529.2 1344.5,1533.6 1349.5,1538.1 1353,1542.6 1358.8,1548 1364,1551.5 1366.8,1555 1371.8,1560.2 1377.4,1564.3 1381.9,1568.6 1385.5,1575.8 1388.4,1580.7 1391.8,1586.7 1396.4,1591.5 1398.5,1598.2 1403.8,1602.7 1405.6,1608.9 1410.7,1612.3 1412.7,1618.7 1416.2,1625 1418.6,1630 1420.7,1636.1 1423.6,1640.4 1427.5,1645.5 1429.8,1651.1 1430.9,1656.2 1434.5,1662.1 1432.8,1669.3 1434.3,1673.3 1432.7,1680.2 1431.7,1686.6 1430.1,1692.1 1429.7,1699.4 1428.4,1704.1 1429,1711 1431.6,1715.2 1434.8,1722.1 1437.2,1727.3 1437.1,1733.8 1434.8,1741.9 1434.5,1749 1432.1,1756.5 1430.2,1764 1429,1770.8 1431.1,1779.7 1431.7,1787.1 1430.3,1792.6 1426.3,1798.9 1423.6,1803.4 1418.9,1809 1412.4,1813.7 1407.3,1819.7 1400.9,1823.2 1395.4,1825.7 1391.1,1829 1386.3,1831.8 1380.1,1833.2 1373.8,1836.6 1369.5,1839.5 1363.9,1843.1 1358.4,1846.8 1353.1,1848.2 1347.4,1852.1 1341.6,1854.7 1337.4,1858.2 1331.2,1860.4 1324,1863.5 1316.4,1865.1 1309.5,1868.5 1306.4,1874.3 1306.2,1882.2 1304.1,1887.6 1304.9,1894.4 1304.1,1901.1 1299.3,1901 1292.8,1900.9 1286.5,1902.4 1279.3,1900.3 1274.1,1901.2 1267.4,1899.9 1261.4,1901 1255.4,1902.1 1249.8,1901.8 1244.5,1901.8 1237.4,1901.8 1231.7,1901.5 1225.3,1901.1 1225.6,1894.1 1225.3,1887.6 1222.9,1881.1 1219.9,1874 1214.2,1873.4 1206.3,1871.3 1200.3,1874 1194.7,1875.4 1187.3,1875.3 1188.1,1869.6 1186.9,1862.7 1187.8,1858.3 1187.4,1850.4 1188.2,1845.2 1187.2,1838 1187.4,1833.8 1187.1,1826.8 1187.7,1819.9 1187.4,1816.3 1187.8,1808.9 1187.8,1803.4 1186.6,1796.3 1188.4,1790.5 1186.3,1785.9 1187.4,1778.7 1187.4,1773.6 1186.5,1767.4 1188,1761.8 1186.8,1755.2 1186.7,1749.1 1186.6,1743.7 1188.4,1736.5 1186.7,1732.1 1188,1725.8 1186.2,1719.9 1187.8,1712.3 1187.3,1707.5 1188.2,1700 1187.8,1693.9 1188.7,1688.6 1188.5,1683.3 1187.8,1676.1 1187.6,1669.7 1186.5,1665.2 1187.1,1659.3 1186.8,1653.2 1188.1,1646.1 1186.5,1640.3 1187.5,1633.5 1186.7,1627.4 1187.8,1623.5 1186.8,1615.3 1188.1,1611.3 1188.8,1604.8 1187.1,1599.3 1186.6,1592.9 1186.5,1586.2 1187.6,1580.1 1186.7,1573.7 1188.4,1568.3 1187.8,1561.6 1188.2,1555.9 1187.8,1551.4 1188.9,1543.1 1188.4,1539.2 1187.1,1531.9 1187.8,1527.3 1187.4,1521.2 1188.3,1513.3 1188.7,1506.9 1186.7,1502.6 1186.5,1495.8 1186.7,1490 1188.5,1485.1 1186.5,1476.9 1188.6,1470.9 1187.1,1465 1186.6,1458.8 1188.1,1454.6 1188.2,1448.9 1188.1,1441.7 1188.1,1437.2 1188.1,1429.3 1186.6,1425 1188,1417.5 1188,1412 1187.8,1404.7 1187.4,1399.6 1187,1394.8 1187.6,1388.2 1188.3,1382.4 1188.3,1376.4 1187.1,1371 1186.9,1364.8 1188.7,1358.6 1186.6,1350.6 1188.6,1345.6 1187.5,1340.9 1186.6,1333.7 1187.7,1326.6 1187.6,1322.1 1188.8,1314.3 1187.9,1308.5 1188.6,1302.4 1186.6,1297.2 1188.5,1291 1186.9,1286.2 1188.7,1280.4 1187.4,1273.2 1187.2,1267.6 1187.4,1261 1188.6,1256.6 1188.1,1248.3 1188.3,1243.2 1189.2,1237.9 1188.8,1231.8 1188,1226.3 1188.8,1218.7 1187,1212.9 1188,1206.2 1187.5,1201.4 1186.8,1196 1188.3,1188.7 1187.4,1182.8 1187.5,1177.8 1188,1171.2 1187.1,1166.2 1187.5,1158.6 1186.9,1154.3 1187.9,1148.1" fill="#000" /><polygon points="1426.3,1379 1434.5,1378.1 1439.9,1374.6 1448,1373.6 1455.5,1373.4 1462,1371.9 1468.6,1371.8 1475.2,1370.9 1481.7,1370.2 1487.7,1370.7 1494.2,1370.9 1501.5,1373.2 1507.8,1373.6 1514.1,1379.1 1518.7,1384.5 1517.2,1392.2 1516,1400.8 1510.5,1404.3 1506.8,1409.5 1502.4,1414.3 1499.4,1421.9 1496.9,1427.9 1492.5,1433.5 1487.4,1437.8 1483.4,1444.2 1477.6,1447.1 1472.5,1452.5 1467.1,1455.1 1462,1457.2 1457,1461.1 1450.8,1463.2 1443.1,1462.7 1434.5,1460.5 1426.8,1458.4 1418.2,1455.1 1412.4,1450.6 1407.3,1444.2 1406.2,1435.4 1403.2,1427.9 1403.1,1421.6 1401.9,1414.3 1404.5,1407.6 1407.3,1400.8 1411.4,1396.2 1415.5,1389.9 1420.9,1385.1" fill="#000" /><polygon points="1981.6,1140 1987.4,1140.1 1993.9,1140.2 2000.6,1139.1 2005.6,1140.7 2012.4,1139.5 2020.1,1139.9 2026,1140 2031.9,1139.3 2038.1,1140.7 2044.1,1140 2043.7,1146.8 2043.5,1151.8 2043.3,1159.2 2041.9,1164.4 2042.6,1171.6 2041.4,1178 2039.1,1185.6 2036.4,1192.5 2033,1199 2030.5,1205.2 2027.7,1211.5 2025.8,1215.3 2021.6,1220.9 2020.6,1226.8 2016.9,1232.4 2014.5,1238.1 2011.5,1244.3 2008.5,1250.9 2006.1,1256.8 2004.2,1264.4 2002,1270.4 1999.2,1265.8 1996.4,1260.5 1992.5,1254.1 1988.3,1247.1 1984.2,1242.3 1978.9,1235.1 1977,1229.8 1973.9,1223.6 1971.4,1218.9 1968,1213.3 1968.3,1206.4 1970.1,1202.1 1969.3,1195.6 1970.8,1188.9 1973.3,1181 1975.8,1174.9 1978.9,1167.2 1980.3,1159.5 1980.5,1152.7 1981.4,1146.5" fill="#000" /><polygon points="1989.8,1446.9 1995.6,1445.4 2002.5,1445 2008.2,1445.1 2016.9,1445.5 2022.4,1444.2 2028.5,1446.2 2033.3,1449.1 2037.8,1451.3 2043.4,1456.2 2049.5,1457.8 2057.6,1456.8 2064.8,1453.4 2071.3,1452.4 2072.1,1459.5 2074,1466 2071.9,1472.3 2069.5,1475.7 2066.1,1482.7 2063.1,1487.7 2064,1493.2 2064.9,1499.3 2065.8,1506.7 2071,1513.5 2074.1,1517.9 2079.1,1524.4 2082.1,1530.1 2084.8,1531.7 2083.1,1538.1 2079.4,1542.4 2077,1547.8 2074,1553.5 2069,1557.7 2066.6,1561.8 2060.6,1568 2057.7,1572.5 2053,1577.3 2049.5,1581.6 2046.8,1585.9 2041.4,1591.5 2039.8,1597.5 2039,1604.5 2036.9,1612.5 2036,1618.7 2036.4,1625.1 2038.8,1630.3 2038.7,1637.7 2043,1633.3 2050.2,1630.7 2055,1626.8 2058.4,1633.2 2063.1,1640.4 2059.6,1648.4 2057.7,1656.7 2061.2,1661.3 2068.2,1666 2072.6,1670.1 2076.7,1673 2070.9,1677 2068.9,1682.7 2063.1,1686.6 2056.1,1687 2049.8,1686 2042.2,1683.7 2036,1683.8 2029,1680.2 2022.1,1679.6 2015.1,1674.4 2008.8,1673 2001.3,1667.6 1996.9,1663.6 1989.8,1659.4 1984.7,1653.8 1982,1650.1 1976.2,1645.8 1971.8,1638.3 1967.8,1632.3 1965.3,1626.8 1964.9,1618.6 1962.3,1612.3 1962.6,1605.1 1959.2,1600 1956.2,1592.5 1954.5,1586.1 1954.3,1578.6 1953.9,1571.5 1951.7,1564.3 1956.5,1561.4 1961.4,1558.7 1968,1556.2 1970.1,1550.9 1974.3,1543.5 1976.2,1537.2 1976.3,1529.7 1978.2,1522.8 1979.6,1517.8 1981.6,1510 1984.3,1520.3 1982.5,1512.8 1983.6,1507.8 1981.6,1501.3 1985.6,1492.9 1987.1,1485 1989.9,1479 1991.4,1472.9 1992.5,1466 1991.6,1458.6 1989.9,1454.2" fill="#000" /><polygon points="2130.5,1680.1 2137,1678.1 2143.3,1675.6 2149.3,1674.7 2157.4,1676.6 2164.1,1675.5 2170.9,1677.4 2175,1683.6 2178.9,1690.9 2171.5,1696.3 2165.5,1698.9 2159.8,1696.7 2152.2,1697.5 2143.9,1696.2 2136.8,1698.3 2130.5,1701.6 2126.9,1696.1 2122.4,1690.9 2127,1686" fill="#000" /><polygon points="1987.7,1709.7 1994,1709.9 2001.9,1709.6 2007.1,1710 2012.6,1709.7 2020,1709.7 2026.9,1711.7 2031.8,1711.3 2038.2,1713.9 2046.5,1712.6 2052.4,1715.1 2056.5,1724.6 2057.7,1731.3 2054.2,1736.3 2048.6,1739.2 2045.7,1744.1 2041.6,1750.1 2038,1754.7 2034.8,1760.8 2033.3,1767.3 2030.8,1771.7 2022.8,1774.8 2014.7,1777 2010.2,1771.2 2005.6,1763.8 2001.2,1758.2 2000,1752.5 1996.8,1744.4 1993.1,1736.6 1991.2,1729.1 1989.8,1721.9 1989.9,1716.1" fill="#000" /><polygon points="2203.2,1750.1 2209.2,1749.9 2215.8,1747.7 2219.9,1747.7 2227.4,1747.4 2229.4,1754.4 2233.4,1759.8 2235.7,1766.1 2238.2,1771.7 2236.4,1778.2 2235.8,1786.3 2234.8,1792.8 2235.5,1798.6 2235.1,1806.3 2236.8,1812.7 2238.2,1820.1 2232,1819.6 2222.5,1823.2 2216.6,1822.8 2213.3,1815.5 2211.4,1812 2205.4,1804.4 2203.2,1798.6 2200.7,1791.3 2200.8,1784.1 2199.7,1777 2197.8,1771.7 2198.6,1765.4 2201.1,1757" fill="#000" /><polygon points="2055.1,1787.8 2061.7,1789 2070.4,1790.2 2076.3,1789 2084.7,1790.5 2090.4,1791.7 2098.8,1793.4 2105,1795.7 2111.6,1798.6 2113.7,1803.8 2118,1809.7 2118.2,1814.1 2122.4,1820.1 2118.6,1827.3 2117.9,1833.2 2115.3,1839 2111.6,1844.4 2107.6,1848.6 2100.1,1852.1 2095.4,1855.2 2090.1,1857.8 2083.1,1855.8 2075.3,1854 2068.5,1852.4 2065.9,1844.6 2065.4,1839.9 2063.9,1832.8 2060.4,1825.5 2059.7,1820 2057.5,1813.5 2057.6,1805.7 2056,1800.4 2055.2,1794" fill="#000" /><polygon points="2149.3,1790.5 2154.9,1790.4 2163.2,1790.5 2168.8,1787.8 2176.2,1787.8 2184.1,1791 2190,1793.7 2197.8,1795.9 2201.2,1801.6 2204.2,1804.8 2210.3,1810 2212.2,1816.2 2216.6,1820.1 2210.3,1824.5 2203.2,1830.9 2196.6,1828.7 2188.7,1826 2181.8,1822.3 2176.2,1820.1 2169.6,1816.5 2166.9,1814.5 2161.6,1811.9 2154.7,1809.4 2153.2,1804.2 2151.7,1795.6" fill="#000" /><polygon points="1955.4,1763.6 1964.9,1763.5 1971.6,1766.3 1975,1773.3 1977,1782.4 1973,1787.7 1966.2,1795.9 1963.3,1789.7 1958.1,1782.4 1958.3,1777.6 1955.5,1769.4" fill="#000" /><polygon points="1933.9,1814.7 1938.8,1817.4 1944.6,1820.1 1943.5,1827.1 1942.6,1835 1941.9,1841.7 1937.6,1847.5 1933.3,1851.9 1931.2,1857.8 1926.6,1862.1 1923.8,1868 1919.9,1875.4 1915,1879.4 1908,1883.3 1903.4,1885.3 1896.2,1887.5 1890.8,1882.1 1893.4,1875.9 1899.2,1869.3 1902.1,1863.3 1906.9,1857.8 1910.2,1853.3 1914.6,1846.8 1919.5,1843 1923.1,1836.3 1925.2,1829.5 1929.9,1826.5 1932,1820.2" fill="#000" /><polygon points="2103.5,1857.8 2109.9,1857.9 2117.5,1855.4 2122.4,1855.1 2128.6,1862.5 2133.2,1868.6 2131.8,1873.7 2128.1,1880.8 2127.8,1887.5 2122.2,1886.7 2115.2,1886.9 2108.9,1887.5 2108.9,1882.9 2106.5,1877.1 2104.4,1870.6 2105.7,1862.7" fill="#000" /><polygon points="2216.6,1836.3 2221.7,1835.4 2228.3,1832.7 2234.8,1832.2 2240.9,1830.9 2240.8,1837.1 2240.2,1842.7 2241.5,1849.2 2241.4,1856.9 2242,1863.7 2240.1,1867.8 2241.6,1875.1 2240,1881.7 2240.9,1887.5 2235.3,1888.5 2227.4,1887.5 2224.5,1880.8 2221.9,1876.8 2220.5,1870 2219.3,1863.2 2218.8,1856.8 2218.1,1850.7 2217.6,1842.4" fill="#000" /><polygon points="2055.1,1836.3 2061,1841.2 2065.8,1844.4 2064.5,1852.5 2063.1,1860.5 2055.1,1855.1 2054.7,1850.3 2054.4,1841.5" fill="#000" /><polygon points="2052.4,1628.9 2060.4,1628.9 2063,1636.2 2063.1,1642.4 2055.1,1647.8 2055,1642.7 2052.5,1635.6" fill="#000" /><polygon points="1845.8,1617.3 1853,1618.5 1862.1,1618.7 1867.5,1626.8 1859.8,1627.4 1851.2,1628.2 1847.7,1623.6" fill="#000" /></clipPath><polygon points="1188,1141 1193.1,1141.9 1200.7,1140.3 1206,1140.8 1212.5,1141.7 1217,1139.7 1225,1140.8 1230.8,1139.6 1236,1141.5 1241.5,1142.1 1249.2,1139.7 1253,1141 1261.4,1140.6 1265.5,1140.7 1271,1140.2 1278.1,1140.9 1283.6,1140.2 1289.6,1140.7 1295.8,1139.6 1303.2,1141 1308.7,1140 1315.7,1141.7 1319.4,1140.4 1327,1141.3 1333.6,1140.6 1339.3,1141.2 1344,1141 1351.5,1141.7 1356.5,1141 1361.3,1140.1 1369.3,1140.5 1373.7,1140.9 1381.1,1141.2 1386.3,1140.5 1392.7,1141.4 1398.7,1140.4 1404.7,1139.5 1409.5,1141.2 1418,1140.9 1422.5,1139.8 1428.8,1141.9 1435.5,1140.7 1441.7,1139.9 1446.8,1141.8 1453,1140.5 1458.2,1140.7 1466.1,1139.3 1471.6,1141.4 1477.9,1141.2 1483.7,1140.6 1489.1,1140.4 1493.8,1141.5 1501.2,1139.8 1507,1140.5 1512.6,1140.1 1519.1,1140.8 1525.3,1140.4 1529.8,1139.8 1536.3,1140.7 1544.1,1141.2 1549.9,1141.3 1554.5,1141.3 1561.6,1139.4 1565.9,1139.2 1573.9,1139.8 1578.2,1140.7 1584.8,1139.3 1590.4,1140.5 1596.4,1139.8 1603.9,1140.3 1608.9,1140.3 1614.1,1140.1 1621.2,1139.5 1626.4,1141.4 1633.4,1139.6 1639.7,1141.2 1644.2,1139.1 1650.5,1140.9 1656.6,1140.8 1664,1140.4 1668.8,1141.5 1676.3,1140.3 1680.8,1140.7 1687.3,1140.5 1693.1,1140.6 1698.5,1139.7 1706.8,1141.2 1711.1,1141.2 1717.2,1141.4 1724.3,1140 1729.1,1138.9 1736.7,1139 1742.6,1141.4 1747.9,1139.3 1754.7,1141.4 1760.3,1140.2 1765.5,1139.7 1771.1,1140.6 1777.7,1139.3 1782.8,1140.5 1789.4,1140.1 1795.5,1141.1 1803,1138.8 1807.2,1139.6 1815.2,1140.8 1819.6,1139.3 1826.5,1140.9 1833.1,1139.6 1839,1140.5 1844,1141.3 1849.4,1140.6 1855,1139.2 1862.1,1140 1861.8,1145.6 1859.4,1152.8 1856,1158.9 1851.2,1164.4 1845.3,1169.5 1837.7,1175.3 1830.9,1177.5 1825.9,1181 1818.7,1183.5 1813,1189.9 1805.1,1194.3 1799.6,1199.9 1795,1204 1791.5,1210.6 1783.6,1214.3 1778.7,1216.9 1770.7,1219.1 1764.3,1221.5 1758.3,1221.9 1750.9,1222.1 1742.9,1222.9 1737.2,1224.2 1731.4,1225.7 1724.7,1226.8 1716.2,1229 1710,1229.6 1706.1,1229.6 1700.2,1232.4 1692.5,1237.8 1689.6,1242.8 1684.7,1251 1681.1,1255.4 1678.9,1262.2 1677.5,1268.1 1672.5,1273.6 1670.1,1281.2 1668.1,1286.7 1660.5,1286.1 1654.7,1284.6 1649.6,1281.3 1641.3,1280.1 1635.5,1278.5 1627.9,1279.5 1621.2,1278.3 1617.2,1279.6 1609.6,1280.6 1602.9,1281.2 1595.9,1280.4 1590.9,1283 1584.5,1281.1 1576.1,1282.6 1570.3,1282.6 1564.7,1285.1 1557.2,1287.8 1549.3,1289.8 1543.1,1292.1 1536.3,1292.8 1529.4,1294.3 1525.4,1296.1 1518.2,1297.9 1512.6,1298.6 1505.1,1300.3 1499.2,1302.5 1493.7,1306.6 1488.8,1308.4 1487.1,1313.3 1483.4,1319.3 1489.7,1324.8 1496.9,1330.1 1494.4,1338.5 1491.5,1346.4 1485.4,1347.9 1480,1350.8 1475.2,1354.6 1468.6,1349.4 1461.6,1346.4 1457.1,1338.6 1454.8,1330.1 1455.7,1322.8 1457.6,1313.8 1459.6,1308 1461.6,1300.3 1455.3,1296.2 1451.5,1291 1445.3,1288 1440.2,1288.5 1433.4,1292 1426.3,1292.1 1420.8,1290.3 1412.6,1289.4 1407.3,1288 1401.6,1288.5 1394.7,1289.1 1388,1289.9 1380.1,1292.1 1372.4,1295 1366.4,1296.8 1358.4,1297.5 1353.9,1302.7 1348,1305.8 1342.1,1311.1 1339.2,1317 1336.7,1324.7 1330,1326 1321.5,1325.4 1314.9,1327.4 1306.8,1335.6 1305.3,1341.8 1301.5,1346.5 1298.7,1351.9 1296.8,1358.5 1293.2,1365.5 1287.5,1367.7 1281.7,1369.6 1277.3,1373.4 1271.5,1376.3 1269,1382.4 1265.7,1389.9 1263.3,1398 1260.3,1403.5 1260.1,1410 1257,1416.7 1255.2,1422.5 1257.2,1426.6 1260.7,1433.4 1263.3,1438.8 1266.4,1444.1 1269.3,1450.3 1270.8,1455.1 1274.2,1460.5 1279.6,1464.3 1284.8,1469.7 1290.5,1474.1 1294.3,1483.3 1295.9,1490.4 1299,1496.2 1302,1500.2 1306.8,1506.7 1311.4,1512.2 1315,1516.4 1320.4,1520.3 1329.5,1521.4 1336.7,1523.6 1341.3,1529.2 1344.5,1533.6 1349.5,1538.1 1353,1542.6 1358.8,1548 1364,1551.5 1366.8,1555 1371.8,1560.2 1377.4,1564.3 1381.9,1568.6 1385.5,1575.8 1388.4,1580.7 1391.8,1586.7 1396.4,1591.5 1398.5,1598.2 1403.8,1602.7 1405.6,1608.9 1410.7,1612.3 1412.7,1618.7 1416.2,1625 1418.6,1630 1420.7,1636.1 1423.6,1640.4 1427.5,1645.5 1429.8,1651.1 1430.9,1656.2 1434.5,1662.1 1432.8,1669.3 1434.3,1673.3 1432.7,1680.2 1431.7,1686.6 1430.1,1692.1 1429.7,1699.4 1428.4,1704.1 1429,1711 1431.6,1715.2 1434.8,1722.1 1437.2,1727.3 1437.1,1733.8 1434.8,1741.9 1434.5,1749 1432.1,1756.5 1430.2,1764 1429,1770.8 1431.1,1779.7 1431.7,1787.1 1430.3,1792.6 1426.3,1798.9 1423.6,1803.4 1418.9,1809 1412.4,1813.7 1407.3,1819.7 1400.9,1823.2 1395.4,1825.7 1391.1,1829 1386.3,1831.8 1380.1,1833.2 1373.8,1836.6 1369.5,1839.5 1363.9,1843.1 1358.4,1846.8 1353.1,1848.2 1347.4,1852.1 1341.6,1854.7 1337.4,1858.2 1331.2,1860.4 1324,1863.5 1316.4,1865.1 1309.5,1868.5 1306.4,1874.3 1306.2,1882.2 1304.1,1887.6 1304.9,1894.4 1304.1,1901.1 1299.3,1901 1292.8,1900.9 1286.5,1902.4 1279.3,1900.3 1274.1,1901.2 1267.4,1899.9 1261.4,1901 1255.4,1902.1 1249.8,1901.8 1244.5,1901.8 1237.4,1901.8 1231.7,1901.5 1225.3,1901.1 1225.6,1894.1 1225.3,1887.6 1222.9,1881.1 1219.9,1874 1214.2,1873.4 1206.3,1871.3 1200.3,1874 1194.7,1875.4 1187.3,1875.3 1188.1,1869.6 1186.9,1862.7 1187.8,1858.3 1187.4,1850.4 1188.2,1845.2 1187.2,1838 1187.4,1833.8 1187.1,1826.8 1187.7,1819.9 1187.4,1816.3 1187.8,1808.9 1187.8,1803.4 1186.6,1796.3 1188.4,1790.5 1186.3,1785.9 1187.4,1778.7 1187.4,1773.6 1186.5,1767.4 1188,1761.8 1186.8,1755.2 1186.7,1749.1 1186.6,1743.7 1188.4,1736.5 1186.7,1732.1 1188,1725.8 1186.2,1719.9 1187.8,1712.3 1187.3,1707.5 1188.2,1700 1187.8,1693.9 1188.7,1688.6 1188.5,1683.3 1187.8,1676.1 1187.6,1669.7 1186.5,1665.2 1187.1,1659.3 1186.8,1653.2 1188.1,1646.1 1186.5,1640.3 1187.5,1633.5 1186.7,1627.4 1187.8,1623.5 1186.8,1615.3 1188.1,1611.3 1188.8,1604.8 1187.1,1599.3 1186.6,1592.9 1186.5,1586.2 1187.6,1580.1 1186.7,1573.7 1188.4,1568.3 1187.8,1561.6 1188.2,1555.9 1187.8,1551.4 1188.9,1543.1 1188.4,1539.2 1187.1,1531.9 1187.8,1527.3 1187.4,1521.2 1188.3,1513.3 1188.7,1506.9 1186.7,1502.6 1186.5,1495.8 1186.7,1490 1188.5,1485.1 1186.5,1476.9 1188.6,1470.9 1187.1,1465 1186.6,1458.8 1188.1,1454.6 1188.2,1448.9 1188.1,1441.7 1188.1,1437.2 1188.1,1429.3 1186.6,1425 1188,1417.5 1188,1412 1187.8,1404.7 1187.4,1399.6 1187,1394.8 1187.6,1388.2 1188.3,1382.4 1188.3,1376.4 1187.1,1371 1186.9,1364.8 1188.7,1358.6 1186.6,1350.6 1188.6,1345.6 1187.5,1340.9 1186.6,1333.7 1187.7,1326.6 1187.6,1322.1 1188.8,1314.3 1187.9,1308.5 1188.6,1302.4 1186.6,1297.2 1188.5,1291 1186.9,1286.2 1188.7,1280.4 1187.4,1273.2 1187.2,1267.6 1187.4,1261 1188.6,1256.6 1188.1,1248.3 1188.3,1243.2 1189.2,1237.9 1188.8,1231.8 1188,1226.3 1188.8,1218.7 1187,1212.9 1188,1206.2 1187.5,1201.4 1186.8,1196 1188.3,1188.7 1187.4,1182.8 1187.5,1177.8 1188,1171.2 1187.1,1166.2 1187.5,1158.6 1186.9,1154.3 1187.9,1148.1" fill="#e2e8f1" /><polygon points="1426.3,1379 1434.5,1378.1 1439.9,1374.6 1448,1373.6 1455.5,1373.4 1462,1371.9 1468.6,1371.8 1475.2,1370.9 1481.7,1370.2 1487.7,1370.7 1494.2,1370.9 1501.5,1373.2 1507.8,1373.6 1514.1,1379.1 1518.7,1384.5 1517.2,1392.2 1516,1400.8 1510.5,1404.3 1506.8,1409.5 1502.4,1414.3 1499.4,1421.9 1496.9,1427.9 1492.5,1433.5 1487.4,1437.8 1483.4,1444.2 1477.6,1447.1 1472.5,1452.5 1467.1,1455.1 1462,1457.2 1457,1461.1 1450.8,1463.2 1443.1,1462.7 1434.5,1460.5 1426.8,1458.4 1418.2,1455.1 1412.4,1450.6 1407.3,1444.2 1406.2,1435.4 1403.2,1427.9 1403.1,1421.6 1401.9,1414.3 1404.5,1407.6 1407.3,1400.8 1411.4,1396.2 1415.5,1389.9 1420.9,1385.1" fill="#e2e8f1" /><polygon points="1981.6,1140 1987.4,1140.1 1993.9,1140.2 2000.6,1139.1 2005.6,1140.7 2012.4,1139.5 2020.1,1139.9 2026,1140 2031.9,1139.3 2038.1,1140.7 2044.1,1140 2043.7,1146.8 2043.5,1151.8 2043.3,1159.2 2041.9,1164.4 2042.6,1171.6 2041.4,1178 2039.1,1185.6 2036.4,1192.5 2033,1199 2030.5,1205.2 2027.7,1211.5 2025.8,1215.3 2021.6,1220.9 2020.6,1226.8 2016.9,1232.4 2014.5,1238.1 2011.5,1244.3 2008.5,1250.9 2006.1,1256.8 2004.2,1264.4 2002,1270.4 1999.2,1265.8 1996.4,1260.5 1992.5,1254.1 1988.3,1247.1 1984.2,1242.3 1978.9,1235.1 1977,1229.8 1973.9,1223.6 1971.4,1218.9 1968,1213.3 1968.3,1206.4 1970.1,1202.1 1969.3,1195.6 1970.8,1188.9 1973.3,1181 1975.8,1174.9 1978.9,1167.2 1980.3,1159.5 1980.5,1152.7 1981.4,1146.5" fill="#e2e8f1" /><polygon points="1989.8,1446.9 1995.6,1445.4 2002.5,1445 2008.2,1445.1 2016.9,1445.5 2022.4,1444.2 2028.5,1446.2 2033.3,1449.1 2037.8,1451.3 2043.4,1456.2 2049.5,1457.8 2057.6,1456.8 2064.8,1453.4 2071.3,1452.4 2072.1,1459.5 2074,1466 2071.9,1472.3 2069.5,1475.7 2066.1,1482.7 2063.1,1487.7 2064,1493.2 2064.9,1499.3 2065.8,1506.7 2071,1513.5 2074.1,1517.9 2079.1,1524.4 2082.1,1530.1 2084.8,1531.7 2083.1,1538.1 2079.4,1542.4 2077,1547.8 2074,1553.5 2069,1557.7 2066.6,1561.8 2060.6,1568 2057.7,1572.5 2053,1577.3 2049.5,1581.6 2046.8,1585.9 2041.4,1591.5 2039.8,1597.5 2039,1604.5 2036.9,1612.5 2036,1618.7 2036.4,1625.1 2038.8,1630.3 2038.7,1637.7 2043,1633.3 2050.2,1630.7 2055,1626.8 2058.4,1633.2 2063.1,1640.4 2059.6,1648.4 2057.7,1656.7 2061.2,1661.3 2068.2,1666 2072.6,1670.1 2076.7,1673 2070.9,1677 2068.9,1682.7 2063.1,1686.6 2056.1,1687 2049.8,1686 2042.2,1683.7 2036,1683.8 2029,1680.2 2022.1,1679.6 2015.1,1674.4 2008.8,1673 2001.3,1667.6 1996.9,1663.6 1989.8,1659.4 1984.7,1653.8 1982,1650.1 1976.2,1645.8 1971.8,1638.3 1967.8,1632.3 1965.3,1626.8 1964.9,1618.6 1962.3,1612.3 1962.6,1605.1 1959.2,1600 1956.2,1592.5 1954.5,1586.1 1954.3,1578.6 1953.9,1571.5 1951.7,1564.3 1956.5,1561.4 1961.4,1558.7 1968,1556.2 1970.1,1550.9 1974.3,1543.5 1976.2,1537.2 1976.3,1529.7 1978.2,1522.8 1979.6,1517.8 1981.6,1510 1984.3,1520.3 1982.5,1512.8 1983.6,1507.8 1981.6,1501.3 1985.6,1492.9 1987.1,1485 1989.9,1479 1991.4,1472.9 1992.5,1466 1991.6,1458.6 1989.9,1454.2" fill="#e2e8f1" /><polygon points="2130.5,1680.1 2137,1678.1 2143.3,1675.6 2149.3,1674.7 2157.4,1676.6 2164.1,1675.5 2170.9,1677.4 2175,1683.6 2178.9,1690.9 2171.5,1696.3 2165.5,1698.9 2159.8,1696.7 2152.2,1697.5 2143.9,1696.2 2136.8,1698.3 2130.5,1701.6 2126.9,1696.1 2122.4,1690.9 2127,1686" fill="#cdd9ea" /><polygon points="1987.7,1709.7 1994,1709.9 2001.9,1709.6 2007.1,1710 2012.6,1709.7 2020,1709.7 2026.9,1711.7 2031.8,1711.3 2038.2,1713.9 2046.5,1712.6 2052.4,1715.1 2056.5,1724.6 2057.7,1731.3 2054.2,1736.3 2048.6,1739.2 2045.7,1744.1 2041.6,1750.1 2038,1754.7 2034.8,1760.8 2033.3,1767.3 2030.8,1771.7 2022.8,1774.8 2014.7,1777 2010.2,1771.2 2005.6,1763.8 2001.2,1758.2 2000,1752.5 1996.8,1744.4 1993.1,1736.6 1991.2,1729.1 1989.8,1721.9 1989.9,1716.1" fill="#cdd9ea" /><polygon points="2203.2,1750.1 2209.2,1749.9 2215.8,1747.7 2219.9,1747.7 2227.4,1747.4 2229.4,1754.4 2233.4,1759.8 2235.7,1766.1 2238.2,1771.7 2236.4,1778.2 2235.8,1786.3 2234.8,1792.8 2235.5,1798.6 2235.1,1806.3 2236.8,1812.7 2238.2,1820.1 2232,1819.6 2222.5,1823.2 2216.6,1822.8 2213.3,1815.5 2211.4,1812 2205.4,1804.4 2203.2,1798.6 2200.7,1791.3 2200.8,1784.1 2199.7,1777 2197.8,1771.7 2198.6,1765.4 2201.1,1757" fill="#cdd9ea" /><polygon points="2055.1,1787.8 2061.7,1789 2070.4,1790.2 2076.3,1789 2084.7,1790.5 2090.4,1791.7 2098.8,1793.4 2105,1795.7 2111.6,1798.6 2113.7,1803.8 2118,1809.7 2118.2,1814.1 2122.4,1820.1 2118.6,1827.3 2117.9,1833.2 2115.3,1839 2111.6,1844.4 2107.6,1848.6 2100.1,1852.1 2095.4,1855.2 2090.1,1857.8 2083.1,1855.8 2075.3,1854 2068.5,1852.4 2065.9,1844.6 2065.4,1839.9 2063.9,1832.8 2060.4,1825.5 2059.7,1820 2057.5,1813.5 2057.6,1805.7 2056,1800.4 2055.2,1794" fill="#cdd9ea" /><polygon points="2149.3,1790.5 2154.9,1790.4 2163.2,1790.5 2168.8,1787.8 2176.2,1787.8 2184.1,1791 2190,1793.7 2197.8,1795.9 2201.2,1801.6 2204.2,1804.8 2210.3,1810 2212.2,1816.2 2216.6,1820.1 2210.3,1824.5 2203.2,1830.9 2196.6,1828.7 2188.7,1826 2181.8,1822.3 2176.2,1820.1 2169.6,1816.5 2166.9,1814.5 2161.6,1811.9 2154.7,1809.4 2153.2,1804.2 2151.7,1795.6" fill="#cdd9ea" /><polygon points="1955.4,1763.6 1964.9,1763.5 1971.6,1766.3 1975,1773.3 1977,1782.4 1973,1787.7 1966.2,1795.9 1963.3,1789.7 1958.1,1782.4 1958.3,1777.6 1955.5,1769.4" fill="#cdd9ea" /><polygon points="1933.9,1814.7 1938.8,1817.4 1944.6,1820.1 1943.5,1827.1 1942.6,1835 1941.9,1841.7 1937.6,1847.5 1933.3,1851.9 1931.2,1857.8 1926.6,1862.1 1923.8,1868 1919.9,1875.4 1915,1879.4 1908,1883.3 1903.4,1885.3 1896.2,1887.5 1890.8,1882.1 1893.4,1875.9 1899.2,1869.3 1902.1,1863.3 1906.9,1857.8 1910.2,1853.3 1914.6,1846.8 1919.5,1843 1923.1,1836.3 1925.2,1829.5 1929.9,1826.5 1932,1820.2" fill="#cdd9ea" /><polygon points="2103.5,1857.8 2109.9,1857.9 2117.5,1855.4 2122.4,1855.1 2128.6,1862.5 2133.2,1868.6 2131.8,1873.7 2128.1,1880.8 2127.8,1887.5 2122.2,1886.7 2115.2,1886.9 2108.9,1887.5 2108.9,1882.9 2106.5,1877.1 2104.4,1870.6 2105.7,1862.7" fill="#cdd9ea" /><polygon points="2216.6,1836.3 2221.7,1835.4 2228.3,1832.7 2234.8,1832.2 2240.9,1830.9 2240.8,1837.1 2240.2,1842.7 2241.5,1849.2 2241.4,1856.9 2242,1863.7 2240.1,1867.8 2241.6,1875.1 2240,1881.7 2240.9,1887.5 2235.3,1888.5 2227.4,1887.5 2224.5,1880.8 2221.9,1876.8 2220.5,1870 2219.3,1863.2 2218.8,1856.8 2218.1,1850.7 2217.6,1842.4" fill="#cdd9ea" /><polygon points="2055.1,1836.3 2061,1841.2 2065.8,1844.4 2064.5,1852.5 2063.1,1860.5 2055.1,1855.1 2054.7,1850.3 2054.4,1841.5" fill="#cdd9ea" /><polygon points="2052.4,1628.9 2060.4,1628.9 2063,1636.2 2063.1,1642.4 2055.1,1647.8 2055,1642.7 2052.5,1635.6" fill="#cdd9ea" /><polygon points="1845.8,1617.3 1853,1618.5 1862.1,1618.7 1867.5,1626.8 1859.8,1627.4 1851.2,1628.2 1847.7,1623.6" fill="#cdd9ea" /><g clip-path="url(#landclip)"><path d="M1447 1553l19 -18M1828 1613l17 -3M1214 1769l20 -10M1444 1885l20 -21M2070 1503l32 -12M1357 1620l29 -29M1744 1698l33 -11M1267 1710l28 -16M1513 1176l40 -11M1692 1681l38 -17M1943 1830l21 -16M2033 1480l40 -16M2114 1225l19 2M1426 1863l19 -20M1852 1374l27 -13M1601 1411l29 -14M1808 1818l34 -11M2166 1782l27 -35M1898 1273l28 -30M2203 1818l21 -25M1942 1308l28 -28M1796 1362l14 -9M2088 1881l11 -13M2033 1455l18 -7M1506 1718l30 -28M1246 1605l14 -8M1947 1396l37 -19M2220 1524l42 -16M1522 1210l32 -9M1233 1298l25 -10M1835 1268l11 -12M2102 1384l43 -9M2133 1431l27 -9M1741 1626l30 -13M1782 1609l41 -14M1727 1470l33 -16M1447 1374l39 -20M1742 1556l14 -7M1632 1579l13 -8M1840 1618l17 -3M1852 1496l32 -14M1567 1673l30 -22M1223 1198l33 -12M2202 1338l28 -4M1816 1388l23 -11M1525 1424l29 -16M1512 1430l33 -20M1228 1571l32 -19M1522 1317l37 -13M1448 1291l26 -10M1926 1228l13 -21M1547 1766l23 -17M2090 1277l25 -2M1876 1803l26 -12M1434 1242l29 -11M1398 1746l28 -29M1391 1358l36 -17M1868 1746l23 -10M1335 1368l33 -20M1482 1408l23 -14M1637 1454l38 -19M1362 1156l40 -16M2115 1878l18 -21M2188 1835l14 -17M1975 1768l27 -21M1740 1365l22 -12M1437 1203l31 -9M1498 1748l12 -11M2140 1663l25 -34M2132 1814l20 -25M1214 1701l17 -10M1512 1640l21 -22M1630 1843l28 -18M1555 1339l38 -15M1696 1728l24 -10M1405 1546l28 -28M1378 1735l32 -28M2038 1758l9 -12M1854 1787l15 -6M1482 1350l28 -13M1640 1501l34 -17M1202 1193l18 -7M1330 1203l41 -17M2089 1216l30 4M1529 1384l23 -11M1873 1584l25 -5M1399 1395l16 -10M1778 1679l25 -8M1283 1284l24 -11M1829 1728l25 -9M2033 1611l25 -12M1587 1518l30 -19M1637 1663l24 -16M1455 1547l27 -24M1274 1465l22 -17M2115 1841l16 -21M2134 1734l12 -19M1683 1244l34 -20M1889 1805l35 -16M1894 1692l31 -6M1307 1585l12 -9M1349 1722l13 -10M1295 1226l39 -15M1386 1170l38 -14M1326 1773l32 -15M2070 1853l20 -25M2031 1180l38 0M1732 1679l17 -6M1979 1840l13 -11M1537 1568l30 -26M1452 1285l21 -8M1841 1707l26 -7M1582 1445l23 -11M1635 1214l28 -12M2212 1456l36 -11M1367 1661l27 -27M1901 1533l28 -9M1869 1813l18 -8M1300 1703l36 -22M1738 1479l33 -16M1394 1350l19 -8M1809 1384l20 -10M1919 1854l20 -14M1934 1457l37 -16M1808 1349l17 -13M1224 1505l22 -15M1379 1418l20 -15M2005 1259l37 -26M1699 1593l25 -15M2068 1757l18 -26M1701 1683l38 -15M1616 1692l36 -25M1686 1322l20 -10M1946 1649l42 -11M2088 1331l20 -3M1469 1291l34 -13M2093 1814l13 -18M2100 1383l27 -6M1958 1216l11 -14M2067 1367l25 -5M1804 1649l15 -4M1548 1474l25 -16M1419 1583l30 -31M1607 1553l16 -10M1486 1642l12 -14M2123 1821l11 -14M2179 1428l37 -9M1988 1370l31 -18M1880 1745l21 -9M1984 1860l27 -23M1758 1236l19 -23M1566 1681l28 -21M1789 1287l22 -26M1856 1285l29 -30M1882 1244l24 -36M1347 1397l30 -21M1821 1561l33 -11M1676 1383l18 -9M1271 1679l32 -20M1765 1697l25 -8M1476 1435l33 -24M1244 1524l19 -12M2000 1413l23 -9M1619 1551l33 -20M1567 1775l15 -11M1481 1226l18 -5M2010 1688l16 -13M1397 1459l29 -24M2048 1703l18 -27M1352 1446l16 -13M1749 1571l19 -9M1460 1728l11 -12M2035 1808l25 -35M1598 1559l27 -18M1859 1871l33 -14M1511 1785l22 -20M1825 1687l15 -4M2001 1640l28 -10M1745 1491l19 -9M1751 1180l19 -23M1872 1480l29 -13M2197 1809l12 -15M2024 1611l15 -6M1574 1325l16 -6M1760 1836l23 -8M2105 1664l10 -16M2093 1595l31 -29M1945 1697l24 -8M2039 1838l26 -32M1655 1709l25 -16M1313 1184l16 -6M1408 1271l28 -11M1927 1548l27 -8M1875 1377l26 -13M1987 1448l19 -8M2135 1682l14 -22M1586 1542l27 -19M1433 1155l20 -6M2015 1258l25 -14M1403 1307l19 -8M1620 1277l15 -6M1314 1277l27 -13M1262 1169l27 -10M1624 1670l14 -9M1619 1445l14 -7M2204 1314l18 0M1694 1274l29 -16M1560 1244l16 -5M1957 1355l29 -25M1684 1839l22 -11M1460 1348l36 -16M1854 1406l16 -7M1910 1865l27 -18M1204 1175l17 -6M1377 1180l16 -6M1880 1815l19 -9M2213 1504l37 -13M2154 1844l10 -12M1517 1599l32 -29M1291 1369l35 -20M1319 1440l20 -15M1907 1835l18 -10M1969 1692l37 -16M1775 1832l25 -8M1631 1322l35 -16M1700 1351l18 -9M1949 1598l35 -9M1602 1511l17 -10M1939 1170l13 -26M1989 1651l17 -6M1447 1773l23 -25M2114 1794l17 -23M2133 1692l13 -21M1585 1206l26 -8M2194 1230l32 3M1315 1212l32 -13M1450 1189l19 -5M1870 1583l15 -3M1439 1864l15 -16M1785 1461l34 -17M1829 1733l29 -10M1396 1284l16 -7M2059 1236l16 1M2205 1299l42 2M1289 1495l17 -13M2063 1605l27 -21M1992 1794l18 -18M1827 1481l17 -8M2069 1590l31 -24M1414 1549l20 -20M1957 1210l16 -20M1704 1206l24 -20M1965 1464l32 -13M1830 1310l18 -18M2236 1399l27 -6M1288 1313l17 -10M2168 1687l24 -34M2226 1603l32 -29M1757 1461l39 -19M2139 1851l19 -23M2004 1452l42 -17M2157 1368l42 -8M1392 1223l34 -13M1506 1535l25 -23M1242 1701l20 -12M1650 1406l34 -16M1977 1364l15 -10M1511 1455l14 -10M1359 1714l28 -23M2215 1873l27 -32M1587 1272l23 -8M1682 1540l28 -14M1574 1780l19 -14M1682 1805l35 -19M1509 1331l37 -14M1210 1250l29 -11M1757 1275l11 -12M1412 1719l20 -21M2218 1730l26 -36M1237 1289l14 -6M1650 1402l15 -7M1768 1222l15 -19M1457 1743l19 -20M1471 1185l27 -7M1853 1649l42 -6M2041 1335l18 -5M1989 1733l23 -19M2064 1559l20 -12M1375 1166l32 -12M2133 1819l18 -23M1892 1836l35 -18M1827 1458l28 -13M1378 1287l33 -13M2232 1555l24 -12M1566 1487l33 -20M1671 1858l17 -9M1528 1537l21 -18M2085 1761l24 -35M1837 1175l14 -29M1772 1511l21 -10M1938 1823l15 -10M1895 1426l28 -13M2132 1859l22 -26M1403 1830l14 -15M1599 1762l20 -14M1482 1851l30 -31M1530 1442l20 -12M1337 1337l39 -22M1282 1322l18 -10M1283 1540l31 -21M2072 1617l29 -27M1206 1360l39 -21M1272 1350l26 -15M1479 1554l12 -11M1445 1857l13 -14M2142 1284l45 -2M1902 1628l19 -3M1257 1711l18 -10M1397 1758l29 -30M1251 1859l28 -14M1598 1232l25 -9M2227 1359l19 -4M1351 1246l23 -10M2152 1210l21 2M2177 1886l29 -34M1456 1413l36 -25M1704 1670l23 -9M1222 1407l32 -20M2013 1571l27 -9M1760 1478l28 -14M2066 1300l32 -5M2170 1777l12 -16M2202 1770l12 -16M1477 1302l16 -6M2218 1454l39 -12M1319 1163l38 -15M2026 1882l26 -24M1746 1716l17 -6M1762 1477l17 -9M1824 1391l27 -13M1588 1387l23 -11M1825 1874l41 -14M2097 1767l13 -19M2216 1351l18 -4M1721 1691l24 -8M1871 1361l38 -22M1671 1504l28 -14M2110 1878l20 -24M1659 1607l14 -9M1642 1776l31 -22M1262 1781l24 -11M2221 1422l21 -5M1771 1803l27 -9M2102 1676l13 -22M1513 1524l20 -18M1587 1632l34 -23M1808 1260l13 -17M1586 1605l16 -11M1285 1389l20 -12M1231 1549l37 -22M1756 1695l38 -12M2071 1824l17 -23M1910 1242l23 -34M1593 1502l36 -21M1498 1293l38 -13M1823 1215l9 -13M1565 1159l38 -12M1391 1355l24 -11M1732 1471l30 -15M1886 1474l16 -7M2218 1661l10 -14M1659 1707l38 -23M1269 1160l27 -11M1639 1810l33 -22M1545 1461l28 -16M2120 1301l27 -3M1292 1624l13 -8M2172 1538l29 -14M1289 1324l25 -14M2092 1549l20 -13M2221 1639l20 -24M1410 1372l37 -19M1338 1544l24 -24M1569 1718l34 -25M2092 1695l11 -18M1262 1471l19 -15M1402 1793l15 -16M2056 1842l11 -15M2150 1445l20 -6M1394 1181l28 -10M1600 1779l32 -23M1259 1448l21 -16M1385 1337l21 -9M1922 1403l16 -9M1429 1478l24 -21M1455 1667l14 -16M1898 1601l20 -4M1981 1443l29 -12M1822 1615l28 -6M1258 1731l36 -19M1710 1579l20 -11M2135 1657l13 -17M2050 1878l17 -18M2235 1508l19 -7M1946 1402l33 -17M1807 1232l19 -24M2085 1504l29 -11M2098 1481l28 -9M1806 1759l20 -7M1297 1712l27 -16M1515 1809l30 -28M1763 1879l38 -13M1978 1367l13 -8M1906 1693l25 -5M1698 1570l20 -11M1926 1566l26 -7M1314 1560l19 -16M1954 1280l19 -19M1404 1453l25 -21M1311 1193l27 -11" stroke="#c6d4ea" stroke-width="3" opacity="0.75" fill="none" stroke-linecap="round"/><path d="M1848 1698l38 -9M2180 1697l25 -35M1230 1495l36 -25M1875 1815l17 -8M1688 1334l28 -14M1797 1163l12 -18M1491 1827l26 -27M1366 1739l15 -12M1842 1246l9 -12M2106 1307l21 -3M2222 1794l15 -18M2200 1549l32 -16M1413 1845l24 -26M2205 1810l15 -18M1576 1275l18 -6M1268 1374l29 -17M1204 1651l22 -13M1522 1755l23 -19M1528 1507l28 -23M1259 1870l14 -7M1980 1774l12 -10M2019 1422l30 -12M1209 1187l19 -7M2193 1297l38 2M2167 1845l16 -19M1569 1539l31 -23M1312 1703l33 -21M2094 1180l43 6M1295 1403l27 -19M2155 1403l42 -10M1767 1383l21 -12M1385 1210l18 -7M1917 1886l16 -12M1250 1878l28 -14M1622 1327l30 -14M2059 1488l26 -9M1258 1826l14 -7M1713 1769l18 -7M1961 1851l26 -22M2020 1231l27 -8M1355 1774l20 -13M1671 1887l36 -19M2215 1486l28 -10M1959 1505l22 -9M1620 1261l25 -9M2228 1858l22 -26M1719 1402l16 -8M1483 1728l29 -29M1576 1731l31 -22M1922 1641l37 -7M1578 1671l19 -14M1705 1719l34 -12M1506 1848l25 -24M1804 1162l17 -27M1461 1647l19 -22M2049 1629l30 -25M1562 1626l29 -23M2061 1410l38 -13M2105 1659l24 -37M2195 1534l29 -12M1373 1768l33 -28M1696 1661l33 -16M1960 1279l27 -27M1804 1642l27 -7M1849 1722l32 -11M1949 1173l10 -17M1659 1631l18 -12M1913 1617l16 -3M1690 1319l15 -8M1339 1386l17 -11M1401 1179l27 -10M1596 1603l27 -18M1447 1817l10 -11M1622 1358l25 -12M1320 1764l24 -11M1238 1604l15 -9M1767 1402l29 -15M2197 1755l16 -22M2046 1625l21 -15M1348 1591l22 -23M2196 1864l21 -25M1565 1810l12 -9M1312 1569l26 -21M1346 1616l30 -29M1591 1470l19 -10M1503 1868l19 -18M2200 1825l21 -25M1470 1874l21 -21M1632 1388l40 -19M1711 1364l26 -13M1327 1610l22 -18M1505 1728l29 -27M1214 1544l20 -12M2173 1728l13 -18M1478 1267l42 -14M1505 1600l21 -20M1871 1597l37 -7M1323 1712l20 -13M1755 1400l21 -11M1751 1494l23 -11M1975 1587l16 -4M1463 1488l32 -27M2123 1554l12 -10M2010 1467l30 -12M1937 1618l29 -7M2148 1436l26 -8M2086 1297l24 -3M2063 1202l40 5M1922 1471l22 -9M2012 1822l13 -14M1698 1557l27 -14M1544 1266l31 -10M2044 1203l22 1M2052 1735l20 -29M1227 1684l38 -23M2238 1668l10 -13M2076 1314l34 -5M2190 1677l11 -16M1504 1828l14 -14M1835 1457l18 -8M1847 1185l7 -17M1594 1206l16 -5M1798 1699l39 -13M1340 1470l19 -15M1824 1513l39 -17M1589 1194l34 -11M1357 1617l21 -22M2147 1561l25 -22M1474 1558l17 -15M1981 1533l18 -6M1444 1426l30 -22M1386 1677l24 -25M1289 1644l15 -9M1330 1590l16 -15M2112 1506l23 -9M2028 1175l37 -1M1256 1264l41 -15M1908 1317l13 -13M2212 1642l25 -31M1345 1612l18 -18M1444 1398l28 -18M1563 1437l17 -8M2064 1629l27 -28M1651 1779l25 -17M1816 1574l36 -11M1611 1224l15 -5M1411 1182l40 -13M1700 1712l14 -5M1689 1807l30 -15M1646 1495l16 -8M1361 1270l24 -10M1601 1800l16 -11M1464 1357l18 -8M1499 1326l27 -11M1233 1833l23 -11M2175 1658l22 -28M1691 1848l17 -8M1895 1367l30 -18M1958 1273l15 -15M1226 1322l16 -8M1617 1869l22 -14M1524 1497l18 -15M1962 1681l19 -7M1450 1647l28 -33M1872 1470l40 -18M1207 1198l36 -14M1627 1186l29 -12M2229 1534l24 -9M1298 1205l39 -15M1711 1841l15 -6M1453 1190l26 -7M1263 1341l24 -13M1518 1191l16 -4M2210 1285l30 3M1618 1544l15 -9M1526 1232l30 -9M2158 1593l29 -29M1423 1166l30 -9M1706 1573l23 -13M1850 1686l42 -8M1520 1483l31 -24M1433 1238l23 -8M1291 1721l35 -19M1525 1248l17 -5M1455 1215l27 -8M1800 1333l13 -11M1929 1188l9 -19M1497 1428l15 -10M1637 1384l34 -16M1778 1812l33 -11M1990 1575l27 -8M2049 1635l33 -29M1957 1668l22 -7M2045 1434l18 -7M1269 1277l21 -8M1903 1363l14 -9M1994 1563l15 -5M1253 1249l24 -9M2094 1851l20 -26M1440 1468l20 -17M1544 1162l31 -9M2060 1687l10 -15M1752 1279l26 -25M1664 1843l34 -19M1323 1386l36 -23M1679 1472l25 -12M1998 1841l23 -20M2208 1591l14 -12M2047 1461l16 -6M2217 1177l32 3M1701 1801l24 -11M1424 1357l19 -9M1785 1415l34 -17M1451 1412l18 -13M2222 1771l25 -32M1843 1448l18 -8M2065 1513l15 -6M1376 1226l34 -14M2136 1299l39 -4M1537 1655l30 -28M1848 1741l24 -10M1210 1529l28 -17M1392 1439l19 -15M1228 1382l23 -13M1695 1670l24 -11M2222 1752l25 -35M1921 1646l31 -6M2031 1420l31 -12M1907 1537l22 -7M1281 1217l24 -9M1804 1711l35 -11M1519 1836l17 -16M1945 1206l20 -32M1897 1856l36 -21M1915 1769l34 -16M1835 1306l22 -22M2132 1329l44 -6M1766 1442l13 -7M1606 1284l33 -11M2136 1822l21 -26M1602 1233l34 -11M1776 1679l25 -8M2122 1309l24 -3M1478 1610l29 -30M1374 1618l26 -28M1434 1199l31 -9M2063 1799l21 -30M1634 1466l28 -14M2141 1375l23 -5M1830 1863l19 -7M1232 1238l30 -11M1828 1288l14 -15M1818 1628l35 -8M1958 1198l17 -24M2068 1857l15 -19M2084 1627l29 -32M1438 1665l26 -31M1696 1227l17 -12M1363 1221l18 -8M1840 1230l22 -31M1966 1753l33 -21M1942 1832l35 -26M1850 1862l17 -7M1307 1200l20 -8M1589 1490l31 -17M1973 1215l19 -19M1765 1429l16 -8M1821 1428l32 -15M1715 1861l40 -16M1275 1711l32 -18M1508 1239l28 -8M1568 1695l34 -25M1597 1367l27 -13M1925 1733l29 -13M1508 1401l36 -19M1740 1190l18 -21M1447 1643l11 -13M1482 1224l28 -8M2224 1551l24 -11M2171 1220l26 3M2043 1157l38 2M1575 1165l21 -7M1677 1434l27 -14M1255 1314l39 -20M1660 1500l16 -8M1490 1855l25 -25M1728 1192l19 -19M2010 1473l30 -12M2138 1627l24 -24M1237 1171l36 -14M1630 1796l32 -23M2152 1431l43 -12M1986 1808l14 -13M2012 1463l41 -17M2234 1312l28 0M1482 1498l18 -15M1893 1244l11 -17M1676 1207l22 -14M2133 1804l13 -17M1219 1762l39 -20M1823 1253l14 -17M2157 1842l10 -12M1392 1468l18 -15M1984 1427l35 -14M1358 1534l31 -32M1930 1219l9 -16M1869 1429l24 -11M1697 1581l38 -22M1451 1571l17 -16M1767 1691l18 -6M1700 1672l14 -6M2002 1461l28 -11M1835 1736l16 -6M1721 1181l19 -19M1560 1169l23 -7M1668 1634l36 -23M1585 1543l30 -21M2175 1851l29 -34M1514 1275l41 -13M1280 1483l29 -23M1750 1439l38 -19M1511 1559l30 -27M1344 1411l24 -18M1789 1305l20 -20M1262 1218l24 -9M1350 1864l19 -12M1487 1729l26 -27M1473 1762l23 -25M1604 1615l19 -12M1474 1797l19 -21M2133 1283l19 -1M1254 1697l27 -16M1210 1185l37 -14M1714 1793l15 -6M1812 1239l23 -29M1836 1603l21 -4M2187 1235l17 2M1911 1221l8 -15M1679 1630l35 -22M1950 1204l19 -29M2077 1242l38 3M1469 1373l13 -7M1989 1532l40 -14M1684 1267l19 -10M1474 1849l14 -15M1292 1412l14 -10M1642 1610l29 -19M1382 1255l28 -11M1915 1482l30 -13M2149 1260l23 1M1714 1547l38 -19M1778 1640l26 -9M2016 1767l15 -19M1312 1344l22 -13M2125 1347l34 -5M1866 1856l17 -7M2001 1400l17 -7M1857 1774l30 -13M1252 1868l24 -12M1862 1685l22 -4M1625 1395l16 -8M1267 1680l23 -14M2104 1199l24 3M1387 1846l28 -27M2132 1525l16 -8M1633 1319l14 -7M1788 1366l16 -10M1732 1839l41 -15M1685 1229l32 -21M1319 1548l13 -12M2227 1552l25 -12M1483 1558l33 -30M1645 1307l27 -13M2155 1434l33 -9M2155 1392l38 -9M1750 1256l11 -12M2177 1496l27 -10M2154 1575l22 -21M1496 1700l16 -17M1689 1711l31 -13M1340 1302l32 -16M1958 1228l30 -33M1339 1276l16 -8M1664 1608l34 -22M1370 1667l13 -13M1804 1338l20 -16M1255 1683l16 -10M1995 1400l30 -13M1865 1512l38 -15M2156 1360l25 -5M2112 1251l28 2M1631 1871l16 -10M1881 1709l36 -10M1201 1847l22 -11M2087 1639l17 -22M2071 1650l15 -20M1961 1524l34 -12M1839 1738l19 -7M1714 1154l28 -26M2002 1768l11 -12M1757 1505l17 -8M1411 1869l29 -29M1448 1762l23 -25M1600 1627l18 -12M1485 1160l33 -9M1805 1699l29 -9M1652 1378l33 -16M1588 1592l31 -21M1662 1657l14 -9M1471 1771l13 -14M1259 1164l35 -14M1311 1490l22 -17M2035 1503l29 -11M1226 1738l34 -18M1848 1767l31 -13M1945 1778l30 -16M1221 1803l40 -20M1409 1202l24 -8M1304 1424l14 -11M1429 1155l27 -8" stroke="#f3f6fa" stroke-width="3" opacity="0.8" fill="none" stroke-linecap="round"/><polyline points="1200.3,1221.5 1214.4,1207.9 1238.9,1193 1252.5,1207.9 1279.6,1213.3 1293.2,1218.8 1306.8,1221.5 1309.5,1237.8 1301.4,1248.7 1309.5,1262.2 1325.8,1278.5 1342.1,1286.7 1374.7,1290.8" fill="none" stroke="#b9ad6a" stroke-width="2.2" stroke-linejoin="round" opacity="0.9"/><polyline points="1336.7,1624.1 1342.1,1651.2 1350.3,1673 1347.5,1716.4 1350.3,1754.5 1331.2,1770.8 1301.4,1784.3 1293.2,1797.9 1268.8,1800.6 1263.3,1814.2 1279.6,1830.5 1276.9,1841.4 1244.3,1830.5 1222.6,1833.2 1211.7,1852.3 1200.3,1855" fill="none" stroke="#7fa3d6" stroke-width="2.4" stroke-linejoin="round" opacity="0.8"/><polyline points="1276.9,1510 1293.2,1526.3 1317.7,1537.2 1336.7,1564.3 1342.1,1580.6 1336.7,1624.1" fill="none" stroke="#7fa3d6" stroke-width="2.4" stroke-linejoin="round" opacity="0.8"/><polyline points="1200.3,1357.3 1214.4,1365.5 1217.2,1379 1206.3,1392.6 1200.3,1394" fill="none" stroke="#7090c8" stroke-width="2.4" stroke-linejoin="round" opacity="0.8"/><polyline points="1200.3,1427.9 1219.9,1438.8 1230.7,1455.1 1244.3,1466 1260.6,1487.7 1279.6,1514.8 1293.2,1530.1" fill="none" stroke="#7fa3d6" stroke-width="2.4" stroke-linejoin="round" opacity="0.8"/><polyline points="1200.9,1327.4 1238.9,1330.1 1244.3,1357.3 1241.6,1384.5 1233.5,1422.5 1236.2,1452.4 1252.5,1479.5 1271.5,1501.3 1285.1,1530.1" fill="none" stroke="#eadfb4" stroke-width="2.5" stroke-linejoin="round" opacity="0.9"/><polyline points="1268.8,1632.2 1271.5,1673 1276.9,1716.4 1279.6,1754.5 1293.2,1781.6 1287.8,1792.5 1257.9,1789.8" fill="none" stroke="#eadfb4" stroke-width="2.5" stroke-linejoin="round" opacity="0.8"/><polyline points="1309.5,1262.2 1353,1243.2 1391,1237.8 1396.4,1270.4 1434.5,1281.2 1461.6,1270.4 1467.1,1232.4 1526.8,1221.5 1529.5,1167.2 1559.4,1152.8" fill="none" stroke="#f4f7fb" stroke-width="2.5" stroke-linejoin="round" opacity="0.9"/></g><circle cx="1256" cy="1321.2" r="7.5" fill="#e8b99a" opacity="0.8"/><circle cx="1256" cy="1321.2" r="4.6" fill="#d9823a"/><rect x="1204.5" y="1544.9" width="9" height="9" rx="2" fill="#d68a3c"/><circle cx="1486.1" cy="1375" r="4" fill="#e58a9a" opacity="0.8"/><text x="1200.9" y="1514.7" font-family="'Liberation Sans', 'Noto Sans CJK SC', sans-serif" font-size="13" fill="#93a3ba" opacity="0.85">山丰城</text><text x="1200.9" y="1531.7" font-family="'Liberation Sans', 'Noto Sans CJK SC', sans-serif" font-size="13" fill="#93a3ba" opacity="0.85">坂市</text><ellipse cx="1541.8" cy="1520.3" rx="5.5" ry="4.6" fill="#c4d5ec" opacity="0.92"/><ellipse cx="1578.4" cy="1527.1" rx="5.5" ry="4.6" fill="#c4d5ec" opacity="0.92"/><ellipse cx="1541.8" cy="1520.9" rx="5.5" ry="4.6" fill="#c4d5ec" opacity="0.92"/><ellipse cx="1581.1" cy="1530.4" rx="5.5" ry="4.6" fill="#c4d5ec" opacity="0.92"/><ellipse cx="1549.9" cy="1553.5" rx="5.5" ry="4.6" fill="#c4d5ec" opacity="0.92"/><ellipse cx="1592" cy="1581.2" rx="5.5" ry="4.6" fill="#c4d5ec" opacity="0.92"/><ellipse cx="1528.2" cy="1590.1" rx="5.5" ry="4.6" fill="#c4d5ec" opacity="0.92"/><ellipse cx="1703.4" cy="1567.6" rx="5.5" ry="4.6" fill="#c4d5ec" opacity="0.92"/><ellipse cx="1664" cy="1583.3" rx="5.5" ry="4.6" fill="#c4d5ec" opacity="0.92"/><ellipse cx="1689.8" cy="1598.3" rx="5.5" ry="4.6" fill="#c4d5ec" opacity="0.92"/><ellipse cx="1665.3" cy="1606.4" rx="5.5" ry="4.6" fill="#c4d5ec" opacity="0.92"/><ellipse cx="1683" cy="1808.8" rx="5.5" ry="4.6" fill="#c4d5ec" opacity="0.92"/><ellipse cx="1717" cy="1826.4" rx="5.5" ry="4.6" fill="#c4d5ec" opacity="0.92"/><ellipse cx="1670.8" cy="1834.6" rx="5.5" ry="4.6" fill="#c4d5ec" opacity="0.92"/><ellipse cx="1684.4" cy="1862.3" rx="5.5" ry="4.6" fill="#c4d5ec" opacity="0.92"/><ellipse cx="1683" cy="1886.2" rx="5.5" ry="4.6" fill="#c4d5ec" opacity="0.92"/><ellipse cx="1763.8" cy="1313.8" rx="5.5" ry="4.6" fill="#c4d5ec" opacity="0.92"/><ellipse cx="1803.2" cy="1335" rx="5.5" ry="4.6" fill="#c4d5ec" opacity="0.92"/><ellipse cx="1942.2" cy="1183.5" rx="5.5" ry="4.6" fill="#c4d5ec" opacity="0.92"/><ellipse cx="1716.8" cy="1826.4" rx="5.5" ry="4.6" fill="#c4d5ec" opacity="0.92"/><ellipse cx="1756.2" cy="1841.4" rx="5.5" ry="4.6" fill="#c4d5ec" opacity="0.92"/><ellipse cx="1741.2" cy="1884.8" rx="5.5" ry="4.6" fill="#c4d5ec" opacity="0.92"/><polyline points="2098.4,1153.6 2095.7,1183.5" fill="none" stroke="#b3ad8c" stroke-width="3.6" stroke-linecap="round" opacity="0.9"/><polyline points="2057.7,1281.2 2019.7,1330.1" fill="none" stroke="#b3ad8c" stroke-width="3.6" stroke-linecap="round" opacity="0.9"/><polyline points="1962.6,1422.5 1943.6,1457.8" fill="none" stroke="#b3ad8c" stroke-width="3.6" stroke-linecap="round" opacity="0.9"/><polyline points="1433.1,1567 1450.8,1591.5 1461.6,1621.4" fill="none" stroke="#b3ad8c" stroke-width="3.6" stroke-linecap="round" opacity="0.9"/><polyline points="1484.7,1766.7 1480.6,1797.9 1467.1,1825.1" fill="none" stroke="#b3ad8c" stroke-width="3.6" stroke-linecap="round" opacity="0.9"/><polyline points="1911.5,1781.6 1900.1,1814.2 1890.6,1836" fill="none" stroke="#b3ad8c" stroke-width="3.6" stroke-linecap="round" opacity="0.9"/><polyline points="2240,1303 1911.5,1474" fill="none" stroke="#c0c02a" stroke-width="1.6" opacity="0.95"/><polyline points="1911.5,1474 1912.4,1830.5" fill="none" stroke="#a59c5c" stroke-width="3" opacity="0.95"/><line x1="1914.6" y1="1575" x2="1914.6" y2="1630" stroke="#c9b352" stroke-width="5" opacity="0.95"/><polyline points="1912.4,1830.5 1862,1888" fill="none" stroke="#b4c238" stroke-width="1.6" opacity="0.95"/><polyline points="1539.6,1757.6 1574.6,1706.4 1609.8,1670.7 1667.1,1655.2 1681.8,1650.3 1697,1643 1712.5,1625.4 1727.5,1605.5 1741,1594.2 1751,1584.6 1756.2,1566.5 1771,1542.6 1781.5,1529.5 1787,1511 1791.2,1490.3 1791.2,1456.6 1790,1432" fill="none" stroke="#f4f4fa" stroke-width="2.4"/><polyline points="1791.2,1490.3 1805.9,1486.5 1831.5,1512.6 1866.9,1533.9 1885,1543 1905.6,1529 1954.3,1529 2029.1,1543.9 2093,1554.5 2141.8,1565.6 2196.2,1579.2 2245,1596" fill="none" stroke="#f4f4fa" stroke-width="2.4"/><circle cx="1539.6" cy="1757.6" r="25" fill="#ffffff" opacity="0.18"/><circle cx="1539.6" cy="1757.6" r="20" fill="#ffffff" opacity="0.25"/><circle cx="1539.6" cy="1757.6" r="15" fill="#ffffff" opacity="0.35"/><circle cx="1539.6" cy="1757.6" r="8.6" fill="#aa00cc"/><circle cx="1574.6" cy="1706.4" r="8.6" fill="#aa00cc"/><circle cx="1609.8" cy="1670.7" r="8.6" fill="#00e5cc"/><circle cx="1667.1" cy="1655.2" r="8.6" fill="#00e5cc"/><circle cx="1681.8" cy="1650.3" r="8.6" fill="#00e5cc"/><circle cx="1697" cy="1643" r="8.6" fill="#00e5cc"/><circle cx="1712.5" cy="1625.4" r="8.6" fill="#00e5cc"/><circle cx="1727.5" cy="1605.5" r="8.6" fill="#00e5cc"/><circle cx="1741" cy="1594.2" r="8.6" fill="#00e5cc"/><circle cx="1751" cy="1584.6" r="8.6" fill="#00e5cc"/><circle cx="1756.2" cy="1566.5" r="8.6" fill="#ffd21e"/><circle cx="1771" cy="1542.6" r="8.6" fill="#ffe600"/><circle cx="1781.5" cy="1529.5" r="8.6" fill="#ffe600"/><circle cx="1787" cy="1511" r="8.6" fill="#ff8c28"/><circle cx="1791.2" cy="1490.3" r="8.6" fill="#ff8c28"/><circle cx="1791.2" cy="1456.6" r="8.6" fill="#ff8c28"/><circle cx="1805.9" cy="1486.5" r="8.6" fill="#f01414"/><circle cx="1831.5" cy="1512.6" r="8.6" fill="#f01414"/><circle cx="1866.9" cy="1533.9" r="8.6" fill="#f01414"/><circle cx="1885" cy="1543" r="8.6" fill="#f01414"/><circle cx="1905.6" cy="1529" r="8.6" fill="#f01414"/><circle cx="1954.3" cy="1529" r="8.6" fill="#ff3399"/><circle cx="2029.1" cy="1543.9" r="8.6" fill="#ff3399"/><circle cx="2093" cy="1554.5" r="8.6" fill="#aa00cc"/><circle cx="2141.8" cy="1565.6" r="8.6" fill="#aa00cc"/><circle cx="2196.2" cy="1579.2" r="8.6" fill="#aa00cc"/><circle cx="2245" cy="1596" r="8.6" fill="#ff3399"/><circle cx="1783" cy="1428" r="12.5" fill="#ff3c96"/><circle cx="1794.5" cy="1427" r="9.5" fill="#f01414"/><circle cx="1793" cy="1442" r="6" fill="#f01414"/><rect x="1745.3" y="1469.3" width="116.8" height="86" fill="none" stroke="#ff0000" stroke-width="14"/><text x="1881" y="1417" font-family="'Liberation Serif', 'Times New Roman', serif" font-weight="bold" font-size="64" fill="#ff0000" textLength="179.5" lengthAdjust="spacingAndGlyphs">Target</text><text x="1886.5" y="1490.4" font-family="'Liberation Serif', 'Times New Roman', serif" font-weight="bold" font-size="64" fill="#ff0000" textLength="163" lengthAdjust="spacingAndGlyphs">region</text><ellipse cx="1404.6" cy="1194.3" rx="107.3" ry="42.1" fill="#b7cae8" fill-opacity="0.97"/><text x="1361.7" y="1203.3" font-family="'Liberation Sans', Arial, sans-serif" font-size="23.5" fill="#fff" textLength="87.7" lengthAdjust="spacingAndGlyphs">Nanning</text><ellipse cx="1656.2" cy="1187.1" rx="109" ry="34" fill="#b7cae8" fill-opacity="0.93"/><text x="1597.4" y="1196" font-family="'Liberation Sans', Arial, sans-serif" font-size="23.5" fill="#fff" textLength="122.3" lengthAdjust="spacingAndGlyphs">Guangzhou</text><ellipse cx="1567.6" cy="1247.3" rx="100" ry="35" fill="#d3dcee" fill-opacity="0.85"/><text x="1541.2" y="1256.3" font-family="'Liberation Sans', Arial, sans-serif" font-size="23.5" fill="#fff" textLength="72" lengthAdjust="spacingAndGlyphs">Macao</text><ellipse cx="1729.7" cy="1249.7" rx="98" ry="41.6" fill="#b5c7e6" fill-opacity="0.86"/><text x="1667.5" y="1259.3" font-family="'Liberation Sans', Arial, sans-serif" font-size="23.5" fill="#fff" textLength="109.5" lengthAdjust="spacingAndGlyphs">Hangkong</text><ellipse cx="1261.2" cy="1278.5" rx="64" ry="30" fill="#b7cae8" fill-opacity="0.97"/><text x="1230.7" y="1288" font-family="'Liberation Sans', Arial, sans-serif" font-size="24" fill="#fff" textLength="61.2" lengthAdjust="spacingAndGlyphs">Hanoi</text><ellipse cx="1487.4" cy="1391.3" rx="81.5" ry="40" fill="#9fb4d8" fill-opacity="0.22"/><text x="1439.9" y="1403" font-family="'Liberation Sans', Arial, sans-serif" font-size="32.5" fill="#fff" textLength="99.1" lengthAdjust="spacingAndGlyphs">Haikou</text><ellipse cx="1279.6" cy="1603.7" rx="82.8" ry="30" fill="#b7cae8" fill-opacity="0.97"/><text x="1250" y="1611.5" font-family="'Liberation Sans', Arial, sans-serif" font-size="23.5" fill="#fff" textLength="61.6" lengthAdjust="spacingAndGlyphs">pakse</text><ellipse cx="1355.2" cy="1675.2" rx="82" ry="36" fill="#b7cae8" fill-opacity="0.97"/><text x="1310.5" y="1684.5" font-family="'Liberation Sans', Arial, sans-serif" font-size="24" fill="#fff" textLength="90.5" lengthAdjust="spacingAndGlyphs">Vietnam</text><ellipse cx="2016.4" cy="1685.2" rx="108" ry="27.2" fill="#b7cae8" fill-opacity="0.93"/><text x="1951.2" y="1693.5" font-family="'Liberation Sans', Arial, sans-serif" font-size="23.5" fill="#fff" textLength="131" lengthAdjust="spacingAndGlyphs">Verde Island</text><ellipse cx="2106.6" cy="1749" rx="98.5" ry="36" fill="#b7cae8" fill-opacity="0.93"/><text x="2091.6" y="1742.2" font-family="'Liberation Sans', Arial, sans-serif" font-size="23.5" fill="#fff" textLength="35.4" lengthAdjust="spacingAndGlyphs">the</text><text x="2050.9" y="1774.8" font-family="'Liberation Sans', Arial, sans-serif" font-size="23.5" fill="#fff" textLength="115.4" lengthAdjust="spacingAndGlyphs">Philippines</text><ellipse cx="2155.5" cy="1849.5" rx="64" ry="20.4" fill="#b7cae8" fill-opacity="0.95"/><text x="2121.5" y="1860.5" font-family="'Liberation Sans', Arial, sans-serif" font-size="30" fill="#fff" textLength="73.5" lengthAdjust="spacingAndGlyphs">Cebu</text><ellipse cx="1215.8" cy="1727.3" rx="19" ry="105" fill="#b7cae8" fill-opacity="0.97"/><text transform="translate(1205.3 1657) rotate(90)" font-family="'Liberation Sans', Arial, sans-serif" font-size="31" fill="#fff" textLength="141" lengthAdjust="spacingAndGlyphs">Cambodia</text></g></g>
<g id="captions" font-family="'Liberation Serif', 'Times New Roman', serif" font-size="84" fill="#000"><text x="528.2" y="1046" textLength="93" lengthAdjust="spacingAndGlyphs">(<tspan font-weight="bold">a</tspan>)</text><text x="1669.5" y="1046" textLength="102.5" lengthAdjust="spacingAndGlyphs">(<tspan font-weight="bold">b</tspan>)</text><text x="530.4" y="2087.7" textLength="89" lengthAdjust="spacingAndGlyphs">(<tspan font-weight="bold">c</tspan>)</text><text x="1669.5" y="2087.7" textLength="102.5" lengthAdjust="spacingAndGlyphs">(<tspan font-weight="bold">d</tspan>)</text></g>
</svg></body></html>
